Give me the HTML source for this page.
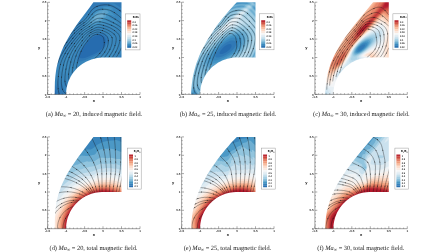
<!DOCTYPE html>
<html><head><meta charset="utf-8"><title>Magnetic field figure</title>
<style>html,body{margin:0;padding:0;background:#fff}svg{display:block;text-rendering:geometricPrecision}</style></head>
<body>
<svg width="448" height="252" viewBox="0 0 448 252">
<rect width="448" height="252" fill="#fff"/>
<defs>
<mask id="cpa" maskUnits="userSpaceOnUse" x="47.6" y="-1.4" width="90" height="100"><path d="M54.7 94.5 54.8 86.7 54.9 82 55.1 78.9 55.4 75.7 56 71.1 56.5 67.9 57.2 64.8 58 61.7 58.4 60.1 59.4 57 59.9 55.4 60.5 53.9 61.7 50.7 62.4 49.2 63.8 46.1 66.2 41.4 68.9 36.7 71.8 32 75 27.3 78.3 22.6 81.7 17.9 90 7 93.4 2.3 121.5 2.3 121.5 57.6 102 57.6 99.1 57.8 97.1 58.1 95.2 58.5 93.3 58.9 91.4 59.5 89.6 60.2 87.8 60.9 86 61.8 84.3 62.7 82.6 63.8 80.2 65.5 78.7 66.7 77.2 68.1 75.9 69.5 74 71.7 72.8 73.3 71.7 74.9 70.7 76.6 69.8 78.4 68.6 81.1 67.6 83.9 67.1 85.7 66.5 88.6 66.3 90.6 66.1 92.5 66.1 94.5Z" fill="#fff"/></mask>
<mask id="cpb" maskUnits="userSpaceOnUse" x="181.6" y="-1.5" width="90" height="100"><path d="M191.2 94.4 191.3 91.3 191.4 88.1 191.7 85 192.1 81.9 192.5 78.8 193.1 75.6 194.2 71 195.5 66.3 196.5 63.1 197.7 60 199.5 55.3 200.9 52.2 202.4 49.1 204.9 44.4 206.6 41.3 208.5 38.1 210.5 35 212.5 31.9 214.7 28.8 216.9 25.6 220.5 21 223 17.8 225.6 14.7 228.3 11.6 231 8.5 233.9 5.3 236.8 2.2 255.5 2.2 255.5 57.5 236 57.5 234.1 57.6 231.1 58 229.2 58.4 227.3 58.8 225.4 59.4 223.6 60.1 221.8 60.8 220 61.7 218.3 62.6 216.6 63.7 214.2 65.4 212.7 66.6 211.2 68 209.9 69.4 208 71.6 206.8 73.2 205.7 74.8 204.2 77.4 203.4 79.2 202.6 81 201.6 83.8 201.1 85.6 200.7 87.6 200.4 89.5 200.2 91.5 200.1 94.4Z" fill="#fff"/></mask>
<mask id="cpc" maskUnits="userSpaceOnUse" x="314.9" y="-1.5" width="90" height="100"><path d="M325.2 94.4 325.3 91.3 325.5 88.1 325.9 83.5 326.3 80.3 326.9 77.2 327.6 74.1 328 72.5 328.9 69.4 329.4 67.8 329.9 66.3 331 63.1 333 58.5 334.4 55.3 336 52.2 338.6 47.5 341.5 42.8 344.6 38.1 346.8 35 349.1 31.9 352.6 27.2 357.6 21 373.1 2.2 388.8 2.2 388.8 57.5 369.3 57.5 367.4 57.6 364.4 58 362.5 58.4 360.6 58.8 358.7 59.4 356.9 60.1 355.1 60.8 353.3 61.7 351.6 62.6 349.9 63.7 347.5 65.4 346 66.6 344.5 68 343.2 69.4 341.3 71.6 340.1 73.2 339 74.8 338 76.5 337.1 78.3 336.3 80.1 335.2 82.8 334.7 84.7 334.2 86.6 333.7 89.5 333.4 92.4 333.4 94.4Z" fill="#fff"/></mask>
<mask id="cpd" maskUnits="userSpaceOnUse" x="47.6" y="133.2" width="90" height="100"><path d="M54.7 228.7 54.8 220.9 54.9 216.3 55.1 213.1 55.4 210 56 205.4 56.5 202.2 57.2 199.1 58 196 58.4 194.5 59.4 191.4 59.9 189.8 60.5 188.2 61.7 185.1 62.4 183.6 63.8 180.5 66.2 175.8 68.9 171.1 71.8 166.5 75 161.8 78.3 157.1 81.7 152.5 90 141.6 93.4 136.9 121.5 136.9 121.5 192 102 192 99.1 192.2 97.1 192.4 95.2 192.8 93.3 193.3 91.4 193.8 89.6 194.5 87.8 195.3 86 196.1 84.3 197.1 82.6 198.1 81 199.2 78.7 201.1 77.2 202.4 75.9 203.8 74.6 205.3 72.8 207.6 71.2 210.1 70.2 211.8 69 214.4 68.3 216.2 67.6 218.1 67.1 220 66.7 221.9 66.4 223.8 66.1 226.7 66.1 228.7Z" fill="#fff"/></mask>
<mask id="cpe" maskUnits="userSpaceOnUse" x="181.6" y="133.2" width="90" height="100"><path d="M191.2 228.7 191.3 225.6 191.4 222.5 191.7 219.4 192.1 216.3 192.5 213.1 193.1 210 194.2 205.4 195.5 200.7 196.5 197.6 197.7 194.5 199.5 189.8 200.9 186.7 202.4 183.6 204.9 178.9 206.6 175.8 208.5 172.7 210.5 169.6 212.5 166.5 214.7 163.4 216.9 160.2 220.5 155.6 223 152.5 225.6 149.3 228.3 146.2 231 143.1 233.9 140 236.8 136.9 255.5 136.9 255.5 192 236 192 233.1 192.2 231.1 192.4 229.2 192.8 227.3 193.3 225.4 193.8 223.6 194.5 221.8 195.3 220 196.1 218.3 197.1 216.6 198.1 215 199.2 212.7 201.1 211.2 202.4 209.9 203.8 208.6 205.3 206.8 207.6 205.7 209.2 204.2 211.8 203.4 213.5 202.6 215.3 201.6 218.1 201.1 220 200.7 221.9 200.4 223.8 200.1 226.7 200.1 228.7Z" fill="#fff"/></mask>
<mask id="cpf" maskUnits="userSpaceOnUse" x="314.9" y="133.2" width="90" height="100"><path d="M325.2 228.7 325.3 225.6 325.5 222.5 325.9 217.8 326.3 214.7 326.9 211.6 327.6 208.5 328 206.9 328.9 203.8 329.4 202.2 329.9 200.7 331 197.6 333 192.9 334.4 189.8 336 186.7 338.6 182 341.5 177.4 344.6 172.7 346.8 169.6 349.1 166.5 352.6 161.8 357.6 155.6 373.1 136.9 388.8 136.9 388.8 192 369.3 192 366.4 192.2 364.4 192.4 362.5 192.8 360.6 193.3 358.7 193.8 356.9 194.5 355.1 195.3 353.3 196.1 351.6 197.1 349.9 198.1 348.3 199.2 346 201.1 344.5 202.4 343.2 203.8 341.9 205.3 340.7 206.8 339 209.2 338 210.9 337.1 212.6 336.3 214.4 335.2 217.2 334.7 219 334.2 220.9 333.7 223.8 333.4 226.7 333.4 228.7Z" fill="#fff"/></mask>
</defs>
<g mask="url(#cpa)">
<rect x="50.6" y="0.1" width="80" height="97" fill="#266caf"/>
<path d="M53.9 97 54.1 97 53.4 94.7 53.4 93.4 53.9 89.9 54.3 89 54.6 88.9 55.3 90.3 56.5 93.8 57 97.5 66.7 97.5 69.2 94.3 69.2 89.8 69.5 89.3 69.5 88 69.9 87.5 69.9 86.2 70.2 85.7 70.2 84.8 70.5 84.4 70.5 83.5 70.9 83 70.9 82.6 71.2 82.1 71.2 81.7 71.6 81.2 71.6 80.8 71.9 80.3 71.9 79.8 72.6 78.9 72.6 78.5 73 78 73 77.6 74 76.2 74 75.8 76.8 72.2 77.1 72.2 77.8 71.3 78.2 71.3 78.8 70.4 79.2 70.4 79.9 69.5 80.2 69.5 80.9 68.6 81.3 68.6 81.6 68.1 82 68.1 82.3 67.7 82.7 67.7 83 67.2 83.3 67.2 83.7 66.8 84 66.8 84.4 66.3 85.1 66.3 85.4 65.9 85.8 65.9 86.1 65.4 86.8 65.4 87.1 65 87.5 65 87.8 64.5 88.5 64.5 88.9 64.1 89.9 64.1 90.3 63.6 91 63.6 91.3 63.2 92.7 63.2 93 62.7 94.1 62.7 94.4 62.3 96.5 62.3 96.8 61.8 99.9 61.8 100.3 61.4 121.4 61.3 124.5 57.3 124.5 3 118.4 -1.4 97.4 -1.4 96.8 -1.2 94.4 0.2 91.6 2.4 91.4 2.2 92.3 1.3 94 0 96.3 -1.4 93.4 -1.4 81.6 14 81.6 14.4 73.3 25.2 73.3 25.7 70.2 29.8 70.2 30.2 68.5 32.5 68.5 32.9 66.7 35.2 66.7 35.6 65.4 37.4 65.4 37.9 64.3 39.2 64.3 39.7 63.6 40.6 63.6 41 62.6 42.4 62.6 42.8 61.9 43.7 61.9 44.2 61.2 45.1 61.2 45.5 60.9 46 60.9 46.5 60.2 47.4 60.2 47.8 59.8 48.3 59.8 48.7 59.1 49.6 59.1 50.1 58.8 50.5 58.8 51 58.4 51.4 58.4 51.9 58.1 52.3 58.1 52.8 57.7 53.2 57.7 53.7 57.4 54.1 57.4 54.6 57.1 55 57.1 55.5 56.7 55.9 56.7 56.4 56.4 56.8 56.4 57.7 56 58.2 56 58.6 55.7 59.1 55.7 60 55.3 60.4 55.3 60.9 55 61.3 55 62.2 54.6 62.7 54.6 63.6 54.3 64.1 54.3 65.4 53.9 65.9 53.9 66.8 53.6 67.2 53.6 68.6 53.2 69 53.2 70.8 52.9 71.3 52.9 73.1 52.6 73.5 52.6 76.2 52.2 76.7 52.2 81.2 51.9 81.7 51.9 91.8 52.7 95.2 53.6 96.5ZM59.1 95.3 58.4 94.3 57.9 92.9 57.8 91.6 58 90.7 58.1 90.3 58.4 90.5 59.1 92.2 59.8 94.7 59.8 95.3 59.5 95.5ZM80.6 58.2 79.9 57.7 79.5 57 79.5 56.4 79.8 54.6 80.5 52.8 82.3 49.6 84.7 46 87.1 42.7 88.9 40.6 91.8 37.9 93.1 37 95.1 35.9 97.2 35.2 98.6 35 100.3 34.9 101.9 35.2 103.6 36.1 104.8 37.3 105.5 38.7 105.8 40.6 105.7 42.4 105.1 44.4 104 46.5 102.6 48.3 100.8 50.1 98.9 51.4 95.8 53.2 92.1 55 88 56.8 85.4 57.8 83 58.3 80.9 58.3ZM90.3 3.6 90.3 3.6ZM90.6 3.2 90.6 3.1 91.3 2.3 91.4 2.7 91 3.1ZM96.5 2.7 96.6 2.7ZM97.2 2.2 97.5 2.2ZM98.2 1.8 98.6 1.8ZM99.6 1.3 99.9 1.3ZM101 0.9 101.2 0.9ZM54.3 97.5 54.3 97.3Z" fill="#3079b6"/>
<path d="M64.4 97 65.7 97.5 66.7 97.5 67.8 95.9 66.4 95.9 65 95.5 62.6 94.2 62.2 94.3 62.6 95.2 63.3 96.1 64.3 96.9ZM68.1 92 69.2 92.1 69.2 90.4 67.8 90.1 66.4 89.2 65.4 87.9 64.7 86.2 64.4 84.8 64.2 83 64.3 81.1 64.7 79.3 65 79.2 66.1 82.6 67.1 84.4 68.3 85.7 69.9 86.4 69.9 86.2 70.2 85.7 70.3 84.4 69.3 83.5 68.6 82.1 68.3 80.3 68.5 78.3 68.8 78.2 70.2 80 71.6 81 71.6 80.8 71.9 80.3 71.9 79.8 72.6 78.9 72.6 78.5 73 78 73.3 76.4 74 76.2 74 75.8 76.8 72.2 77.1 72.2 77.8 71.3 78.2 71.3 78.8 70.4 79.2 70.4 79.9 69.5 80.2 69.5 80.9 68.6 81.3 68.6 81.6 68.1 82 68.1 82.3 67.7 82.7 67.7 83 67.2 83.3 67.2 83.7 66.8 84 66.8 84.4 66.3 85.1 66.3 85.4 65.9 85.8 65.9 86.1 65.4 86.8 65.4 87.1 65 87.5 65 87.8 64.5 88.5 64.5 88.9 64.1 89.9 64.1 90.3 63.6 91 63.6 91.3 63.2 92.7 63.2 93 62.7 94.1 62.7 94.4 62.3 96.5 62.3 96.8 61.8 99.9 61.8 100.3 61.3 113 61.3 114.1 60.3 114.2 60.4 113.8 61.3 116.4 61.3 119.8 56.4 123.3 50.1 124.5 47.4 124.5 21.2 121 18 119.3 16.2 119.8 16.2 121 17.1 123.5 19.6 124.5 20.5 124.5 15.6 122.1 13.5 114.8 7.8 112.7 6.6 110.3 5.7 107.6 5.5 104.1 5.7 99.9 6.5 96.8 7.5 94.8 8.5 92.7 10 91 11.7 88.5 14.9 88.4 14.9 88.5 14.4 89.9 11.7 91.3 9.4 93 7.2 92.7 7.1 91.8 7.6 89.6 9.9 86.1 15.3 83.2 18.9 76.8 23.9 70.5 29.3 70.2 29.8 70.2 30.5 73.7 27.3 77.1 24.7 81.9 21.6 82.3 21.5 82.6 21.6 77.1 26 71.6 31.1 69.1 33.8 65 38.8 63.6 40.6 63.6 41 62.6 42.4 62.6 42.9 66.4 38.1 69.9 34 73.7 30 75.7 28.3 78.8 26.1 80.2 25.2 80.6 25.1 80.8 25.2 75.4 30.1 71.2 34.7 67.4 39.2 63.6 44.2 60.2 49.1 58.1 52.3 58.1 52.8 57.7 53.2 57.7 53.7 57.4 54.1 57.4 54.6 57.1 55 57.1 55.5 56.7 55.9 56.7 56.6 59.1 52.3 61.3 48.7 64.8 43.7 68.8 38.6 72.6 34.1 75.4 31.4 78.6 28.9 79.2 28.5 79.3 28.9 75 33.3 69.8 39.7 65.4 45.6 61.2 51.8 58.1 57.3 55.9 61.8 54.1 66.8 53.3 69.8 53.3 70.8 52.9 71.3 52.9 73.1 52.6 73.5 52.6 76.2 52.2 76.7 52.2 81.2 52 81.7 52.2 85.3 52.6 87.1 52.9 87.1 53.3 86 55 74.9 55.3 83.5 55.7 86 56 86.9 56.4 86.9 56.7 85.8 57.7 79.6 58.1 78.7 59.1 86.2 59.5 87.7 60.2 89.1 60.3 88.4 60.5 84.4 60.8 81.2 61.2 79.6 61.6 79.6 62.5 84.8 63.6 88.1 64.3 89.4 65.4 90.7 66.7 91.6 67.8 92ZM76.8 37.1 76.5 37 76.8 36.8 76.9 37ZM77.1 61.4 77.1 60 77.7 56.8 78.5 54.6 79.9 51.5 82 47.8 83.7 45.1 88.2 39.2 91.3 36.1 92.6 35.2 94.4 34.3 95.8 33.8 97.2 33.5 100.6 33.5 100.9 33.4 100.3 32.9 99.3 32.5 99.6 32.3 101 32.4 102.7 32.9 104.7 33.8 106.1 34.7 107.4 36.1 108.4 37.9 108.7 39.7 108.6 42.4 108.2 44.5 107.6 46.5 107.5 46 107.7 43.7 107.6 43.2 107.2 42.9 106.5 43.9 105.3 46.9 104.1 49 102 51.9 101 52.8 96.6 55 84 60.4 80.2 61.5 78.8 61.7 77.5 61.5ZM56 69.2 56 68.1 56.4 66.3 57.1 63.7 58.1 60.6 60.1 55.9 63.1 50.5 67.4 44.2 72 38.3 76.1 33.8 78.2 32 78.5 31.8 78.6 32 69.3 43.7 66.4 47.9 63.5 52.3 60.7 57.3 59 60.9 57.2 65.4 56 69ZM63.6 56 63.7 55.9ZM64 55.6 63.9 55.5 64 55 66 51 69.5 45.5 74 39.7 76.4 37.1 76.5 37.4 68.6 48.3 64 55.5ZM77.1 36.6 77.2 36.5ZM78.8 31.6 78.9 31.6ZM79.5 28.5 79.3 28.4 79.7 28.4ZM83 21.2 82.8 21.2 83.1 21.2ZM97.2 32 98.9 32 99.1 32 98.9 32.1 97.5 32ZM105.8 32 105.9 32ZM118.4 61.3 119.7 61.3 124.2 54.5 124.5 53.9 124.5 50.6 121.6 56.4 118.6 61ZM56.4 57.3 56.6 56.8 56.4 56.8ZM61.9 43.7 61.9 43.7ZM62.2 43.3 62.2 43.3ZM69.2 31.6 69.2 31.6ZM69.5 31.1 69.5 31.1ZM69.9 30.7 69.9 30.8 70.1 30.7 69.9 30.7ZM73.7 24.8 73.7 24.8ZM74 24.3 74 24.5 74.2 24.3 74 24.3ZM74.4 23.9 74.4 24.2 77.5 21.9 82 19 84 16.7 85.3 14.9 87.2 11.2 88.7 8.1 88.5 7.8 87.1 9.5 84 14.8 82.2 17.1 80.6 18.7 75.4 22.5 74.4 23.9ZM78.2 18.9 78.2 18.9ZM78.5 18.5 78.5 18.7 80.1 17.6 82.3 15.3 84.4 11.7 85.4 9.4 85.6 9 85.4 9 84 10.8 81.9 14.4 78.5 18.5ZM124.4 12.6 124.5 12.7 124.5 10.2 120 7.5 115.9 4.5 114.2 3.6 112.1 2.9 109.6 2.7 109.3 2.9 109.2 3.1 114.5 6 119.3 8.4 121 9.7 124.2 12.4ZM85.8 8.5 85.8 8.5ZM88.8 7.6 88.9 7.6Z" fill="#3986bc"/>
<path d="M66.7 74.9 66.7 75.1 67.1 74.4 67.4 73 68.7 65.4 69.6 61.3 70.7 58.2 72.4 54.1 74.9 49.6 78.5 44.2 84.4 36.7 86.5 34.5 87.2 33.8 87.1 33.5 84.7 35.6 80.1 41 76.1 46.5 74.3 49.2 72.3 52.8 70.2 57.4 68.5 63.1 67.1 69.1 66.7 72.2 66.6 74.4ZM63.5 74.4 63.6 74.6 64 73.3 65.5 65.4 66.5 61.3 68.4 56.4 71 51 70.9 50.7 68.1 55.4 66.7 58.4 65.7 61.1 64.7 64.7 64 68.1 63.6 70.8 63.4 74ZM70.1 74 70.2 74.3 70.5 74.2 70.9 72.6 71.6 67.7 71.7 65.4 71.6 65.2 71.2 66.1 70.5 68.6 70.1 71.3 70.1 73.5ZM60.5 72.2 60.9 71 62.3 63.6 62.2 63.2 61.2 66.7 60.5 70.6 60.5 71.7ZM73.9 72.2 74 72.4 74.3 72.2 74.4 67.2 74.4 67 74 68.1 73.8 69.5 73.7 70.8 73.8 71.7ZM90.9 63.6 91 63.6ZM91.5 63.2 92.2 63.2 94.4 61.3 97.5 58.6 97.2 58.5 96.9 58.6 91.6 63ZM62.6 62.7 62.6 62.5ZM97.7 61.8 98.6 61.8 100.7 60 102.5 58.2 104 56.4 105.5 54.1 105.6 53.7 105.5 53.6 97.9 61.7ZM103.7 60.4 103.8 60.6 104.1 60.5 104.8 60 106.5 58.2 108.3 55.9 110 53.5 111.4 51 112.7 47.8 113.5 45.5 113.4 44.5 113.3 45.1 112.2 47.8 110.5 51 108.5 54.1 103.8 60.4ZM109.3 58.6 109.6 58.7 111.7 56.3 113.4 53.8 114.8 51.4 115.9 49.2 116.9 46.2 117.3 44.6 117.4 43.7 117.2 43.5 115.7 47.4 114 51 112.2 54.1 109.6 58.2ZM97.5 58.2 97.5 58.5 97.9 58.2 97.9 58.1 97.5 58.1ZM98.1 57.7 98.2 57.7ZM71.1 50.5 71.3 50.5 71.2 50.1ZM71.6 49.6 71.6 49.9 71.6 49.6ZM71.9 49.2 71.9 49.1ZM72.3 48.7 72.3 48.7ZM77.8 48.7 77.8 48.7ZM78.1 48.3 78.2 48.1ZM78.4 47.8 78.5 47.6ZM78.8 46.9 78.8 47.3 78.8 46.9ZM79.2 46.5 79.2 46.7 79.3 46.5 79.2 46.4ZM79.5 46 79.5 46.2 79.5 45.9ZM79.8 45.5 79.9 45.7 79.9 45.4ZM80.2 45.1 80.2 45.2 80.2 45ZM80.5 44.6 80.6 44.5ZM80.9 44.2 80.9 44.1ZM81.2 43.7 81.3 43.7ZM113.8 43.7 113.8 43.6ZM76.8 42.4 76.8 42.4ZM77.1 41.9 77.1 41.9ZM77.4 41.5 77.5 41.5 77.5 41.3ZM77.7 41 77.9 41 77.8 40.8ZM78 40.6 78.2 40.7 78.3 40.6 78.2 40.3ZM78.3 40.1 78.5 40.3 82.3 36 85.1 33.2 86.8 31.8 88.9 30.5 94.8 27.3 96.8 26.6 98.9 26.3 102.9 26.6 102 26.4 101.9 26.1 98.9 25.2 96.5 24.9 96.3 24.8 97.7 24.3 99.6 24.1 101.7 24.2 106.2 25 110 26.4 112.7 27.8 115.9 29.8 116.2 30 116.4 29.8 114.7 28.4 111.4 26.6 101.8 22.5 101.6 22.1 102.7 21.9 104.4 22 106.5 22.4 110.7 23.7 116.5 26.6 117.2 26.8 117.3 26.6 114.8 24.8 107.6 21.3 106 20.3 105.5 19.8 105.3 19.4 105.8 19 106.5 18.9 108.9 19.3 112.1 20.5 116.5 23 117.2 23.2 117.5 23 116.6 22.1 114.9 20.7 110.3 18 109.3 17.1 108.7 16.2 108.6 15.8 108.7 15.3 109.3 15 110 14.9 112.1 15.2 114.5 16.2 115.2 16.3 115.2 16.2 114.8 15.8 113.1 14.2 111.7 12.6 110 10.3 110.2 9.9 110.7 9.8 113.1 9.6 113.3 9.4 113 9 111 7.6 108.9 7 106.5 6.8 103.7 7.2 103.1 7.6 103.1 8.5 102.3 9 98.9 10.2 97.2 11 95.4 12 94.1 13.1 91 16.3 88.2 19.8 86.8 21.4 84 23.9 84 24.1 84.7 24 87.5 22.5 87.9 22.5 86.7 23.9 83.4 26.6 82.9 27 83 27.2 83.6 27 87.2 25.2 87.8 25.1 87.9 25.2 82.9 29.3 82.4 29.8 82.7 29.9 88.9 26.6 89.6 26.4 89.6 26.6 88.5 27.5 85.4 29.6 83.6 31.1 81.3 33.4 81.3 33.7 83.7 31.8 86.1 30.1 89.9 28.1 93.1 26.1 94.1 25.7 94.8 25.6 94.8 25.7 94.4 25.9 91 28.6 87.5 30.6 85 32.5 82.2 35.2 78.5 39.8ZM95.1 25.3 95.4 25.2 95.8 25.2 95.4 25.3ZM89.9 26.2 89.9 26.1ZM80.6 34.3 80.6 34.3ZM80.9 33.8 81.2 33.8 80.9 33.8ZM87.2 33.4 87.5 33.5 87.8 33.4 87.5 33.2ZM87.8 32.9 87.8 33.2 88.4 32.9 88.2 32.8 87.8 32.9ZM88.5 32.5 88.5 32.6 89 32.5 88.9 32.3 88.5 32.4ZM89.2 32 89.2 32.1 89.7 32 89.2 32ZM90 31.6 90.3 31.6 90.5 31.6 90.3 31.5ZM90.9 31.1 91.4 31.1 91 31.1ZM91.8 30.7 92.2 30.7 92 30.6ZM81.9 30.2 82.3 30.2 82 30.2ZM92.6 30.2 93.1 30.2 92.7 30.2ZM116.5 30.2 116.8 30.2 116.5 30.1ZM93.5 29.8 94 29.8 93.7 29.7ZM94.5 29.3 95.1 29.3 94.8 29.2ZM95.6 28.9 96.3 28.9 95.8 28.8ZM83.6 24.3 83.9 24.3 83.7 24.3ZM85.7 20.3 85.8 20.3ZM86.1 19.8 86.1 19.9 86.5 19.9 87.1 19.4 88.7 17.1 88.5 16.8 86.1 19.8ZM88.7 16.7 88.9 16.8 88.9 16.5ZM89.2 16.2 89.2 16.2Z" fill="#4393c3"/>
<path d="M90.6 24.3 93.4 22.9 95.6 22.1 97.2 21.6 101.8 20.7 102.4 20.4 102.5 20.3 102.5 19.8 102.1 18.9 102.4 18.5 103.3 18 105.3 17.6 106.1 17.1 106.3 16.7 105.8 14.9 105.8 14.4 106.2 14 108.3 13.1 108.8 12.6 108.7 12.2 108.5 11.7 107.3 10.8 105.8 10.3 104.4 10.1 102.7 10.2 100.6 10.7 98.9 11.2 97.2 12.2 95.4 13.5 94.2 14.9 94.8 14.9 94.9 15.3 89.6 22.1 89.4 22.5 89.6 22.6 91.6 21.5 92.3 21.4 92.4 21.6 90.6 23.9 90.6 24.3ZM94 24.3 94.3 24.3 94.1 24.3ZM94.4 23.9 94.4 24.1 95.4 23.9 97.9 23 97.2 22.8 96.1 22.9 94.4 23.9Z" fill="#5aa1cb"/>
<path d="M95.3 20.7 95.8 20.9 96.8 20.7 98.2 20.3 99 19.8 98.8 19.4 98.6 19.2 97.5 19.1 96.5 19.6 95.4 20.6ZM93.6 18.9 95.8 18.5 98.2 18.2 102.3 17.1 103.3 16.7 103.7 16.2 103.7 15.8 103.5 15.3 102.4 14.3 101.3 14 100.3 14.1 98.6 14.7 96.8 15.7 94.9 17.1 93.7 18.5ZM101.9 12.2 102.7 12.4 104.1 12.2 104.1 11.7 103.4 11.6 102.6 11.7 102 12.1Z" fill="#70b0d2"/>
<path d="M76.3 68.6 76.4 67.2 76.7 65.4 78.2 59.5 80.1 53.7 81.2 51 82.1 49.2 84.2 45.5 87.2 41.5 89.1 39.2 91.2 37 92.2 36.1 93 35.6 94.1 35.1 95.4 34.6 96.5 34.3 97.5 34.3 98.2 34.3 99.3 34.6 100.6 35.2 101.4 35.6 102.6 36.5 103 37 103.5 37.9 103.8 39.2 104.3 42.8 104.2 44.6 103.9 46.5 103.2 48.3 102 50.5 100.6 52.4 98.9 54.5 97.2 56.2 94.3 58.6M72.3 73.5 72.3 71.7 72.5 69.5 73.1 66.3 73.9 63.2 74.8 59.5 75.8 56.4 76.9 53.7 77.9 51.4 79.1 49.2 80.8 46.5 82.3 44.2 84.4 41.5 86.6 38.8 88.9 36.3 90.3 35 91.6 34.1 94.4 32.8 96.1 32.2 97.5 32 99.3 32.2 102.4 33.2 103.7 33.8 104.8 34.4 105.8 35.2 106.7 36.1 107.4 37 107.8 37.9 108.1 38.8 108.3 39.7 108.3 42.4 108 44.6 107.2 47.4 106.2 49.6 104.6 52.3 102.5 55 100.3 57.6M69 79.8 68.6 78 68.5 75.8 68.7 73.1 69.2 69.5 70.1 65 71.1 60.9 72.1 57.7 73.3 54.6 74.7 51.9 76.5 48.7 78.5 45.5 80.9 42.4 83.8 38.8 86.5 35.7 88 34.3 89.9 32.9 93.4 31.1 95.4 30.2 97.2 29.8 98.2 29.8 99.3 29.9 101.3 30.4 103.4 31 105.1 31.7 106.9 32.5 108.3 33.4 109.5 34.3 110.5 35.2 111.5 36.5 111.9 37.4 112.2 38.3 112.3 40.1 112 43.3 111.1 46.5 110 49.2 108.6 51.9 106.8 54.6 104.4 57.6M66.7 86.7 66.1 85.7 65.7 84.8 65.1 82.6 64.9 79.8 65 76.7 65.5 71.7 66.4 66.8 67.4 62.2 68.8 58.2 70.1 55 72 51.4 73.9 48.3 76.4 44.6 79.5 40.6 83.2 36.1 85.4 33.8 87.5 32.2 89.6 30.9 95.4 27.8 97.2 27.3 98.9 27.2 100.6 27.5 103.4 28.3 105.5 29 107.6 29.9 110.3 31.4 112 32.5 113.4 33.6 114.6 34.7 115.2 35.6 115.7 36.5 116 37.4 116.2 38.3 116.2 39.2 116.1 40.6 115.8 42.4 115.4 44.2 114.4 47.4 112.7 51 110.9 54.1 108.6 57.4M66 93.6 65 93 64.3 92.4 63.6 91.6 62.8 90.2 62.3 88.9 61.9 87.5 61.6 85.7 61.4 83.9 61.3 81.7 61.4 79.4 62 73.1 63.1 66.8 64.2 62.2 65.5 58.6 67.4 54.6 69.4 51 72 46.9 75.6 41.9 80 36.5 82.5 33.8 85.1 31.6 87 30.2 90.2 28.4 93.4 26.2 94.8 25.4 95.8 25 96.8 24.7 97.9 24.5 98.9 24.5 101 24.8 103.8 25.5 106.5 26.4 109.3 27.5 111.4 28.6 113.4 29.8 115.2 31.1 117.4 32.9 118.2 33.8 118.9 34.7 119.3 35.6 119.8 37 120 37.9 120 39.2 119.7 41.5 119.3 43.3 118.6 45.5 117 49.6 114.8 53.7 112.4 57.4M59.5 94.4 58.7 92 58.1 88.9 57.9 85.3 57.9 81.7 58.4 75.8 59.1 70.4 59.9 66.3 60.9 62.7 62.1 59.5 63.8 55.9 65.7 52.3 67.9 48.7 70.4 45.1 73.5 41 77.5 36.1 80 33.4 81.9 31.6 83.7 30.2 85.4 29 88.9 26.9 92.3 24.2 93.7 23.3 95.1 22.5 96.1 22.1 97.2 21.9 98.6 21.8 101.3 22 104.4 22.7 108.2 24 111.7 25.4 114.8 27 117.6 28.8 119.8 30.7 121.4 32.5M121.4 47.7 120.4 50.1 119 52.8 117.7 55 116.2 57.4M57.4 64.1 58.6 60.9 60 57.7 61.6 54.6 63.7 51 66 47.4 68.6 43.7 71.4 40.1 74.7 36.1 77.5 32.9 80.6 30.1 82.9 28.4 87.8 25.1 92.3 21.4 95.4 19.3 96.5 18.8 97.5 18.4 98.6 18.3 99.6 18.2 102.5 18.5 105.5 19.2 107.6 20 109.6 20.9 115.5 23.9 118.6 25.7 121.4 27.7M63.3 47.2 66.1 43.3 69.6 38.8 73.4 34.3 76.1 31.5 78 29.8 79.9 28.2 83 25.9 86.1 23.9 87.5 22.8 90.3 20.2 92.3 18 93.7 16.7 95.8 15.2 97.2 14.5 98.2 14.2 99.3 14 102 13.8 103.4 13.9 104.8 14.1 107.2 14.8 108.6 15.4 110.3 16.2 115.9 19.6 118.6 21.4 121.4 23.6M70.2 34.7 73.3 31.3 76.4 28.5 80.6 25.2 85.1 22.2 86.8 20.7 88.1 19.4 92 14.3 93.7 12.4 94.8 11.6 95.8 10.9 96.8 10.3 97.9 9.9 99.3 9.6 100.6 9.3 103.8 9.2 106.5 9.4 109.3 10.1 112.1 11.3 114.8 12.9 118.3 15.4 121.4 18.1M75.4 26.8 79.1 23.9 83.3 21 85.2 19.4 86.3 18 88.2 15.3 90.6 11.6 91.6 10.2 92.7 9.1 93.7 8.3 95.1 7.3 96.5 6.6 98.2 5.9 101 5.2 104.1 4.8 106.9 4.8 109.6 5.3 112.1 6.1 114.8 7.4 118.3 9.5 121.4 11.7" fill="none" stroke="#111" stroke-width="0.45" stroke-opacity="0.8"/>
<path d="M77.5 62 77.6 63.3 76.7 63.1ZM81.4 50.5 81.4 51.8 80.5 51.4ZM88.1 40.4 87.7 41.6 87 41ZM98.1 34.3 96.9 34.7 96.9 33.8ZM104.3 43.3 103.7 42.1 104.7 42ZM99.3 54.1 99.7 52.8 100.5 53.4ZM73 66.9 73.2 68.2 72.3 68ZM76.3 55.2 76.3 56.5 75.4 56.2ZM82.1 44.5 81.8 45.8 81 45.3ZM90 35.2 89.4 36.4 88.7 35.7ZM101.3 32.8 100 32.9 100.2 32ZM108.3 41.5 107.8 40.2 108.8 40.2ZM104.3 52.7 104.6 51.4 105.4 52ZM68.7 73.2 69 74.5 68.1 74.4ZM71 61.3 71.2 62.6 70.2 62.3ZM75.7 50.1 75.5 51.4 74.6 50.9ZM82.7 40.1 82.3 41.4 81.5 40.8ZM91.6 32 90.7 33 90.3 32.1ZM103.2 31 101.9 31.1 102.1 30.1ZM112.3 38.4 111.4 37.3 112.3 37ZM109.6 50.1 109.7 48.8 110.5 49.2ZM64.9 80.4 65.5 81.6 64.5 81.6ZM66.1 68.3 66.3 69.6 65.4 69.4ZM69.4 56.6 69.4 57.9 68.5 57.6ZM75.4 46 75.1 47.3 74.3 46.8ZM82.9 36.4 82.5 37.7 81.7 37.1ZM92.6 29.3 91.8 30.3 91.3 29.4ZM104.2 28.5 102.9 28.6 103.2 27.7ZM114.6 34.7 113.4 34.1 114.1 33.5ZM114.8 46.3 114.7 45 115.6 45.3ZM108.9 56.9 109.3 55.7 110 56.2ZM62.1 88.4 63 89.4 62.1 89.8ZM61.6 76.3 62 77.6 61 77.5ZM63.6 64.3 63.8 65.6 62.8 65.4ZM68.2 53.1 68 54.4 67.2 53.9ZM74.8 42.9 74.5 44.2 73.7 43.6ZM82.7 33.6 82.2 34.8 81.5 34.1ZM92.7 26.7 91.9 27.8 91.4 27ZM104.2 25.6 102.9 25.8 103.2 24.8ZM115.1 31 113.8 30.6 114.4 29.9ZM119.7 41.3 119.5 40 120.4 40.2ZM115.4 52.7 115.6 51.4 116.4 51.8ZM58 87.9 58.6 89.1 57.7 89.2ZM58.4 75.8 58.7 77.1 57.8 77ZM60.6 63.8 60.7 65.1 59.8 64.9ZM65.5 52.7 65.3 54 64.5 53.6ZM72.3 42.6 71.9 43.9 71.1 43.3ZM80.1 33.3 79.6 34.5 78.9 33.8ZM89.9 26.1 89.2 27.2 88.6 26.5ZM100.8 21.9 99.5 22.3 99.7 21.3ZM112.4 25.7 111.1 25.6 111.5 24.8ZM118.5 53.7 118.7 52.4 119.5 52.9ZM66 47.3 65.7 48.6 64.9 48.1ZM73.4 37.6 73 38.9 72.2 38.3ZM82 29 81.3 30.2 80.7 29.4ZM91.8 21.8 91.1 23 90.5 22.3ZM103 18.5 101.7 18.8 101.8 17.9ZM114.2 23.2 112.8 23.1 113.3 22.2ZM67.2 41.8 66.9 43.1 66.1 42.5ZM75.1 32.5 74.6 33.7 73.9 33.1ZM84.6 24.9 83.8 26 83.3 25.2ZM93.6 16.8 93 18 92.4 17.3ZM105 14.1 103.7 14.4 103.9 13.4ZM115.9 19.6 114.5 19.3 115 18.5ZM74.8 29.9 74.3 31.1 73.6 30.4ZM84.6 22.6 83.8 23.6 83.3 22.8ZM92.6 13.5 92.2 14.8 91.5 14.2ZM103.6 9.2 102.3 9.7 102.3 8.7ZM115 13 113.7 12.7 114.2 11.9ZM80.7 22.7 80 23.8 79.4 23ZM89 14 88.8 15.3 88 14.8ZM97.8 6 96.9 6.9 96.5 6ZM109.8 5.3 108.5 5.5 108.7 4.6ZM120.5 11 119.2 10.7 119.8 9.9Z" fill="#111"/>
</g>
<g stroke="#444" fill="none">
<path d="M47.6 2.3 V94.5 H140" stroke-width="0.5"/>
<path d="M47.6 94.5h2.4M47.6 90.8h1.1M47.6 87.1h1.1M47.6 83.4h1.1M47.6 79.7h1.1M47.6 76.1h2.4M47.6 72.4h1.1M47.6 68.7h1.1M47.6 65h1.1M47.6 61.3h1.1M47.6 57.6h2.4M47.6 53.9h1.1M47.6 50.2h1.1M47.6 46.6h1.1M47.6 42.9h1.1M47.6 39.2h2.4M47.6 35.5h1.1M47.6 31.8h1.1M47.6 28.1h1.1M47.6 24.4h1.1M47.6 20.7h2.4M47.6 17.1h1.1M47.6 13.4h1.1M47.6 9.7h1.1M47.6 6h1.1M47.6 2.3h2.4M47.6 94.5v-2.4M51.3 94.5v-1.1M55 94.5v-1.1M58.7 94.5v-1.1M62.4 94.5v-1.1M66.1 94.5v-2.4M69.8 94.5v-1.1M73.5 94.5v-1.1M77.2 94.5v-1.1M80.9 94.5v-1.1M84.6 94.5v-2.4M88.2 94.5v-1.1M91.9 94.5v-1.1M95.6 94.5v-1.1M99.3 94.5v-1.1M103 94.5v-2.4M106.7 94.5v-1.1M110.4 94.5v-1.1M114.1 94.5v-1.1M117.8 94.5v-1.1M121.5 94.5v-2.4M125.2 94.5v-1.1M128.9 94.5v-1.1M132.6 94.5v-1.1M136.3 94.5v-1.1M140 94.5v-2.4" stroke-width="0.45"/>
</g>
<g font-family="Liberation Sans, sans-serif" font-size="3" font-weight="bold" fill="#222">
<text x="46.4" y="3.3" text-anchor="end">2.5</text>
<text x="46.4" y="21.8" text-anchor="end">2</text>
<text x="46.4" y="40.2" text-anchor="end">1.5</text>
<text x="46.4" y="58.7" text-anchor="end">1</text>
<text x="46.4" y="77.1" text-anchor="end">0.5</text>
<text x="46.4" y="95.5" text-anchor="end">0</text>
<text x="47.6" y="97.6" text-anchor="middle">-1.5</text>
<text x="66.1" y="97.6" text-anchor="middle">-1</text>
<text x="84.6" y="97.6" text-anchor="middle">-0.5</text>
<text x="103" y="97.6" text-anchor="middle">0</text>
<text x="121.5" y="97.6" text-anchor="middle">0.5</text>
<text x="140" y="97.6" text-anchor="middle">1</text>
</g>
<g font-family="Liberation Sans, sans-serif" font-size="4" font-weight="bold" fill="#000">
<text x="93.8" y="102.1" text-anchor="middle">x</text>
<text x="39" y="49.4" text-anchor="middle">y</text>
</g>
<rect x="125.6" y="13.9" width="14.4" height="36" fill="#fff" stroke="#999" stroke-width="0.5"/>
<rect x="127.2" y="20.30" width="4" height="1.98" fill="#bc2b34"/>
<rect x="127.2" y="22.13" width="4" height="1.98" fill="#cf5246"/>
<rect x="127.2" y="23.95" width="4" height="1.98" fill="#e0775f"/>
<rect x="127.2" y="25.78" width="4" height="1.98" fill="#f09c7b"/>
<rect x="127.2" y="27.61" width="4" height="1.98" fill="#f8bb9e"/>
<rect x="127.2" y="29.43" width="4" height="1.98" fill="#fcd7c2"/>
<rect x="127.2" y="31.26" width="4" height="1.98" fill="#fae8dd"/>
<rect x="127.2" y="33.09" width="4" height="1.98" fill="#f7f7f7"/>
<rect x="127.2" y="34.91" width="4" height="1.98" fill="#e3edf3"/>
<rect x="127.2" y="36.74" width="4" height="1.98" fill="#cde3ef"/>
<rect x="127.2" y="38.57" width="4" height="1.98" fill="#abd2e5"/>
<rect x="127.2" y="40.39" width="4" height="1.98" fill="#87beda"/>
<rect x="127.2" y="42.22" width="4" height="1.98" fill="#5da4cc"/>
<rect x="127.2" y="44.05" width="4" height="1.98" fill="#3c8abe"/>
<rect x="127.2" y="45.87" width="4" height="1.98" fill="#2a72b2"/>
<g font-family="Liberation Sans, sans-serif" font-size="2.4" font-weight="bold" fill="#222">
<text x="132.6" y="22.5">0.3</text>
<text x="132.6" y="26.2">0.26</text>
<text x="132.6" y="29.8">0.22</text>
<text x="132.6" y="33.4">0.18</text>
<text x="132.6" y="37.1">0.14</text>
<text x="132.6" y="40.7">0.1</text>
<text x="132.6" y="44.3">0.06</text>
<text x="132.6" y="47.9">0.02</text>
</g>
<text x="139.2" y="17.8" font-family="Liberation Sans, sans-serif" font-size="2.8" font-weight="bold" fill="#111" text-anchor="end">B<tspan font-size="2" dy="0.6">i</tspan><tspan dy="-0.6">/B</tspan><tspan font-size="2" dy="0.6">0</tspan></text>
<text x="94" y="116.1" font-family="Liberation Serif, serif" font-size="6.35" fill="#222" text-anchor="middle">(a) <tspan font-style="italic">Ma</tspan><tspan font-size="4.6" dy="1.1">∞</tspan><tspan dy="-1.1"> = 20, induced magnetic field.</tspan></text>
<g mask="url(#cpb)">
<rect x="184.6" y="0" width="80" height="97" fill="#266caf"/>
<path d="M190.4 96.9 190.7 97.4 200.8 97.4 203.2 94.2 203.2 89.7 203.5 89.2 203.5 87.9 203.9 87.4 203.9 86.1 204.2 85.6 204.2 84.7 204.6 84.3 204.6 83.4 204.9 82.9 204.9 82.5 205.3 82 205.3 81.6 205.6 81.1 205.6 80.7 205.9 80.2 205.9 79.7 206.6 78.8 206.6 78.4 207 77.9 207 77.5 208 76.1 208 75.7 210.8 72.1 211.1 72.1 211.8 71.2 212.2 71.2 212.8 70.3 213.2 70.3 213.9 69.4 214.2 69.4 214.9 68.5 215.3 68.5 215.6 68 216 68 216.3 67.6 216.7 67.6 217 67.1 217.3 67.1 217.7 66.7 218 66.7 218.4 66.2 219.1 66.2 219.4 65.8 219.8 65.8 220.1 65.3 220.8 65.3 221.1 64.9 221.5 64.9 221.8 64.4 222.5 64.4 222.9 64 223.9 64 224.3 63.5 225 63.5 225.3 63.1 226.7 63.1 227 62.6 228.1 62.6 228.4 62.2 230.5 62.2 230.8 61.7 233.9 61.7 234.3 61.3 255.4 61.3 258.5 57.2 258.5 2.6 257.5 1.2 255.4 -1.5 236.7 -1.5 236 -0.6 235.7 -0.6 234.3 1.2 233.9 1.2 231.9 3.9 231.5 3.9 229.8 6.2 229.4 6.2 226.7 9.8 226.3 9.8 222.2 15.2 221.8 15.2 213.5 26 213.5 26.5 209.4 31.9 209.4 32.4 207.3 35.1 207.3 35.5 205.9 37.3 205.9 37.8 204.5 39.6 204.5 40 203.5 41.4 203.5 41.8 202.5 43.2 202.5 43.6 201.4 45 201.4 45.4 200.7 46.4 200.7 46.8 200 47.7 200 48.2 199.3 49.1 199.3 49.5 199 50 199 50.4 198.3 51.3 198.3 51.8 197.6 52.7 197.6 53.1 197.3 53.6 197.3 54 196.9 54.5 196.9 54.9 196.2 55.8 196.2 56.3 195.9 56.7 195.9 57.2 195.5 57.6 195.5 58.1 195.2 58.5 195.2 59 194.8 59.4 194.8 59.9 194.5 60.3 194.5 60.8 194.2 61.2 194.2 61.7 193.8 62.1 193.8 62.6 193.5 63.1 193.5 64 193.1 64.4 193.1 64.9 192.8 65.3 192.8 65.8 192.4 66.2 192.4 67.1 192.1 67.6 192.1 68.5 191.7 68.9 191.7 69.4 191.4 69.8 191.4 70.7 191 71.2 191 72.1 190.7 72.5 190.7 73.9 190.3 74.3 190.3 75.2 190 75.7 190 77 189.7 77.5 189.7 79.3 189.3 79.7 189.3 81.6 189 82 189 84.3 188.6 84.7 188.6 88.3 188.3 88.8 188.3 94.2 190 96.5ZM220.5 54.1 219.7 53.6 219.6 53.1 219.8 52.2 220.7 50.4 222.6 48.2 224.6 46.3 226.7 45 228.4 44.3 230.1 44.1 231.2 44.6 231.5 45.2 231.6 45.9 231.5 46.8 231 47.7 229.7 49.5 227.6 51.3 225.3 52.7 222.9 53.8 221.8 54.1 220.8 54.1Z" fill="#3079b6"/>
<path d="M190.4 96.9 190.7 97.4 200.8 97.4 203.2 94.2 203.2 89.7 203.5 89.2 203.5 87.9 203.9 87.4 203.9 86.1 204.2 85.6 204.2 84.7 204.6 84.3 204.6 83.4 204.9 82.9 204.9 82.5 205.3 82 205.3 81.6 205.6 81.1 205.6 80.7 205.9 80.2 205.9 79.7 206.6 78.8 206.6 78.4 207 77.9 207 77.5 208 76.1 208 75.7 210.8 72.1 211.1 72.1 211.8 71.2 212.2 71.2 212.8 70.3 213.2 70.3 213.9 69.4 214.2 69.4 214.9 68.5 215.3 68.5 215.6 68 216 68 216.3 67.6 216.7 67.6 217 67.1 217.3 67.1 217.7 66.7 218 66.7 218.4 66.2 219.1 66.2 219.4 65.8 219.8 65.8 220.1 65.3 220.8 65.3 221.1 64.9 221.5 64.9 221.8 64.4 222.5 64.4 222.9 64 223.9 64 224.3 63.5 225 63.5 225.3 63.1 226.7 63.1 227 62.6 228.1 62.6 228.4 62.2 230.5 62.2 230.8 61.7 233.9 61.7 234.3 61.3 255.4 61.3 258.5 57.2 258.5 2.6 257.5 1.2 255.4 -1.5 236.7 -1.5 236 -0.6 235.7 -0.6 234.3 1.2 233.9 1.2 231.9 3.9 231.5 3.9 229.8 6.2 229.4 6.2 226.7 9.8 226.3 9.8 222.2 15.2 221.8 15.2 213.5 26 213.5 26.5 209.4 31.9 209.4 32.4 207.3 35.1 207.3 35.5 205.9 37.3 205.9 37.8 204.5 39.6 204.5 40 203.5 41.4 203.5 41.8 202.5 43.2 202.5 43.6 201.4 45 201.4 45.4 200.7 46.4 200.7 46.8 200 47.7 200 48.2 199.3 49.1 199.3 49.5 199 50 199 50.4 198.3 51.3 198.3 51.8 197.6 52.7 197.6 53.1 197.3 53.6 197.3 54 196.9 54.5 196.9 54.9 196.2 55.8 196.2 56.3 195.9 56.7 195.9 57.2 195.5 57.6 195.5 58.1 195.2 58.5 195.2 59 194.8 59.4 194.8 59.9 194.5 60.3 194.5 60.8 194.2 61.2 194.2 61.7 193.8 62.1 193.8 62.6 193.5 63.1 193.5 64 193.1 64.4 193.1 64.9 192.8 65.3 192.8 65.8 192.4 66.2 192.4 67.1 192.1 67.6 192.1 68.5 191.7 68.9 191.7 69.4 191.4 69.8 191.4 70.7 191 71.2 191 72.1 190.7 72.5 190.7 73.9 190.3 74.3 190.3 75.2 190 75.7 190 77 189.7 77.5 189.7 79.3 189.3 79.7 189.3 81.6 189 82 189 84.3 188.6 84.7 188.6 88.3 188.3 88.8 188.3 94.2 190 96.5ZM191.4 96.3 190.7 95.4 190.3 94.2 190.3 92.8 190.4 92.6 190.7 92.5 191.4 93.7 191.8 94.6 191.9 96 191.7 96.4ZM216 57.2 215.5 56.7 215.4 56.3 215.4 55.4 215.8 54 216.5 52.7 217.7 50.9 219.5 48.6 223.2 44.8 226.3 42.5 229.4 41 230.8 40.6 232.2 40.4 233.6 40.5 234.6 40.9 235.6 41.8 236 42.7 236 43.6 235.8 45 235.3 46.4 234.1 48.2 231.6 50.9 227.9 53.6 225.5 54.9 222.9 56.2 220.5 57.1 218.7 57.5 217.3 57.6 216.3 57.4Z" fill="#3986bc"/>
<path d="M190.4 96.9 190.7 97.4 191.3 97.4 190.3 96 189.7 94.2 189.7 91.9 190 90.8 190.4 90.6 191.1 91.6 192.3 94.2 192.8 96 193 97.4 200.7 97.4 203.2 94.2 203.2 89.7 203.5 89.2 203.5 87.9 203.9 87.4 203.9 86.1 204.2 85.6 204.2 84.7 204.6 84.3 204.6 83.4 204.9 82.9 204.9 82.5 205.3 82 205.2 81.6 205.6 81.1 205.6 80.7 205.9 80.2 205.9 79.7 206.6 78.8 206.6 78.4 207 77.9 207 77.5 208 76.1 208 75.7 210.8 72.1 211.1 72.1 211.8 71.2 212.2 71.2 212.8 70.3 213.2 70.3 213.9 69.4 214.2 69.4 214.9 68.5 215.3 68.5 215.6 68 216 68 216.3 67.6 216.7 67.6 217 67.1 217.3 67.1 217.7 66.7 218 66.7 218.4 66.2 219.1 66.2 219.4 65.8 219.8 65.8 220.1 65.3 220.8 65.3 221.1 64.9 221.5 64.9 221.8 64.4 222.5 64.4 222.9 64 223.9 64 224.3 63.5 225 63.5 225.3 63.1 226.7 63.1 227 62.6 228.1 62.6 228.4 62.2 230.5 62.2 230.8 61.7 233.9 61.7 234.3 61.3 255.4 61.3 258.5 57.2 258.5 6.3 257.8 5.8 257.5 5.3 257.8 5.2 258.5 5.7 258.5 2.6 257.5 1.2 255.7 -1 255.2 -1.5 236.7 -1.5 236 -0.6 235.7 -0.6 234.3 1.2 233.9 1.2 231.9 3.9 231.5 3.9 229.8 6.2 229.4 6.2 226.7 9.8 226.3 9.8 222.2 15.2 221.8 15.2 213.5 26 213.5 26.5 209.4 31.9 209.4 32.4 207.3 35.1 207.3 35.5 205.9 37.3 205.9 37.8 204.5 39.6 204.5 40 203.5 41.4 203.5 41.8 202.5 43.2 202.5 43.6 201.4 45 201.4 45.4 200.7 46.4 200.7 46.8 200 47.7 200 48.2 199.3 49.1 199.3 49.5 199 50 199 50.4 198.3 51.3 198.3 51.8 197.6 52.7 197.6 53.1 197.3 53.6 197.3 54 196.9 54.5 196.9 54.9 196.2 55.8 196.2 56.3 195.9 56.7 195.9 57.2 195.5 57.6 195.5 58.1 195.2 58.5 195.2 59 194.9 59.4 194.8 59.9 194.5 60.3 194.5 60.8 194.2 61.2 194.2 61.7 193.8 62.1 193.8 62.6 193.5 63.1 193.5 64 193.1 64.4 193.1 64.9 192.8 65.3 192.8 65.8 192.4 66.2 192.4 67.1 192.1 67.6 192.1 68.5 191.7 68.9 191.7 69.4 191.4 69.8 191.4 70.7 191 71.2 191 72.1 190.7 72.5 190.7 73.9 190.4 74.3 190.4 75.2 190 75.7 190 77 189.7 77.5 189.7 79.3 189.3 79.7 189.3 81.6 189 82 189 84.3 188.6 84.7 188.6 88.3 188.3 88.8 188.3 94.2 190 96.5ZM195.6 94.2 194.9 93.8 194.5 93.3 194.2 91.9 194.5 91.6 194.9 91.9 195.6 93.3 195.8 93.7 195.7 94.2ZM209.7 59 209.7 58.5 209.7 59ZM210.1 58.4 210 58.1 210.1 57.6 210.8 56.1 210.9 56.3 210.2 58.1ZM211.1 56 211 55.8 211.1 55.6 211.1 55.8ZM213.2 60.4 212.2 59.9 211.8 59 212.1 57.2 213.2 54.6 214.6 52.2 215.9 50.4 218.6 47.3 221.1 44.5 223.2 42.6 225.3 41 227.4 39.7 229.1 38.8 231.2 38 232.9 37.6 234.6 37.4 236.4 37.5 237.1 37.8 237.8 38.7 238.9 41.4 238.9 42.3 238.6 44.5 238.1 46.3 236.9 48.2 235.3 50 233.3 51.9 230.5 53.9 227.3 55.8 223.6 57.8 220.5 59.1 217.7 60.1 215.3 60.6 213.5 60.5ZM240.2 44.4 239.3 41.8 239.1 40.9 239.2 37.3 239.5 36.9 240.2 38 240.8 40.5 240.9 42.6 240.5 44.3Z" fill="#4393c3"/>
<path d="M193.8 97.4 200.7 97.4 203.2 94.2 203.2 89.7 203.5 89.2 203.5 87.9 203.9 87.4 203.9 86.1 204.2 85.6 204.2 84.7 204.6 84.3 204.6 83.4 204.9 82.9 204.9 82.5 205.2 82 205.2 81.6 205.6 81.1 205.6 80.7 205.9 80.2 205.9 79.7 206.6 78.8 206.6 78.4 207 77.9 207 77.5 208 76.1 208 75.7 210.8 72.1 211.1 72.1 211.8 71.2 212.2 71.2 212.8 70.3 213.2 70.3 213.9 69.4 214.2 69.4 214.9 68.5 215.3 68.5 215.6 68 216 68 216.3 67.6 216.7 67.6 217 67.1 217.3 67.1 217.7 66.7 218 66.7 218.4 66.2 219.1 66.2 219.4 65.8 219.8 65.8 220.1 65.3 220.8 65.3 221.1 64.9 221.5 64.9 221.8 64.4 222.5 64.4 222.9 64 223.9 64 224.3 63.5 225 63.5 225.3 63.1 226.7 63.1 227 62.6 228.1 62.6 228.4 62.2 230.5 62.2 230.8 61.7 233.9 61.7 234.3 61.3 255.4 61.3 258.5 57.2 258.5 7.5 256.7 5.7 256.2 4.8 255.9 3.9 256 3.5 256.4 3.4 257.5 3.8 258.5 4.4 258.5 2.6 256.1 -0.4 253.8 -1.5 246.9 -1.5 250.5 -0.9 252.3 -0.3 253 0.1 253.6 0.8 253.8 1.2 253.6 1.7 252.3 1.5 248.8 0.5 247.1 0.2 245 0 242.9 0 238.8 0.6 235.7 1.6 232.9 2.7 231.9 3.9 231.5 3.9 230.1 5.7 230.1 6 232.1 4.8 234.1 3.9 236.7 3 239.8 2.3 242.6 2.1 245 2.2 246.9 2.6 247.8 3 248 3.5 247.1 3.7 242.2 3.6 238.8 3.9 236.7 4.3 233.9 5 229.8 6.8 229.4 6.8 229.3 6.6 229.1 6.6 229.2 7.1 228.8 7.1 226.7 9.8 226.3 9.8 222.2 15.2 221.8 15.2 213.5 26 213.5 26.5 209.4 31.9 209.4 32.4 207.3 35.1 207.3 35.5 205.9 37.3 205.9 37.8 204.5 39.6 204.5 40 203.5 41.4 203.5 41.8 202.5 43.2 202.5 43.6 201.4 45 201.4 45.4 200.7 46.4 200.7 46.8 200 47.7 200 48.2 199.3 49.1 199.3 49.5 199 50 199 50.4 198.3 51.3 198.3 51.8 197.6 52.7 197.6 53.1 197.3 53.6 197.3 54 196.9 54.5 196.9 54.9 196.2 55.8 196.2 56.3 195.9 56.7 195.9 57.2 195.5 57.6 195.5 58.1 195.2 58.5 195.2 59 194.9 59.4 194.9 59.9 194.5 60.3 194.5 60.8 194.2 61.2 194.2 61.7 193.8 62.1 193.8 62.6 193.5 63.1 193.5 64 193.1 64.4 193.1 64.9 192.8 65.3 192.8 65.8 192.4 66.2 192.4 67.1 192.1 67.6 192.1 68.5 191.7 68.9 191.7 69.4 191.4 69.8 191.4 70.7 191 71.2 191 72.1 190.7 72.5 190.7 73.9 190.4 74.3 190.4 75.2 190 75.7 190 77 189.7 77.5 189.7 79.3 189.3 79.7 189.3 81.6 189 82 189 84.3 188.6 84.7 188.6 88.3 188.3 88.8 188.3 93.6 188.6 94.2 189.5 90.1 190 88.7 190.4 88.9 192.1 92.1 192.8 92.8 193 92.4 193.5 89.5 193.8 88.9 194.5 89.7 198 95.5 197.8 96 196.8 96 195.6 95.6 193.8 94.7 193.6 95.1 193.6 95.5 193.7 96.9ZM204.2 65 204.2 64.7 204.3 64.9ZM204.5 64.6 204.3 64.4 204.5 63.5 205.2 61 207.3 56.2 207.7 55.7 207.8 55.8 207.7 56.3 206.3 60.5 204.6 64.4ZM207 66.8 206.9 65.8 207.3 63.5 208.2 60.3 209 58.1 211.1 53.6 213.9 49 215.3 47.3 214.6 50 214.9 49.8 218 45.7 221 42.7 224.6 39.6 227.7 37.5 230.8 36.1 233.9 35.1 235.3 34.9 237.1 35.4 237.2 35.1 236.7 33.7 237.1 33.3 238.5 34.2 239.5 35.1 240.5 36.4 241.4 38.2 241.6 39.6 241.8 41.4 241.7 43.6 241.2 45.9 240.5 47.9 239.8 49.4 239.1 50.3 238.9 50 238.8 48.4 238.4 48.6 236.7 51.1 233.9 53.4 228.7 56.7 221.8 60.5 216.3 62.8 212.5 63.7 211.1 63.8 210.1 63.7 209.7 62 209 62.9 207 66.7ZM244 41.5 243.1 37.8 241.9 34.1 242.2 34.2 242.9 35 244 36.9 244.4 39.1 244.3 41.5ZM255.4 9.4 254.7 8.8 254 8 254 7.5 254.6 7.5 255.1 8 255.8 8.9 256 9.3 255.7 9.6ZM236 7.1 236.4 7.1ZM237.4 6.8 237.2 6.6 240.2 6.3 240.8 6.6 237.8 6.8ZM229.4 6.2 229.4 6.6 229.8 6.3 229.9 6.2 229.4 6.2ZM235 0.3 235 0.6 238.8 -0.7 243 -1.5 236.7 -1.5 236 -0.6 235.7 -0.6 235 0.3Z" fill="#5aa1cb"/>
<path d="M194.8 97.4 200.7 97.4 200.7 97.1 198.3 97.2 195.6 96.7 195.2 96.7 194.8 96.9ZM201.6 96 201.8 96 203.2 94.2 203.2 91.5 201.8 91.6 200.7 91.4 199.7 91 198.7 90.2 198.1 89.2 197.6 88.1 197.2 85.2 197.3 79.7 197.4 79.3 197.6 77 199 69.8 200.7 63.7 202.8 58.5 204.2 55.8 206 53.1 206 53.6 203.8 59 200.2 69.4 198.5 75.2 197.8 78.4 197.6 79.6 197.4 79.7 197.4 84.3 197.8 85.6 198.5 87.4 199.4 88.7 200.4 89.8 202.1 90.8 203.2 91 203.2 89.7 203.5 89.2 203.5 87.9 203.9 87.4 203.9 86.1 204.2 85.6 204.2 84.7 204.5 84.3 204.6 83.4 204.9 82.9 204.9 82.5 205.2 82 205.2 81.6 205.6 81.1 205.6 80.7 205.9 80.2 206.1 79.3 205.6 78.7 205.2 77.9 204.9 76.9 204.8 74.8 204.9 72.8 206.4 64.4 206.4 63.5 206.3 63 205.2 65.1 204 68 202 74.3 201.3 77.9 201.1 81.4 201 78.4 201.1 75.9 202.5 68.5 204 62.6 205.2 59.4 206.6 56.3 208.3 53.1 210.4 49.9 211.8 48.1 212 48.2 210.1 52.7 209.7 54 209.7 54.5 214.8 46.8 218 42.7 219.8 40.8 219.9 40.9 218.4 43.6 218.7 43.7 222.5 39.5 224.6 37.8 226.6 36.4 229.1 35.1 232.2 33.8 233.6 33.4 235 33.5 235.3 33.3 234.9 32.4 234.8 31.9 235.6 31.9 236.7 32.3 239.8 34 240.1 33.7 238.8 31 239.5 31 241 31.9 242.6 33.3 244 35.1 244.8 36.9 245.2 38.7 245.3 40.9 245 43.2 244.3 45.9 243.3 48 243.1 47.7 242.9 45.4 242.6 44.6 242.2 45.1 241.1 48.2 239.8 50.7 238.4 52.8 237.4 53.9 237.1 53.6 237.2 52.7 237.1 52.3 234.6 54.7 227.6 59 221.5 63.3 215.3 66 212.5 67 210.1 67.7 208.7 67.9 208.4 66.2 207.7 67.3 206.5 70.3 205.8 72.5 205.5 74.3 205.5 77 205.7 77.9 206.3 78.9 206.6 78.8 206.6 78.4 207 77.9 207 77.5 208 76.1 208 75.7 210.8 72.1 211.1 72.1 211.8 71.2 212.2 71.2 212.8 70.3 213.2 70.3 213.9 69.4 214.2 69.4 214.9 68.5 215.3 68.5 215.6 68 216 68 216.3 67.6 216.7 67.6 217 67.1 217.3 67.1 217.7 66.7 218 66.7 218.4 66.2 219.1 66.2 219.4 65.8 219.8 65.8 220.1 65.3 220.8 65.3 221.1 64.9 221.5 64.9 221.8 64.4 222.5 64.4 222.9 64 223.9 64 224.3 63.5 225 63.5 225.3 63.1 226.7 63.1 227 62.6 228.1 62.6 228.4 62.2 230.5 62.2 230.8 61.7 233.9 61.7 234.3 61.3 253.3 61.2 257.6 53.1 258.5 51 258.5 13.5 253.8 8.9 252.9 7.5 252.8 6.6 253 6.4 253.7 6.3 254.7 6.6 255.5 7.1 256.4 8.2 258.5 11.4 258.5 8.3 256.4 6.4 254.8 3.5 254 2.7 253 2.3 248.8 1.2 246.2 0.8 241.9 0.7 238.8 1.2 234.5 2.6 232.2 3.5 231.9 3.9 231.5 3.9 231.2 4.4 231.2 4.7 234.3 3.2 236.7 2.3 240.5 1.5 243.3 1.4 245.4 1.5 247.4 1.9 248.5 2.4 249.2 3 249.5 3.5 249.5 3.9 248.8 4.2 247.8 4.3 240.5 4.2 236.5 4.8 233.4 5.7 230.5 7 227.7 8.7 226.7 9.8 226.3 9.8 222.2 15.2 221.8 15.2 219.1 18.8 213.5 26 213.5 26.5 209.4 31.9 209.4 32.4 207.3 35.1 207.3 35.5 205.9 37.3 205.9 37.8 204.5 39.6 204.5 40 203.5 41.4 203.5 41.8 202.5 43.2 202.5 43.6 201.4 45 201.4 45.4 200.7 46.4 200.7 46.8 200 47.7 200 48.2 199.3 49.1 199.4 49.5 199 50 199 50.4 198.3 51.3 198.3 51.8 197.6 52.7 197.6 53.1 197.3 53.6 197.3 54 196.9 54.5 196.9 54.9 196.2 55.8 196.2 56.3 195.9 56.7 195.9 57.2 195.6 57.6 195.5 58.1 195.2 58.5 195.2 59 194.9 59.4 194.9 59.9 194.5 60.3 194.5 60.8 194.2 61.2 194.2 61.7 193.8 62.1 193.8 62.6 193.5 63.1 193.5 64 193.1 64.4 193.1 64.9 192.8 65.3 192.8 65.8 192.4 66.2 192.4 67.1 192.1 67.6 192.1 68.5 191.7 68.9 191.7 69.4 191.4 69.8 191.4 70.7 191.1 71.2 191.1 72.1 190.7 72.5 190.7 73.9 190.4 74.3 190.4 75.2 190 75.7 190 77 189.7 77.5 189.7 79.3 189.3 79.7 189.3 81.6 189 82 189 84.3 188.6 84.7 188.6 88.3 188.3 88.8 188.3 91.3 188.6 91 189 89.9 190.2 83.8 190.4 82.4 190.5 86.1 190.9 88.3 191.7 90.3 192.1 90.5 192.4 90.4 192.8 89.2 193.5 83.7 193.7 83.4 193.8 80.9 194 86.1 194.5 87.9 195.2 89.7 196.9 92.6 198.3 94.3 199.7 95.4 201.4 96ZM200.7 57.9 200.8 57.6ZM201.4 82.6 201.4 81.8 201.5 82.5ZM201.8 83.5 201.8 83.1 201.8 83.4ZM202.1 84 202.2 83.8ZM202.5 84.4 202.4 84.3 202.5 84.3ZM202.8 84.8 202.7 84.7 202.9 84.7ZM203.5 85.2 203.2 85.2 203.6 85.2ZM212.2 47.8 212.2 47.7ZM220.1 40.6 220.2 40.5ZM227.4 11.7 227.2 11.6 227.4 11.4 227.5 11.6ZM227.7 11.4 227.5 11.1 228.4 10.2 230.8 8.4 233.6 7 236.4 6.1 239.5 5.5 242.2 5.5 243.3 5.7 244.2 6.2 244.3 6.6 244 6.9 242.9 7.2 237.4 7.6 234.3 8.3 230.8 9.5 229.1 10.4 228.1 11.2ZM233.3 11.2 233.6 11.2ZM234.6 10.7 235.3 10.6 235.7 10.7 235 10.8ZM244.7 32 244.7 31.9ZM247.1 36.2 244.8 32.4 245 32.2 246.1 33.3 247.1 35.1 247.3 36ZM250.9 61.1 250.8 60.8 250.9 60.5 255 52.5 255.1 52.7 255 53.3 254 55.9 252.3 59 251.1 60.8ZM190.7 81.9 190.7 80.2 190.7 81.6ZM191.1 79.7 190.9 79.3 191.1 77.7 192.4 71 194.2 65.3 195.2 62.9 195.3 63.1 194 67.1 192.7 72.1 191.3 77.9 191.1 79.3ZM194.2 80.5 194.1 78.8 194.5 76.3 196.2 68.4 197.3 65 198.3 62.2 200 58.6 200.4 58 200.6 58.1 198.5 64 196.4 70.7 194.7 77.5 194.2 80.2ZM195.6 62.8 195.6 62.2 195.6 62.6ZM195.9 61.8 195.9 61.7ZM254.9 61.2 255.4 61.2 258.5 57.2 258.5 54 256.8 57.6 255 61ZM230.8 4.8 230.8 5 231.1 4.8 230.8 4.8ZM256.4 2.6 257.8 3 258.1 2.6 257.4 1.2 256.1 0.2 255 -0.2 254.3 -0.1 254.4 0.3 255 1.5 256.1 2.4ZM235.3 -0.1 235.5 -0.1 235.3 -0.1ZM235.7 -0.6 235.7 -0.3 238.4 -1.2 239.7 -1.5 237.6 -1.5 236.4 -1 236 -0.6 235.7 -0.6Z" fill="#70b0d2"/>
<path d="M200.2 94.6 201.4 95 202.5 95.1 203.2 94.2 203.2 92.6 201.4 92.7 200 92.4 198.3 91.7 197.6 91 197.2 90.1 196.7 87.9 196.4 85.6 196.3 82.9 196.8 78.4 198.2 70.7 199.6 65.3 201.2 60.8 202.7 57.6 204.7 54 207.3 50.2 209.7 47.1 209.9 47.3 209.7 47.7 207.6 51.8 206.3 54.7 206.1 55.4 206.3 55.5 211.1 48.2 213.5 45 216 42.2 216.2 42.3 213.2 47.7 213.2 47.9 213.5 47.7 220.6 39.1 223.5 36 225.6 34.1 226 34 226.2 34.2 224 36.4 223.3 37.3 223.6 37.5 226 35.4 228.4 33.8 231.5 32.6 233.6 32.4 232.9 31 234.3 31 237.4 31.9 237.8 31.8 237.8 31.5 237 30.1 236.9 29.7 237.1 29.6 237.8 29.6 239 30.1 240.5 30.9 242.9 32.4 243.3 32.4 241.4 29.2 241.2 28.8 241.6 28.7 242.7 29.2 244 30.1 245.7 31.7 246.9 33.3 248.3 36 248.6 37.3 248.7 39.1 248.5 41.4 248.1 43.2 247.4 44.9 247.2 44.1 246.7 39.6 246.4 38.7 245.5 43.6 244.7 46.4 243.3 49.9 241.9 52.1 241.5 52.2 241.7 50 241.6 49.2 241.2 49.5 238.2 54 236 56.4 235.7 56.7 235.4 56.3 235.5 55.4 235.3 55.2 232.9 57.1 230.1 58.7 227.7 60.3 226.1 61.7 224.5 63.5 225 63.5 225.3 63.1 226.7 63.1 227 62.6 228.1 62.6 228.4 62.2 230.5 62.2 230.8 61.7 233.9 61.7 234.3 61.3 246.6 61.2 248.5 58.8 248.6 59 248.5 59.4 247.6 61.2 249.8 61.2 252.1 57.2 254.5 52.2 256.3 48.2 258.2 43.1 258.2 44.5 257.8 46.6 256.2 52.2 254.5 56.3 251.6 61.2 252.8 61.2 256.4 54.4 258.5 49.8 258.5 20.1 250.9 11.6 250 10.2 250 9.8 250.2 9.7 250.9 9.6 251.9 10.1 253 11 255.7 14.3 258.5 18.6 258.5 14.5 256.7 12.5 253.3 9.2 252.6 8.2 252 6.6 251.8 5.7 251.9 5.5 252.6 5.4 254.4 5.6 254.8 5.3 254.8 4.8 254.4 3.9 253.4 3 251.9 2.6 250.5 2.6 250.4 3 250.8 4.4 250.5 4.8 246.7 4.8 245.4 5 244.9 5.3 245.5 6.6 245 7.2 243.6 7.5 236.4 8.3 233.9 8.9 231.3 9.8 228.4 11.5 227 12.7 225.6 14.3 221 21.1 219.2 23.3 217.8 24.7 212.5 29.1 209.4 32.1 209.4 32.4 207.3 35.1 207.3 35.5 205.9 37.3 205.9 37.8 204.5 39.6 204.5 40 203.5 41.4 203.5 41.8 202.5 43.2 202.5 43.6 201.4 45 201.4 45.4 200.7 46.4 200.7 46.8 200 47.7 200 48.2 199.4 49.1 199.4 49.5 199 50 199 50.4 198.3 51.3 198.3 52 198.7 51.5 198.8 51.8 195.6 57.7 195.6 58.1 195.2 58.5 195.2 59 194.9 59.4 194.9 59.9 194.5 60.3 194.5 60.8 194.2 61.2 194.2 61.7 193.8 62.1 193.8 62.6 193.5 63.1 193.5 64 193.1 64.4 193.1 64.9 192.8 65.3 192.8 65.8 192.4 66.2 192.4 67.1 192.1 67.6 192.1 68.5 191.7 68.9 191.7 69.4 191.4 69.8 191.4 70.7 191.1 71.2 191.1 72.1 190.7 72.5 190.7 73.9 190.4 74.3 190.4 75.2 190 75.7 190 77 189.7 77.5 189.7 79.3 189.3 79.7 189.3 81.6 189 82 189 84.3 188.6 84.7 188.6 88.7 188.7 88.3 190.9 74.8 192.4 68.9 193.8 64.9 195.1 61.7 197.3 57.6 199 54.8 201.4 51.3 201.5 51.8 198.3 58.1 196.2 62.7 194.9 66.7 193.5 71.6 192.1 77.9 191.2 83.8 191.1 85.6 191.3 87.4 191.7 88.5 192.1 88.4 192.4 87.1 193 81.6 194.1 75.2 195.4 69.4 196.8 64.9 198.2 61.2 200.2 57.2 202.8 53 205.2 49.8 205.4 50 205.2 50.3 201.4 58.1 199.4 63.3 197.6 68.8 196.2 73.7 195.2 78.5 194.7 81.6 194.6 85.2 194.8 87 195.2 88.2 195.9 89.6 198.5 93.3 199.4 94.2 200 94.6ZM205.6 49.6 205.6 49.5ZM210.1 46.9 210 46.8 210.1 46.8ZM210.4 33.3 210.4 33.3ZM211.5 32.4 211.5 32.4ZM211.8 32 211.9 31.9ZM212.2 31.5 212.3 31.5ZM212.8 31 212.6 31 212.9 31ZM213.2 30.6 213.1 30.6 213.2 30.5 213.3 30.6ZM213.5 30.2 213.5 30.1 213.8 30.1ZM214.2 29.7 214 29.7 214.2 29.5 214.3 29.7ZM214.6 29.3 214.6 29.1 214.8 29.2ZM215.3 28.8 215 28.8 215.3 28.6 215.4 28.8ZM215.6 28.4 215.5 28.3 215.6 28.2 215.9 28.3ZM216.3 42.1 216.3 41.8 216.4 41.8ZM216.7 27.5 216.7 27.3 217 27.2 217 27.4ZM217.3 27.1 217.1 26.9 217.3 26.8 217.5 26.9ZM217.7 26.7 217.6 26.5 218 26.3 218 26.6ZM218.4 26.2 218.2 26 219.1 25.4 219.2 25.6 218.7 26ZM219.4 25.3 219.2 25.1 219.4 25 219.7 25.1ZM219.8 25.1 219.7 24.7 222.1 21.5 226 15.7 227.7 13.7 229.4 12.3 230.8 11.4 232.6 10.6 236 9.5 237.8 9.3 239.1 9.3 240.3 9.8 240.2 10.2 239.1 10.7 235.3 11.5 232.6 12.3 231.2 12.8 229.4 13.8 228.1 14.9 226.7 16.4 222.5 21.9 220.1 24.8ZM225 21.4 224.9 21.1 226.4 18.8 227.6 17.5 229.1 16 230.5 15.1 231.9 14.5 233.6 14.3 233.9 14.3 233.5 14.8 230.8 16 229.1 17.2 227 19.1 225.3 21.1ZM226.3 33.9 226.2 33.7 226.7 33.7ZM227 33.3 227 33.3ZM248.8 58.6 248.8 58.5ZM249.2 32.3 248.9 31.9 249.2 31.9ZM250.2 33.8 249.2 32.4 249.5 32.3 250.2 33.2 250.4 33.7ZM250.5 34.3 250.5 34.2 250.5 34 250.6 34.2ZM199 51.4 198.9 51.3 199 51.2 199 51.3ZM201.8 51.3 201.5 51.3 201.8 51.1 201.8 51.3ZM216.3 27.9 216 27.8 216.3 27.7 216.4 27.8ZM248.8 31.7 248.7 31.5 248.9 31.5ZM202.4 89.7 203.2 89.8 203.5 89.2 203.5 87.9 203.9 87.4 203.9 87 202.8 86.7 202.1 86.2 201.1 84.9 200.4 82.9 200.1 80.7 200.3 77 201.8 68.5 201.8 67.3 200.7 69.7 199.4 74.4 198.5 78.4 198.2 82 198.5 84.7 199.3 87 200.4 88.5 201.4 89.2 202.1 89.6ZM188.3 88.8 188.3 89.1 188.6 88.8 188.3 88.8ZM204.2 83.8 204.5 84 204.5 83.4 204.9 82.9 204.9 82.5 205.2 82 205.2 81.6 205.6 81.1 205.6 80.8 205 80.2 204.5 79.3 204 77 204.1 74.3 204.7 69.8 204.5 68.9 203.9 70.4 202.8 73.6 202.3 76.1 202.1 78.4 202.2 80.2 202.5 81.6 203.2 82.9 204.2 83.8ZM206.7 77 207 77.4 208 76.1 208.1 75.2 207.4 73.9 207 71.3 206.6 72.1 206.3 74.3 206.3 75.7 206.6 76.8ZM256.4 59.9 256.4 59.8ZM256.7 59.4 256.8 59.2ZM257 59 257.1 59 257.3 58.5 257.1 58.5ZM257.4 58.1 257.5 58.4 257.6 58.1 257.5 57.8ZM257.6 57.6 257.8 57.8 258.1 57.2 257.8 57.1 257.8 57.2ZM258 56.7 258.2 57.1 258.5 56.4 258.5 55.6 258.2 56.3ZM205.9 55.8 205.9 55.7ZM197.6 52.7 197.6 52.9 197.8 52.7 197.6 52.7ZM198 52.2 198 52.4 198.1 52.2 198 52.2ZM223.1 37.8 223.3 37.8 223.2 37.6ZM211.8 28.8 211.8 28.9 212 28.8 211.8 28.7ZM212.2 28.3 212.2 28.6 212.4 28.3 212.2 28.3ZM212.5 27.8 212.5 28.3 212.8 28 218.4 23.2 220.1 21 223.9 15 225.6 12.6 228.4 9.6 230.4 8 230.1 7.8 228.7 8.4 227 9.7 225.5 11.1 223.6 13.6 218.8 21.1 216.7 23.4 213.9 25.6 213.5 26 213.5 26.5 212.5 27.8ZM216.3 22.4 216.3 22.6 216.5 22.4 216.3 22.4ZM216.6 22 216.7 22.2 216.9 22 216.7 22ZM217 21.5 217 21.9 217.3 21.5 217 21.5ZM217.3 21.1 217.3 21.5 218.1 20.6 219.1 19.3 218.7 19.3 217.3 21.1ZM219.1 18.8 219.1 19.2 219.3 18.8 219.1 18.8ZM219.4 18.4 219.4 18.7 219.6 18.4 219.4 18.4ZM219.8 17.9 219.8 18.2 219.9 17.9 219.8 17.9ZM220.1 17.5 220.1 17.5ZM220.5 17 220.5 17ZM230.5 7.5 230.5 7.7 231 7.5 230.5 7.5Z" fill="#87beda"/>
<path d="M227.1 62.6 228.1 62.6 228.4 62.2 230.5 62.2 230.8 61.7 233.9 61.7 234.3 61.3 242.8 61.2 245.4 58.1 245.7 57.9 245.4 59 244.3 61.2 246 61.2 248.5 57.6 251 53.1 252.9 48.6 254.2 44.1 254.8 39.6 254.8 38.2 254.6 36.4 253.8 34.2 252.9 32.4 250 27.8 249.7 27.4 249.9 27.1 250.9 27.8 252.6 29.6 253.7 31 254.7 32.8 255.4 34.6 255.7 36 255.8 39.1 255 44.2 253.4 50.4 251.4 55.4 248.3 61.2 249.2 61.2 249.5 60.8 252.3 55.9 255 49.9 256.4 46.3 257.6 42.3 258.2 39.1 258.3 36.4 257.9 34.2 257 31.9 256 30.1 252.6 25.1 252.5 24.7 253.3 25.1 255.4 27.4 257.5 30.6 258.5 32.8 258.5 27.4 251.9 18.7 249.9 16.3 247.2 13.9 246.8 13 247.1 12.7 247.4 12.7 248.1 13 249.3 13.9 251.9 16.6 255.3 20.6 258.5 25.3 258.5 21.3 255.8 17.9 250.2 11.7 249.2 10.2 249.1 9.3 249.4 8.9 251.6 8.8 251.9 8.4 251.6 7.1 251.1 6.2 250.5 5.7 249.5 5.3 248.1 5.2 246.7 5.4 246.3 5.7 246.3 7.1 245.7 7.5 241.3 8.4 241.1 8.9 241.6 9.8 241.5 10.2 240.8 10.7 233.5 12.5 231.1 13.4 229.6 14.3 228.4 15.2 226.7 17 222.5 22.4 220.5 24.9 213.5 30.9 210.8 33.6 208.4 36.3 203.9 41.7 201.4 45 201.4 45.4 200.7 46.4 200.7 46.8 200 47.7 200 48.2 199.4 49.1 199.4 49.7 204.4 43.2 211.5 34.6 214.6 31.4 217 29.2 219.8 27.1 221.5 25.2 226 18.7 228.4 15.9 230.1 14.6 232.2 13.7 235 13.3 235.7 13.4 236.2 13.9 235.8 14.3 234.9 14.8 230.8 16.5 228.4 18.2 226.7 20 221.8 25.6 214.9 31.7 211.5 35.3 206.3 41.6 201.6 48.2 197.3 55.4 195.9 58.1 194.8 60.8 194.9 61 196.7 57.6 200.3 52.2 203.5 47.8 206.3 44.4 206.6 44.5 203.4 49.5 200.4 54.9 199.6 56.7 199.7 57.1 204.5 50 209 44.3 209.2 44.5 205.2 51.3 204.5 52.7 204.4 53.1 204.5 53.3 209.7 46.4 213.9 41.4 214.2 41.2 214.3 41.4 210.4 47.6 210.1 48.2 210.4 48.4 217.2 40 221.5 35.5 221.8 35.4 221.9 35.5 218.2 40.5 217.6 41.4 217.7 41.7 223.6 35.4 228.5 31.5 230.2 30.6 231.5 30.3 232.9 30.3 235.3 30.7 236 30.7 236.2 30.6 236 30.1 235.5 29.2 235.4 28.8 235.7 28.7 236.7 28.8 240.2 29.8 240.4 29.7 240.3 29.2 239.2 27.4 239.8 27.2 241.2 27.7 242.6 28.5 245.7 30.8 247.6 32.8 248.7 35.1 249.3 37.3 249.3 39.6 248.8 42.7 247.8 46.4 246.4 49.7 246.1 50.3 245.7 50.5 246.1 46.4 246.1 45.9 245.7 45.8 242.6 52.1 241.2 54.3 239.8 55.9 239.5 55.8 240.2 53.1 240.2 52.7 239.8 52.8 236.4 56.9 234.3 58.9 233.6 59.4 233.5 59 233.9 57.6 233.6 57.5 229.1 60.7 227.4 62.3ZM250.9 44.7 250.9 39.1 250.6 37.3 250.2 36.2 248.8 33.7 244.2 27.4 243.7 26.5 244 26.3 244.3 26.4 245.3 26.9 248 29.2 250.6 32.4 251.8 34.6 252.4 36.9 252.4 39.1 251.9 42.2 251.2 44.4 251 44.5ZM206.6 44.4 206.6 44.1 206.8 44.1ZM207 43.8 207 43.6ZM209.4 44.3 209.2 44.1 209.4 43.9 209.5 44.1ZM209.7 43.7 209.8 43.6ZM222.2 35.1 222.1 35.1 222.3 35.1ZM222.5 34.7 222.6 34.6ZM194.2 62.1 194.2 62.1ZM194.5 61.2 194.5 61.6 194.5 61.2ZM199 58.1 199 58ZM199.3 57.6 199.6 57.2 199.3 57.2ZM204.2 53.6 204.2 53.5ZM199 50 199 50.2 199.2 50 199 50ZM210 48.6 210.1 48.7 210.2 48.6 210.1 48.3ZM258.4 47.7 258.4 47.3ZM205.9 37.3 205.9 37.7 206.3 37.3 205.9 37.3ZM206.3 36.9 206.3 37.3 211.1 31.8 214.6 28.6 218.7 25.1 220.7 22.9 223.9 17.9 224.1 17.5 223.9 17.4 221.4 21.1 219.4 23.5 218 24.9 212.9 29.2 210 31.9 208.7 33.3 207.3 35.1 207.3 35.5 206.3 36.9ZM228.9 32.4 229.4 32.4 231.5 31.5 230.5 31.4 229.4 31.9 229.1 32.2ZM212.8 27.4 212.8 27.4ZM213.2 26.9 213.2 27.1 213.5 26.9 213.2 26.9ZM213.5 26.5 213.5 26.8 214 26.5 218.1 22.9 218 22.5 217 23.6 213.5 26.4ZM218.1 22.4 218.4 22.6 218.5 22.4 218.4 22.2ZM218.5 22 218.7 22.2 218.9 22 218.7 21.8ZM218.9 21.5 219.1 21.7 219.2 21.5 219.1 21.4ZM219.3 21.1 219.4 21.3 219.6 21.1 219.4 20.9ZM219.7 20.6 219.8 20.8 219.9 20.6 219.8 20.5ZM220 20.2 220.1 20.3 220.1 20ZM220.3 19.7 220.5 19.7 220.5 19.5ZM220.7 19.3 220.8 19.3 220.8 18.8ZM221.1 18.4 221.1 18.6 221.1 18.3ZM221.4 17.9 221.5 18 221.5 17.8ZM221.8 17.5 221.8 17.3ZM224.2 17 224.3 17.3 224.4 17 224.3 16.9ZM224.5 16.6 224.6 16.8 224.7 16.6 224.6 16.4ZM258.3 16.6 258.5 16.9 258.5 15.6 257.8 15 257.6 15.2 258.2 16.3ZM222.5 16.1 222.5 16.1ZM224.9 16.1 225 16.3 225.1 16.1 225 16ZM222.8 15.7 222.9 15.6ZM225.2 15.7 225.3 15.8 225.3 15.5ZM223.2 15.2 223.2 15.2ZM225.5 15.2 225.6 15.3 225.6 15.1ZM225.9 14.8 226 14.9 226 14.6ZM226.3 14.3 226.4 14.3 226.3 14.2ZM226.6 13.9 226.8 13.9 226.7 13.8ZM227 13.4 227.2 13.4 227 13.4ZM227.6 13 227.7 12.9ZM228 12.5 228.1 12.5ZM252.4 4.4 253.3 4.6 253.6 4.4 253.4 3.9 252.8 3.5 252 3.5 252 3.9 252.3 4.3Z" fill="#9bcae1"/>
<path d="M228.8 62.1 230.2 62.1 231.5 60.8 232 59.9 231.9 59.8 230.9 60.3 229.1 61.9ZM232.2 61.7 233.9 61.7 234.3 61.3 235.4 61.2 236.5 59.9 237.6 58.1 238.4 56.3 238.4 55.7 238.1 55.7 237.4 56.4 232.6 61.4ZM236.7 61.2 238.9 61.2 241.7 57.6 243 55.4 244 53.1 244.6 50.4 244.3 50.3 241.3 54.9 236.7 61.2ZM240.8 61.2 242.2 61.2 244.7 58.1 246.9 54.5 248.6 50.9 249.4 48.2 250 44.5 250 42.7 249.9 41.9 248 47.3 246.5 50.9 240.9 61.2ZM245.6 60.3 245.7 60.5 246.7 59.4 249.5 55.2 251.6 50.7 253 46.6 253.9 42.3 254.1 38.7 253.7 36 252.6 33.7 252.6 34.2 253.1 36.9 253.1 38.7 252.8 40.9 252.1 44.1 250.2 49.6 245.7 60ZM200.7 50.4 200.7 50.4ZM201 50 201.1 50.2 201.3 50 201.1 49.8ZM201.3 49.5 201.4 49.8 207.5 42.3 212.8 36 215.9 32.8 216.3 32.6 216.4 32.8 214.9 34.4 207.7 43.6 204.5 48.6 204.2 49.1 204.5 49.2 210.5 41.8 214.9 36.9 215.3 36.8 215.3 36.9 215 37.3 211 42.7 208.7 46.3 208.4 46.8 208.7 47 214.9 39.6 218.4 36 218.7 35.8 218.8 36 214.6 41.8 214.1 42.7 214.2 42.9 221.5 35 226.7 30.5 228.4 29.2 228.8 29.1 229 29.2 225.6 32.8 225.6 33.1 228.1 31.3 229.8 30.3 231.2 29.9 233.9 29.9 234.6 29.7 234.3 29.1 233.1 28.3 233.2 27.8 234.6 27.9 238.4 28.5 238.6 28.3 238.5 27.8 237.5 26.5 237.8 26.1 239.1 26.3 242.9 27.8 243.3 27.9 242.9 26.9 241.3 24.7 241.6 24.4 243.5 25.1 246.1 26.8 248.1 28.5 250.9 31.4 251 31 250.2 29.7 248.3 26.9 245.3 23.3 244.9 22.4 245 22.4 246 22.9 247.8 24.2 251.6 27.5 254.2 30.6 255.6 33.3 256.3 36 256.5 38.7 256.2 41.4 255.3 46.4 255.4 47.3 256.8 43.5 257.6 39.1 257.6 36 256.9 33.3 255.4 30.5 249.2 21.7 247.4 19.9 244.1 17 243.3 16.1 243.3 15.6 243.6 15.5 244.3 15.6 245 15.9 245.9 16.6 248.5 19.4 252.2 22.9 255 25.9 257.4 29.2 258.5 31.1 258.5 28.5 257.5 26.9 251.2 18.8 249.2 16.6 246.7 14.3 245.8 13 245.7 12.5 245.9 12.1 246.4 11.9 247.4 11.9 249.5 12.6 249.7 12.5 248.6 10.2 248.1 8.4 248.5 8.2 250.8 8 251 7.5 251 7.1 250.2 6.1 249.4 5.7 248.5 5.6 247.7 5.7 247.2 6.2 247.3 7.5 247.1 7.8 244 8.3 242.9 8.6 242.5 8.9 242.5 10.2 242.1 10.7 237.4 12.1 236.8 12.5 237.5 13.4 237.5 13.9 236.9 14.3 232.6 16.1 230.3 17.5 229.7 17.9 229.8 18 231.5 17.9 231.8 18.4 229.1 20.4 225.6 23.6 225.4 23.3 227.5 20.2 227.4 20 227 20.2 221.3 26.5 215.3 31.8 211.8 35.5 205.9 42.7 203.5 46 201.4 49.3ZM216.7 32.5 216.5 32.4 216.7 32.3 216.8 32.4ZM217 32 217.1 31.9ZM219.1 35.5 219.1 35.5ZM225.3 23.9 225.2 23.8 225.3 23.6 225.4 23.8ZM229.4 28.8 229.5 28.8ZM204.1 49.5 204.2 49.5 204.2 49.1ZM200 47.7 200 48 200.3 47.7 200 47.7ZM200.4 47.3 200.4 47.6 200.7 47.3 200.4 47.3ZM208.2 47.3 208.4 47.3 208.4 47ZM200.7 46.8 200.7 47.2 211.1 34.4 215.4 30.1 215.3 29.8 213.9 31 209.1 36 204.5 41.4 200.7 46.5ZM213.8 43.2 214 43.2 213.9 43.1ZM223.2 35.1 223.2 35ZM223.5 34.6 223.9 34.6 223.6 34.6ZM224.1 34.2 224.4 34.2 224.3 34.1ZM224.6 33.7 224.6 33.8 225 33.7 225 33.6 224.6 33.7ZM225.1 33.3 225.3 33.4 225.6 33.3 225.3 33.1ZM252.2 33.3 252.3 33.2ZM251.1 31.5 251.2 31.6 251.2 31.4ZM215.4 29.7 215.6 29.8 215.9 29.7 215.6 29.5ZM215.9 29.2 216 29.5 216.4 29.2 216.3 29 216 29.1ZM216.4 28.8 216.7 28.9 217 28.8 216.7 28.6ZM217 28.3 217 28.6 217.5 28.3 217.3 28.1 217 28.3ZM217.5 27.8 217.7 28 218 27.9 218 27.4 217.7 27.8ZM218 27.4 218.4 27.5 218.6 27.4 218.4 27.2ZM218.6 26.9 218.7 27.2 219.1 27 219.2 26.9 219.1 26.7 218.7 26.9ZM219.2 26.5 219.4 26.7 219.7 26.5 219.4 26.4ZM219.7 26 219.8 26.4 220.1 26.1 220.1 25.8 219.8 26ZM220.2 25.6 220.5 25.7 220.6 25.6 220.5 25.5ZM220.7 25.1 220.8 25.3 220.9 25.1 220.8 25.1ZM221.1 24.7 221.1 24.7ZM258.4 23.8 258.5 22.4 256.1 19.6 255.7 19.7 258.2 23.4ZM227.6 19.7 227.7 19.8 227.8 19.7 227.7 19.6ZM228 19.3 228.1 19.3Z" fill="#add3e6"/>
<path d="M233 61.7 233.9 61.7 234.3 61.2 234.7 61.2 236.1 59.4 236.4 58.5 235.7 58.9 233.3 61.4ZM237.4 61.2 238.3 61.2 240.5 58.5 242.2 55.4 242.4 54.9 242.2 54.7 239.8 57.8 237.4 61.2ZM242.8 59.4 242.9 59.5 244.3 57.8 246.1 55 247.4 52.2 248.5 49.1 248.5 48 248.1 48.6 242.8 59ZM249.1 54 249.2 54.4 249.3 54 249.2 54ZM249.4 53.6 249.5 53.9 250.2 52.5 251.6 49 251.7 48.2 251.6 48 249.5 53.1ZM251.9 47.7 251.9 47.4ZM208.7 43.2 208.7 43.1ZM209 42.7 209 42.9 209.2 42.7 209 42.6ZM209.3 42.3 209.4 42.5 214.9 36.3 218.4 33.2 218.6 33.3 216.7 35.7 212.8 40.9 212.7 41.4 212.8 41.4 218.4 35.4 220.8 33.3 224.3 30.5 224.6 30.4 224.7 30.6 220.6 34.6 219.1 36.4 219.4 36.5 222.2 33.9 227.4 29.6 229.9 27.8 231.9 27.3 233.6 27.3 236.4 27.6 237.1 27.5 236.9 26.9 235.6 25.6 235.7 25.1 237.4 25.3 240.5 26.2 241.1 26 240.2 24.7 238.4 22.9 238.8 22.5 240.9 23.2 245.7 25.6 245.7 25.1 245.4 24.7 243.5 22.4 241.9 20.8 240 19.3 239.8 18.8 240.2 18.7 241.2 18.7 242.5 19.3 245.7 21.7 248.8 24.2 250.5 25.4 250.7 25.1 250.4 24.7 248.5 22 246.7 20.2 243.1 17 242.1 15.7 242.1 15.2 242.9 14.8 244 14.8 245.7 15 245.9 14.8 244.9 12.5 244.8 11.6 245.4 11.3 247.6 11.1 248 10.7 247.6 9.3 246.7 8.6 245.4 8.5 244 8.8 243.7 8.9 243.4 9.3 243.5 10.7 243.3 10.9 238.9 12.1 238.4 12.5 238.6 13.9 238 14.3 234.6 15.7 232.9 16.6 232.7 17 233.1 17.9 232.7 18.4 230.1 20 228.4 21.4 226 23.7 222.2 27.8 217 32.7 214.8 35.1 209.4 42.1ZM225 30.2 224.8 30.1 225.1 30.1ZM208.7 40 208.7 40ZM209 39.6 209 39.5ZM209.3 39.1 209.4 39.1ZM209.7 38.7 209.7 38.6ZM210 38.2 210.1 38.2ZM210.4 37.8 210.4 37.7ZM210.8 37.3 210.8 37.3ZM218.9 36.9 219.1 36.9 219.1 36.6ZM212.1 36 212.2 35.9ZM212.4 35.5 212.5 35.4ZM212.8 35.1 212.9 35.1 212.8 35ZM213.1 34.6 213.2 34.8 213.4 34.6 213.2 34.5ZM213.5 34.2 213.5 34.4 213.9 34.2 217 31.2 221.1 28 222.2 27 223.9 24.7 224.1 24.2 223.9 24.2 221.5 26.7 216.6 31 213.5 34.1ZM229.5 29.7 230.1 29.7 230.5 29.4 232.2 29.2 231.2 28.9 230.2 29.2 229.8 29.5ZM251.2 20.6 251.6 20.8 251.6 20.6 251.4 20.2 250 18.4 248.6 17 247.4 16.1 247 16.1 247.3 16.6 249.1 18.8 250.9 20.4ZM248.5 7.1 249.2 7.3 249.9 7.3 250 7.1 249.9 6.6 248.8 6.3 248.3 6.6 248.5 7Z" fill="#bfdceb"/>
<path d="M217 36 217.3 36 220.1 33.5 223.6 30.7 227.4 27.4 227.7 27.3 227.9 27.4 226.3 29.7 226.3 29.8 226.7 29.7 228.8 28.1 230.5 27.2 232.2 26.8 235 26.9 235.3 26.5 234.6 26 231.8 25.1 232.5 24.7 234.6 24.5 238.8 25 239.1 24.8 238.4 23.8 236.4 22.4 236.1 22 236.7 21.6 237.8 21.5 238.8 21.6 241.9 22.9 242.6 23 242.7 22.9 242.5 22.4 241.6 21.5 238.9 19.3 238.6 18.8 238.6 18.4 239.8 17.9 242.6 17.9 241 14.8 241.6 14.4 244 14.1 244.4 13.9 244.5 13.4 244 12.2 243.3 11.7 241.9 11.7 240.2 12.1 239.5 12.5 239.4 13 239.8 13.9 239.6 14.3 236.6 15.2 234.6 16.1 234.1 16.6 234.3 17.5 234.2 17.9 233.6 18.4 231 19.7 229.1 21.1 226.7 23.3 222.1 28.3 217.7 32.4 216.1 34.2 216.3 34.3 220.5 31 222.5 29.6 222.9 29.7 219.8 32.7 217 36ZM223.2 29.2 223.2 29.2ZM215.4 35.1 215.6 35.1 215.6 34.8ZM215.6 34.6 216 34.7 216.1 34.6 216 34.3ZM226 30.1 226 30.1ZM244.6 10.2 245.7 10.6 246.7 10.5 247.1 10.2 247.1 9.8 246.8 9.3 246.1 9 245 9 244.4 9.3 244.3 9.8Z" fill="#d1e5f0"/>
<path d="M220.8 32.4 220.8 32.4ZM221.1 31.9 221.5 31.9 221.5 31.8 221.1 31.9ZM221.6 31.5 221.8 31.6 222.7 31 227.4 26.9 230.1 25.1 232.6 24.2 236.4 23.9 236.9 23.8 236.5 23.3 234.9 22.4 234.5 22 234.8 21.5 235.7 21.2 239 20.6 238.8 20.2 237.3 18.4 237.4 18.1 237.5 17.9 238.1 17.7 240.5 17.2 240.8 17 240.9 16.6 240.8 16.1 240.2 15.4 239.1 15.1 237.4 15.3 235.6 16.1 235.2 16.6 235.5 17.5 235.5 17.9 231.6 19.7 230.2 20.6 226.6 23.8 223.2 27.5 221 29.7 221.1 30 221.5 29.8 223.4 28.3 228.1 23.2 229.3 22.4 229.9 22.4 227.4 24.9 224.2 28.8 221.8 31.3ZM220.1 30.6 220.1 30.6ZM220.6 30.1 220.8 30.2 221 30.1 220.8 30ZM229.3 26.9 229.4 27.1 231 26.5 230.8 26.4 230.1 26.4 229.4 26.8ZM240.8 13.4 241.9 13.7 243.3 13.5 243.5 13.4 243.6 13 243.3 12.5 242.6 12.2 241.6 12.2 240.7 12.5 240.5 13Z" fill="#dceaf2"/>
<path d="M225.3 28.3 225.3 28.3ZM225.5 27.8 225.6 28 225.8 27.8 225.6 27.7ZM225.8 27.4 226 27.7 229.1 25.3 230.5 24.5 234.4 23.3 234.2 22.9 232.6 22.3 231.9 22.3 230.8 22.7 229.4 23.5 228.1 24.7 226 27.2ZM231.1 21.1 232.2 21.3 233.6 21.2 236.7 20.4 237.3 20.2 237.4 19.7 237.1 19.3 236.4 18.8 235.7 18.7 235 18.7 232.2 19.7 231 20.6ZM236.9 17 238.1 17.1 239.5 16.7 239.8 16.6 239.8 16.1 239.5 15.8 238.4 15.6 237.4 15.8 236.7 16.1 236.4 16.6 236.7 16.9Z" fill="#e7eff4"/>
<path d="M228 25.6 228.1 25.6ZM228.2 25.1 228.4 25.3 228.7 25.1 228.4 25ZM228.6 24.7 228.8 25 230.5 24 232.3 23.3 231.9 23.1 231.5 23.1 230.5 23.3 228.8 24.6ZM232.6 20.2 232.9 20.5 233.3 20.6 235.7 20.2 236.2 19.7 235.7 19.3 235.3 19.2 234.3 19.3 233.2 19.7 232.9 20Z" fill="#f2f4f6"/>
<path d="M209.4 69.8 209.8 68 210.5 65.8 212.8 59 215.5 52.7 218.4 46.8 219.7 44.5 221.3 42.3 224.8 37.8 226.6 36 228.4 34.4 229.4 33.8 230.1 33.5 230.8 33.4 231.5 33.5 232.1 33.7 232.9 34.2 233.9 35.1 235 36.4 235.5 37.3 235.9 38.7 236.4 41.8 236.7 45 236.7 46.4 236.5 48.2 236.1 49.5 235.4 51.3 234.4 53.1 233.3 54.9 232.2 56.4 230.8 58M205.1 75.7 205.2 73.9 205.6 71.6 206.5 68 207.8 64 209.1 60.3 210.7 56.3 212.5 52.2 213.6 50 215.2 47.3 217.3 44.1 219.6 40.9 222.6 37.3 224.7 35.1 228.1 32.2 229.4 31.2 230.1 30.9 230.8 30.7 231.9 30.6 232.9 30.9 233.6 31.1 235.3 32.1 237.1 33.5 238.4 35.1 239.3 36.4 239.9 38.2 240.4 41.4 240.6 43.2 240.5 45.4 240.1 47.7 239.4 50 238.4 52.2 237.1 54.6 235.3 57.2M201.8 83.3 201.4 82.3 201.2 81.1 201.1 78.8 201.3 76.1 202 73 203.3 68 204.8 63.1 207 57.2 208.7 53.6 210.7 50 213 46.4 215.6 42.7 218.8 38.7 220.7 36.4 222.5 34.6 227.7 29.9 229.1 28.8 230.5 28.1 231.2 27.9 231.9 27.8 232.9 27.9 233.9 28.1 235 28.4 236 29 239.1 31 241.1 32.8 241.9 33.8 242.7 35.1 243.2 36 243.8 37.3 244.2 39.1 244.4 41.8 244.2 44.1 243.7 46.8 242.9 49.5 241.8 52.2 240.4 54.9 238.8 57.5M200 90.3 199.4 89.6 198.7 88.7 198.2 87.9 197.7 86.5 197.4 85.2 197.3 83.8 197.3 82 197.4 80.2 197.7 77.9 198.2 75.2 199.6 69.4 201.6 63.1 202.6 60.3 203.5 58.1 205.5 54 207.9 50 211 45.4 214.4 40.9 217.7 36.9 219.8 34.6 221.5 33 224.3 30.7 227.7 27.2 228.8 26.3 229.8 25.6 230.8 25.1 231.5 24.9 232.6 24.9 233.9 24.9 235 25.1 236.4 25.5 237.4 26 239.5 27.3 240.9 28.3 242.6 29.7 243.9 31 245.8 33.3 246.7 34.6 247.4 36 247.9 37.8 248.1 39.6 248 42.3 247.4 45.4 246.7 48.2 245.6 51.3 244.1 54.5 242.5 57.2M195.6 93.4 195 92.4 194.4 91 194 89.7 193.8 88.3 193.6 85.2 193.7 83.4 193.9 81.1 195 75.2 196.5 68.9 198.4 63.1 200.3 58.5 202.7 54 205.5 49.5 209 44.5 212.9 39.6 215.9 36 217.7 34 219.9 31.9 223.2 29.1 227.4 24.7 229.1 23.1 230.1 22.5 231.2 22.1 232.2 21.8 233.6 21.7 235 21.7 236 21.8 237.4 22.2 238.4 22.6 240.5 23.8 242.2 25 244 26.4 245.7 27.9 247.4 29.7 248.8 31.4 249.8 32.8 250.6 34.2 251.3 36 251.6 36.9 251.7 38.2 251.7 40.5 251.2 43.6 250.5 46.8 249.3 50.4 247.8 53.9 246 57.2M200.7 52.7 203.4 48.6 206.4 44.5 209.5 40.5 213.3 36 214.9 34.2 217 32.1 222.2 27.6 223.6 26 226.3 22.8 228.4 20.6 229.8 19.5 230.5 19.1 231.5 18.6 232.9 18.3 234.3 18.1 236.7 18.1 238.8 18.4 240.8 19.3 242.6 20.5 245 22.5 248.8 26 251.6 29.2 252.6 30.6 253.7 32.4 254.4 33.6 254.8 34.6 255.2 36.4 255.4 38.7 255.1 40.9 254.5 44.1 253.7 47.3 252.4 50.9 251.1 54 249.5 57.2M207.7 39.6 211.1 35.5 213.6 32.8 216 30.5 220.1 27.1 221.5 25.7 223.1 23.8 226.3 19.5 228.1 17.6 229.4 16.4 230.5 15.7 231.9 15.1 233.6 14.6 236.4 14.2 238.8 14.2 240.2 14.4 241.2 14.7 242.2 15.2 243.3 15.7 244.3 16.4 245.4 17.3 249.3 21.1 253.6 26 255.4 28.3M213.9 29.9 218.7 25.9 220.1 24.5 222.5 21.5 224.6 18.3 226 16.5 227.1 15.2 228.4 13.9 229.8 12.8 231.5 11.9 233.6 11.2 235.7 10.7 238.4 10.3 240.9 10.4 242.2 10.7 243.3 10.9 245.4 11.9 246.4 12.5 247.4 13.3 249.9 15.6 252 17.9 255.4 22.1" fill="none" stroke="#111" stroke-width="0.45" stroke-opacity="0.8"/>
<path d="M211.2 63.4 211.3 64.7 210.4 64.4ZM215.8 52.1 215.7 53.4 214.8 53ZM221.8 41.5 221.5 42.8 220.7 42.3ZM230.6 33.3 229.6 34.2 229.2 33.3ZM236.5 42.8 235.9 41.6 236.8 41.5ZM233.7 54.3 234 53 234.8 53.5ZM206.2 69.1 206.4 70.4 205.4 70.2ZM210.1 57.6 210.1 58.9 209.2 58.6ZM215.5 46.7 215.3 48 214.5 47.5ZM222.9 37 222.4 38.2 221.7 37.6ZM232.7 30.8 231.4 31.1 231.6 30.1ZM240.2 39.6 239.5 38.5 240.4 38.3ZM238.7 51.5 238.8 50.2 239.7 50.6ZM201.3 76.7 201.6 77.9 200.6 77.8ZM204.2 64.9 204.3 66.2 203.4 65.9ZM208.7 53.6 208.6 54.9 207.7 54.5ZM215.2 43.3 214.9 44.6 214.1 44ZM223.1 34 222.5 35.2 221.9 34.5ZM233.1 27.9 231.9 28.3 231.9 27.3ZM242.7 35 241.6 34.2 242.4 33.7ZM243.7 46.8 243.5 45.5 244.5 45.7ZM197.3 84.3 198 85.5 197 85.6ZM198.9 72.3 199.1 73.6 198.1 73.4ZM202.4 60.7 202.5 62 201.6 61.7ZM208 49.9 207.7 51.2 206.9 50.7ZM215.1 40 214.7 41.3 214 40.7ZM223.6 31.3 222.9 32.4 222.3 31.7ZM233.4 24.9 232.2 25.3 232.2 24.4ZM243.7 30.8 242.5 30.3 243.2 29.6ZM248 41.7 247.6 40.5 248.6 40.5ZM244.7 53.3 244.7 52 245.6 52.4ZM193.7 87.1 194.3 88.3 193.3 88.4ZM195 75 195.2 76.3 194.3 76.1ZM198.3 63.3 198.3 64.6 197.4 64.3ZM203.6 52.4 203.4 53.7 202.6 53.2ZM210.6 42.4 210.2 43.7 209.5 43.1ZM218.6 33.2 218 34.4 217.3 33.7ZM227.3 24.7 226.8 26 226.1 25.3ZM238.4 22.6 237.1 22.6 237.5 21.7ZM247.9 30.2 246.7 29.6 247.4 29ZM251.6 41.3 251.3 40 252.2 40.1ZM248.2 53 248.3 51.6 249.1 52ZM204.5 47.1 204.2 48.4 203.4 47.8ZM212 37.5 211.6 38.8 210.8 38.2ZM220.6 29 220 30.1 219.4 29.4ZM228.9 20.1 228.3 21.3 227.7 20.6ZM240.5 19.1 239.2 19 239.6 18.2ZM249.7 27 248.5 26.4 249.2 25.8ZM253 49.4 252.9 48.1 253.8 48.4ZM212 34.5 211.5 35.7 210.8 35.1ZM221 26.3 220.4 27.5 219.8 26.8ZM228.8 16.9 228.2 18.1 227.5 17.4ZM240.3 14.5 239 14.7 239.2 13.8ZM249.9 21.7 248.7 21.2 249.4 20.5ZM219 25.6 218.4 26.8 217.8 26ZM226.4 16 226 17.2 225.3 16.6ZM236.9 10.4 235.8 11.1 235.6 10.2ZM248.1 13.9 246.9 13.5 247.5 12.8Z" fill="#111"/>
</g>
<g stroke="#444" fill="none">
<path d="M181.6 2.2 V94.4 H274" stroke-width="0.5"/>
<path d="M181.6 94.4h2.4M181.6 90.7h1.1M181.6 87h1.1M181.6 83.3h1.1M181.6 79.6h1.1M181.6 76h2.4M181.6 72.3h1.1M181.6 68.6h1.1M181.6 64.9h1.1M181.6 61.2h1.1M181.6 57.5h2.4M181.6 53.8h1.1M181.6 50.1h1.1M181.6 46.5h1.1M181.6 42.8h1.1M181.6 39.1h2.4M181.6 35.4h1.1M181.6 31.7h1.1M181.6 28h1.1M181.6 24.3h1.1M181.6 20.6h2.4M181.6 17h1.1M181.6 13.3h1.1M181.6 9.6h1.1M181.6 5.9h1.1M181.6 2.2h2.4M181.6 94.4v-2.4M185.3 94.4v-1.1M189 94.4v-1.1M192.7 94.4v-1.1M196.4 94.4v-1.1M200.1 94.4v-2.4M203.8 94.4v-1.1M207.5 94.4v-1.1M211.2 94.4v-1.1M214.9 94.4v-1.1M218.6 94.4v-2.4M222.2 94.4v-1.1M225.9 94.4v-1.1M229.6 94.4v-1.1M233.3 94.4v-1.1M237 94.4v-2.4M240.7 94.4v-1.1M244.4 94.4v-1.1M248.1 94.4v-1.1M251.8 94.4v-1.1M255.5 94.4v-2.4M259.2 94.4v-1.1M262.9 94.4v-1.1M266.6 94.4v-1.1M270.3 94.4v-1.1M274 94.4v-2.4" stroke-width="0.45"/>
</g>
<g font-family="Liberation Sans, sans-serif" font-size="3" font-weight="bold" fill="#222">
<text x="180.4" y="3.3" text-anchor="end">2.5</text>
<text x="180.4" y="21.7" text-anchor="end">2</text>
<text x="180.4" y="40.1" text-anchor="end">1.5</text>
<text x="180.4" y="58.6" text-anchor="end">1</text>
<text x="180.4" y="77" text-anchor="end">0.5</text>
<text x="180.4" y="95.5" text-anchor="end">0</text>
<text x="181.6" y="97.5" text-anchor="middle">-1.5</text>
<text x="200.1" y="97.5" text-anchor="middle">-1</text>
<text x="218.6" y="97.5" text-anchor="middle">-0.5</text>
<text x="237" y="97.5" text-anchor="middle">0</text>
<text x="255.5" y="97.5" text-anchor="middle">0.5</text>
<text x="274" y="97.5" text-anchor="middle">1</text>
</g>
<g font-family="Liberation Sans, sans-serif" font-size="4" font-weight="bold" fill="#000">
<text x="227.8" y="102" text-anchor="middle">x</text>
<text x="173" y="49.3" text-anchor="middle">y</text>
</g>
<rect x="259.6" y="13.8" width="14.4" height="36" fill="#fff" stroke="#999" stroke-width="0.5"/>
<rect x="261.2" y="20.20" width="4" height="1.98" fill="#bc2b34"/>
<rect x="261.2" y="22.03" width="4" height="1.98" fill="#cf5246"/>
<rect x="261.2" y="23.85" width="4" height="1.98" fill="#e0775f"/>
<rect x="261.2" y="25.68" width="4" height="1.98" fill="#f09c7b"/>
<rect x="261.2" y="27.51" width="4" height="1.98" fill="#f8bb9e"/>
<rect x="261.2" y="29.33" width="4" height="1.98" fill="#fcd7c2"/>
<rect x="261.2" y="31.16" width="4" height="1.98" fill="#fae8dd"/>
<rect x="261.2" y="32.99" width="4" height="1.98" fill="#f7f7f7"/>
<rect x="261.2" y="34.81" width="4" height="1.98" fill="#e3edf3"/>
<rect x="261.2" y="36.64" width="4" height="1.98" fill="#cde3ef"/>
<rect x="261.2" y="38.47" width="4" height="1.98" fill="#abd2e5"/>
<rect x="261.2" y="40.29" width="4" height="1.98" fill="#87beda"/>
<rect x="261.2" y="42.12" width="4" height="1.98" fill="#5da4cc"/>
<rect x="261.2" y="43.95" width="4" height="1.98" fill="#3c8abe"/>
<rect x="261.2" y="45.77" width="4" height="1.98" fill="#2a72b2"/>
<g font-family="Liberation Sans, sans-serif" font-size="2.4" font-weight="bold" fill="#222">
<text x="266.6" y="22.5">0.3</text>
<text x="266.6" y="26.1">0.26</text>
<text x="266.6" y="29.7">0.22</text>
<text x="266.6" y="33.3">0.18</text>
<text x="266.6" y="37">0.14</text>
<text x="266.6" y="40.6">0.1</text>
<text x="266.6" y="44.2">0.06</text>
<text x="266.6" y="47.9">0.02</text>
</g>
<text x="273.2" y="17.7" font-family="Liberation Sans, sans-serif" font-size="2.8" font-weight="bold" fill="#111" text-anchor="end">B<tspan font-size="2" dy="0.6">i</tspan><tspan dy="-0.6">/B</tspan><tspan font-size="2" dy="0.6">0</tspan></text>
<text x="228" y="116" font-family="Liberation Serif, serif" font-size="6.35" fill="#222" text-anchor="middle">(b) <tspan font-style="italic">Ma</tspan><tspan font-size="4.6" dy="1.1">∞</tspan><tspan dy="-1.1"> = 25, induced magnetic field.</tspan></text>
<g mask="url(#cpc)">
<rect x="317.9" y="0" width="80" height="97" fill="#3079b6"/>
<path d="M324.3 96.9 324.7 97.4 334.1 97.4 336.5 94.2 336.5 89.7 336.8 89.2 336.8 87.9 337.2 87.4 337.2 86.1 337.5 85.6 337.5 84.7 337.9 84.3 337.9 83.4 338.2 82.9 338.2 82.5 338.6 82 338.6 81.6 338.9 81.1 338.9 80.7 339.3 80.2 339.3 79.7 340 78.8 340 78.4 340.3 77.9 340.3 77.5 341.3 76.1 341.3 75.7 344.1 72.1 344.4 72.1 345.1 71.2 345.5 71.2 346.1 70.3 346.5 70.3 347.2 69.4 347.5 69.4 348.2 68.5 348.6 68.5 348.9 68.1 349.3 68.1 349.6 67.6 350 67.6 350.3 67.2 350.6 67.2 351 66.7 351.3 66.7 351.7 66.3 352.4 66.3 352.7 65.8 353.1 65.8 353.4 65.4 354.1 65.4 354.4 64.9 354.8 64.9 355.1 64.5 355.8 64.5 356.2 64 357.2 64 357.6 63.6 358.3 63.6 358.6 63.1 360 63.1 360.3 62.6 361.4 62.7 361.7 62.2 363.8 62.2 364.1 61.7 367.2 61.7 367.6 61.3 388.7 61.3 391.8 57.2 391.9 2.6 390.1 0.3 388.8 -1.5 373.1 -1.5 372.4 -0.7 372.1 -0.7 367.9 4.8 367.6 4.8 363.4 10.2 363.1 10.2 358.9 15.6 358.6 15.6 342.6 36.4 342.6 36.9 339.9 40.5 339.9 40.9 338.1 43.2 338.1 43.6 336.8 45.4 336.8 45.9 335.4 47.7 335.4 48.2 334.3 49.5 334.3 50 333.6 50.9 333.6 51.3 332.9 52.2 332.9 52.7 332.3 53.6 332.3 54 331.6 54.9 331.6 55.4 330.9 56.3 330.9 56.7 330.5 57.2 330.5 57.6 329.8 58.5 329.8 59 329.5 59.4 329.5 59.9 329.1 60.3 329.1 60.8 328.4 61.7 328.4 62.1 328.1 62.6 328.1 63.1 327.8 63.5 327.8 64 327.4 64.4 327.4 64.9 327.1 65.3 327.1 66.2 326.7 66.7 326.7 67.1 326.4 67.6 326.4 68 326 68.5 326 69.4 325.7 69.8 325.7 70.3 325.3 70.7 325.3 71.6 325 72.1 325 73 324.7 73.4 324.7 74.3 324.3 74.8 324.3 76.1 324 76.6 324 77.5 323.6 77.9 323.6 79.7 323.3 80.2 323.3 82 322.9 82.5 322.9 84.7 322.6 85.2 322.6 88.8 322.3 89.2 322.3 94.2 324 96.5ZM358.3 50.5 358 50 358.2 49.1 358.9 47.7 359.8 46.8 361.4 45.5 362.7 44.7 363.8 44.4 364.8 44.5 365.1 45 364.9 45.9 364.3 46.8 363.2 48.2 360.9 50 359.6 50.6 358.6 50.7Z" fill="#3986bc"/>
<path d="M324.3 96.9 324.7 97.4 334.1 97.4 336.5 94.2 336.5 89.7 336.8 89.2 336.8 87.9 337.2 87.4 337.2 86.1 337.5 85.6 337.5 84.7 337.9 84.3 337.9 83.4 338.2 82.9 338.2 82.5 338.6 82 338.6 81.6 338.9 81.1 338.9 80.7 339.3 80.2 339.3 79.7 340 78.8 340 78.4 340.3 77.9 340.3 77.5 341.3 76.1 341.3 75.7 344.1 72.1 344.4 72.1 345.1 71.2 345.5 71.2 346.1 70.3 346.5 70.3 347.2 69.4 347.5 69.4 348.2 68.5 348.6 68.5 348.9 68.1 349.3 68.1 349.6 67.6 350 67.6 350.3 67.2 350.6 67.2 351 66.7 351.3 66.7 351.7 66.3 352.4 66.3 352.7 65.8 353.1 65.8 353.4 65.3 354.1 65.4 354.4 64.9 354.8 64.9 355.1 64.4 355.8 64.4 356.2 64 357.2 64 357.6 63.5 358.3 63.5 358.6 63.1 360 63.1 360.3 62.6 361.4 62.6 361.7 62.2 363.8 62.2 364.1 61.7 367.2 61.7 367.6 61.3 388.7 61.3 391.8 57.2 391.9 2.6 390.1 0.3 388.8 -1.5 373.1 -1.5 372.4 -0.7 372.1 -0.7 367.9 4.8 367.6 4.8 363.4 10.2 363.1 10.2 358.9 15.6 358.6 15.6 342.6 36.4 342.6 36.9 339.9 40.5 339.9 40.9 338.1 43.2 338.1 43.6 336.8 45.4 336.8 45.9 335.4 47.7 335.4 48.2 334.3 49.5 334.3 50 333.6 50.9 333.6 51.3 333 52.2 333 52.7 332.3 53.6 332.3 54 331.6 54.9 331.6 55.4 330.9 56.3 330.9 56.7 330.5 57.2 330.5 57.6 329.8 58.5 329.8 59 329.5 59.4 329.5 59.9 329.1 60.3 329.1 60.8 328.5 61.7 328.5 62.1 328.1 62.6 328.1 63.1 327.8 63.5 327.8 64 327.4 64.4 327.4 64.9 327.1 65.3 327.1 66.2 326.7 66.7 326.7 67.1 326.4 67.6 326.4 68 326 68.5 326 69.4 325.7 69.8 325.7 70.3 325.3 70.7 325.3 71.6 325 72.1 325 73 324.7 73.4 324.7 74.3 324.3 74.8 324.3 76.1 324 76.6 324 77.5 323.6 77.9 323.6 79.7 323.3 80.2 323.3 82 322.9 82.5 322.9 84.7 322.6 85.2 322.6 88.8 322.3 89.2 322.3 94.2 324 96.5ZM357.6 51.9 357.2 51.8 356.8 51.3 356.7 50.9 356.8 50 357.4 48.6 358.7 46.8 360.7 45 362.7 43.6 364.5 42.9 365.9 42.7 366.8 43.2 366.9 44.1 366.4 45.4 365.1 47.3 363.2 49.1 361.4 50.5 359.6 51.4 357.9 51.9Z" fill="#4393c3"/>
<path d="M324.3 96.9 324.7 97.4 334.1 97.4 336.5 94.2 336.5 89.7 336.8 89.2 336.8 87.9 337.2 87.4 337.2 86.1 337.5 85.6 337.5 84.7 337.9 84.3 337.9 83.4 338.2 82.9 338.2 82.5 338.6 82 338.6 81.6 338.9 81.1 338.9 80.7 339.3 80.2 339.3 79.7 339.9 78.8 339.9 78.4 340.3 77.9 340.3 77.5 341.3 76.1 341.3 75.7 344.1 72.1 344.4 72.1 345.1 71.2 345.5 71.2 346.1 70.3 346.5 70.3 347.2 69.4 347.5 69.4 348.2 68.5 348.6 68.5 348.9 68 349.3 68.1 349.6 67.6 350 67.6 350.3 67.1 350.6 67.1 351 66.7 351.3 66.7 351.7 66.2 352.4 66.2 352.7 65.8 353.1 65.8 353.4 65.3 354.1 65.3 354.4 64.9 354.8 64.9 355.1 64.4 355.8 64.4 356.2 64 357.2 64 357.6 63.5 358.3 63.5 358.6 63.1 360 63.1 360.3 62.6 361.4 62.6 361.7 62.2 363.8 62.2 364.1 61.7 367.2 61.7 367.6 61.3 388.7 61.3 391.8 57.2 391.9 2.6 390.1 0.3 388.8 -1.5 373.1 -1.5 372.4 -0.6 372.1 -0.7 367.9 4.8 367.6 4.8 363.4 10.2 363.1 10.2 358.9 15.6 358.6 15.6 342.6 36.4 342.6 36.9 339.9 40.5 339.9 40.9 338.1 43.2 338.1 43.6 336.8 45.4 336.8 45.9 335.4 47.7 335.4 48.2 334.3 49.5 334.3 50 333.6 50.9 333.6 51.3 333 52.2 333 52.7 332.3 53.6 332.3 54 331.6 54.9 331.6 55.4 330.9 56.3 330.9 56.7 330.5 57.2 330.5 57.6 329.8 58.5 329.8 59 329.5 59.4 329.5 59.9 329.1 60.3 329.1 60.8 328.5 61.7 328.5 62.1 328.1 62.6 328.1 63.1 327.8 63.5 327.8 64 327.4 64.4 327.4 64.9 327.1 65.3 327.1 66.2 326.7 66.7 326.7 67.1 326.4 67.6 326.4 68 326 68.5 326 69.4 325.7 69.8 325.7 70.3 325.3 70.7 325.3 71.6 325 72.1 325 73 324.7 73.4 324.7 74.3 324.3 74.8 324.3 76.1 324 76.6 324 77.5 323.6 77.9 323.6 79.7 323.3 80.2 323.3 82 322.9 82.5 322.9 84.7 322.6 85.2 322.6 88.8 322.3 89.2 322.3 94.2 324 96.5ZM356.5 52.8 355.8 52.3 355.7 51.8 355.8 50.4 356.6 48.6 358.4 46.4 360.7 44.2 363.1 42.6 365.5 41.6 367.2 41.4 367.9 41.6 368.3 41.9 368.5 42.3 368.5 43.2 367.7 45 365.9 47.3 363.6 49.5 361.1 51.3 358.6 52.5 356.9 52.8Z" fill="#5aa1cb"/>
<path d="M324.3 96.9 324.7 97.4 334.1 97.4 336.5 94.2 336.5 89.7 336.8 89.2 336.8 87.9 337.2 87.4 337.2 86.1 337.5 85.6 337.5 84.7 337.9 84.3 337.9 83.4 338.2 82.9 338.2 82.5 338.6 82 338.6 81.6 338.9 81.1 338.9 80.7 339.3 80.2 339.3 79.7 339.9 78.8 339.9 78.4 340.3 77.9 340.3 77.5 341.3 76.1 341.3 75.7 344.1 72.1 344.4 72.1 345.1 71.2 345.5 71.2 346.1 70.3 346.5 70.3 347.2 69.4 347.5 69.4 348.2 68.5 348.6 68.5 348.9 68 349.3 68 349.6 67.6 350 67.6 350.3 67.1 350.6 67.1 351 66.7 351.3 66.7 351.7 66.2 352.4 66.2 352.7 65.8 353.1 65.8 353.4 65.3 354.1 65.3 354.4 64.9 354.8 64.9 355.1 64.4 355.8 64.4 356.2 64 357.2 64 357.6 63.5 358.3 63.5 358.6 63.1 360 63.1 360.3 62.6 361.4 62.6 361.7 62.2 363.8 62.2 364.1 61.7 367.2 61.7 367.6 61.3 388.7 61.3 391.8 57.2 391.9 2.6 390.1 0.3 388.8 -1.5 373.1 -1.5 372.4 -0.6 372.1 -0.6 367.9 4.8 367.6 4.8 363.4 10.2 363.1 10.2 358.9 15.6 358.6 15.6 342.6 36.4 342.6 36.9 339.9 40.5 339.9 40.9 338.1 43.2 338.1 43.6 336.8 45.4 336.8 45.9 335.4 47.7 335.4 48.2 334.3 49.5 334.3 50 333.6 50.9 333.6 51.3 333 52.2 333 52.7 332.3 53.6 332.3 54 331.6 54.9 331.6 55.4 330.9 56.3 330.9 56.7 330.5 57.2 330.5 57.6 329.8 58.5 329.8 59 329.5 59.4 329.5 59.9 329.1 60.3 329.1 60.8 328.5 61.7 328.5 62.1 328.1 62.6 328.1 63.1 327.8 63.5 327.8 64 327.4 64.4 327.4 64.9 327.1 65.3 327.1 66.2 326.7 66.7 326.7 67.1 326.4 67.6 326.4 68 326 68.5 326 69.4 325.7 69.8 325.7 70.3 325.4 70.7 325.4 71.6 325 72.1 325 73 324.7 73.4 324.7 74.3 324.3 74.8 324.3 76.1 324 76.6 324 77.5 323.6 77.9 323.6 79.7 323.3 80.2 323.3 82 322.9 82.5 322.9 84.7 322.6 85.2 322.6 88.8 322.3 89.2 322.3 94.2 324 96.5ZM355.8 53.6 355.1 53.2 354.8 52.7 354.8 51.8 355 50.9 356.2 48.4 358.3 45.8 361 43.3 363.8 41.5 366.6 40.3 367.6 40.1 368.6 40.1 369.5 40.5 369.9 40.9 370 41.4 369.9 42.3 369.6 43.2 368.9 44.5 367.2 46.8 364.3 49.5 361.3 51.8 358.6 53.2 357.2 53.6 356.2 53.6Z" fill="#70b0d2"/>
<path d="M324.3 96.9 324.7 97.4 334.1 97.4 336.5 94.2 336.5 89.7 336.8 89.2 336.8 87.9 337.2 87.4 337.2 86.1 337.5 85.6 337.5 84.7 337.9 84.3 337.9 83.4 338.2 82.9 338.2 82.5 338.6 82 338.6 81.6 338.9 81.1 338.9 80.7 339.3 80.2 339.3 79.7 339.9 78.8 339.9 78.4 340.3 77.9 340.3 77.5 341.3 76.1 341.3 75.7 344.1 72.1 344.4 72.1 345.1 71.2 345.5 71.2 346.1 70.3 346.5 70.3 347.2 69.4 347.5 69.4 348.2 68.5 348.6 68.5 348.9 68 349.3 68 349.6 67.6 350 67.6 350.3 67.1 350.6 67.1 351 66.7 351.3 66.7 351.7 66.2 352.4 66.2 352.7 65.8 353.1 65.8 353.4 65.3 354.1 65.3 354.4 64.9 354.8 64.9 355.1 64.4 355.8 64.4 356.2 64 357.2 64 357.6 63.5 358.3 63.5 358.6 63.1 360 63.1 360.3 62.6 361.4 62.6 361.7 62.2 363.8 62.2 364.1 61.7 367.2 61.7 367.6 61.3 388.7 61.3 391.8 57.2 391.9 2.6 390.1 0.3 388.7 -1.5 373.1 -1.5 372.4 -0.6 372.1 -0.6 367.9 4.8 367.6 4.8 363.4 10.2 363.1 10.2 358.9 15.6 358.6 15.6 342.6 36.4 342.6 36.9 339.9 40.5 339.9 40.9 338.1 43.2 338.1 43.6 336.8 45.4 336.8 45.9 335.4 47.7 335.4 48.2 334.3 49.5 334.3 50 333.7 50.9 333.7 51.3 333 52.2 333 52.7 332.3 53.6 332.3 54 331.6 54.9 331.6 55.4 330.9 56.3 330.9 56.7 330.5 57.2 330.5 57.6 329.8 58.5 329.8 59 329.5 59.4 329.5 59.9 329.2 60.3 329.2 60.8 328.5 61.7 328.5 62.1 328.1 62.6 328.1 63.1 327.8 63.5 327.8 64 327.4 64.4 327.4 64.9 327.1 65.3 327.1 66.2 326.7 66.7 326.7 67.1 326.4 67.6 326.4 68 326 68.5 326 69.4 325.7 69.8 325.7 70.3 325.4 70.7 325.4 71.6 325 72.1 325 73 324.7 73.4 324.7 74.3 324.3 74.8 324.3 76.1 324 76.6 324 77.5 323.6 77.9 323.6 79.7 323.3 80.2 323.3 82 322.9 82.5 323 84.7 322.6 85.2 322.6 88.8 322.3 89.2 322.3 94.2 324 96.5ZM354.8 54.2 354.4 54 354 53.1 354 52.2 354.4 50.9 355 49.5 356.1 47.7 358.6 44.8 361.7 42.1 365.2 40 367.9 39 369.3 38.9 370.4 39 371.1 39.4 371.4 40 371.5 40.9 371.3 41.8 370.7 43.2 369.8 44.5 367.5 47.3 364 50.4 360.7 52.7 357.6 54.1 356.2 54.4 355.1 54.4Z" fill="#87beda"/>
<path d="M324.3 96.9 324.7 97.4 334.1 97.4 336.5 94.2 336.5 89.7 336.8 89.2 336.8 87.9 337.2 87.4 337.2 86.1 337.5 85.6 337.5 84.7 337.9 84.3 337.9 83.4 338.2 82.9 338.2 82.5 338.6 82 338.6 81.6 338.9 81.1 338.9 80.7 339.2 80.2 339.2 79.7 339.9 78.8 339.9 78.4 340.3 77.9 340.3 77.5 341.3 76.1 341.3 75.7 344.1 72.1 344.4 72.1 345.1 71.2 345.5 71.2 346.1 70.3 346.5 70.3 347.2 69.4 347.5 69.4 348.2 68.5 348.6 68.5 348.9 68 349.3 68 349.6 67.6 350 67.6 350.3 67.1 350.6 67.1 351 66.7 351.3 66.7 351.7 66.2 352.4 66.2 352.7 65.8 353.1 65.8 353.4 65.3 354.1 65.3 354.4 64.9 354.8 64.9 355.1 64.4 355.8 64.4 356.2 64 357.2 64 357.6 63.5 358.3 63.5 358.6 63.1 360 63.1 360.3 62.6 361.4 62.6 361.7 62.2 363.8 62.2 364.1 61.7 367.2 61.7 367.6 61.3 388.7 61.3 391.8 57.2 391.9 2.6 390.1 0.3 388.7 -1.5 373.1 -1.5 372.4 -0.6 372.1 -0.6 367.9 4.8 367.6 4.8 363.4 10.2 363.1 10.2 358.9 15.6 358.6 15.6 342.6 36.4 342.6 36.9 339.9 40.5 339.9 40.9 338.2 43.2 338.2 43.6 336.8 45.4 336.8 45.9 335.4 47.7 335.4 48.2 334.3 49.5 334.3 50 333.7 50.9 333.7 51.3 333 52.2 333 52.7 332.3 53.6 332.3 54 331.6 54.9 331.6 55.4 330.9 56.3 330.9 56.7 330.5 57.2 330.5 57.6 329.8 58.5 329.8 59 329.5 59.4 329.5 59.9 329.2 60.3 329.2 60.8 328.5 61.7 328.5 62.1 328.1 62.6 328.1 63.1 327.8 63.5 327.8 64 327.4 64.4 327.4 64.9 327.1 65.3 327.1 66.2 326.7 66.7 326.7 67.1 326.4 67.6 326.4 68 326 68.5 326 69.4 325.7 69.8 325.7 70.3 325.4 70.7 325.4 71.6 325 72.1 325 73 324.7 73.4 324.7 74.3 324.3 74.8 324.3 76.1 324 76.6 324 77.5 323.6 77.9 323.6 79.7 323.3 80.2 323.3 82 323 82.5 323 84.7 322.6 85.2 322.6 88.8 322.3 89.2 322.3 94.2 324 96.5ZM354.1 55.1 353.5 54.5 353.3 53.6 353.4 52.2 353.8 50.9 354.8 49.1 356 47.3 358.9 43.9 362.4 41 364.1 39.9 366.2 38.8 367.9 38.2 369.7 37.7 371.1 37.7 372.1 37.9 372.8 38.4 373.1 39.1 373.1 40 372.6 41.4 371 44.1 368.3 47.3 364.7 50.4 360.7 53.2 358.6 54.2 356.5 55 355.5 55.3 354.4 55.2Z" fill="#9bcae1"/>
<path d="M324.4 96.9 324.7 97.4 334.1 97.4 336.5 94.2 336.5 89.7 336.8 89.2 336.8 87.9 337.2 87.4 337.2 86.1 337.5 85.6 337.5 84.7 337.9 84.3 337.9 83.4 338.2 82.9 338.2 82.5 338.6 82 338.6 81.6 338.9 81.1 338.9 80.7 339.2 80.2 339.2 79.7 339.9 78.8 339.9 78.4 340.3 77.9 340.3 77.5 341.3 76.1 341.3 75.7 344.1 72.1 344.4 72.1 345.1 71.2 345.5 71.2 346.1 70.3 346.5 70.3 347.2 69.4 347.5 69.4 348.2 68.5 348.6 68.5 348.9 68 349.3 68 349.6 67.6 350 67.6 350.3 67.1 350.6 67.1 351 66.7 351.3 66.7 351.7 66.2 352.4 66.2 352.7 65.8 353.1 65.8 353.4 65.3 354.1 65.3 354.4 64.9 354.8 64.9 355.1 64.4 355.8 64.4 356.2 64 357.2 64 357.6 63.5 358.3 63.5 358.6 63.1 360 63.1 360.3 62.6 361.4 62.6 361.7 62.2 363.8 62.2 364.1 61.7 367.2 61.7 367.6 61.3 388.7 61.3 391.8 57.2 391.9 2.6 390.1 0.3 388.7 -1.5 373.1 -1.5 372.4 -0.6 372.1 -0.6 367.9 4.8 367.6 4.8 363.4 10.2 363.1 10.2 358.9 15.6 358.6 15.6 342.7 36.4 342.7 36.9 339.9 40.5 339.9 40.9 338.2 43.2 338.2 43.6 336.8 45.4 336.8 45.9 335.4 47.7 335.4 48.2 334.3 49.5 334.3 50 333.7 50.9 333.7 51.3 333 52.2 333 52.7 332.3 53.6 332.3 54 331.6 54.9 331.6 55.4 330.9 56.3 330.9 56.7 330.5 57.2 330.5 57.6 329.8 58.5 329.8 59 329.5 59.4 329.5 59.9 329.2 60.3 329.2 60.8 328.5 61.7 328.5 62.1 328.1 62.6 328.1 63.1 327.8 63.5 327.8 64 327.4 64.4 327.4 64.9 327.1 65.3 327.1 66.2 326.7 66.7 326.7 67.1 326.4 67.6 326.4 68 326 68.5 326 69.4 325.7 69.8 325.7 70.3 325.4 70.7 325.4 71.6 325 72.1 325 73 324.7 73.4 324.7 74.3 324.3 74.8 324.3 76.1 324 76.6 324 77.5 323.6 77.9 323.6 79.7 323.3 80.2 323.3 82 323 82.5 323 84.7 322.6 85.2 322.6 88.8 322.3 89.2 322.3 94.2 324 96.5ZM353.4 56.3 352.8 55.4 352.6 54 352.7 52.7 353.4 50.9 354.3 49.1 355.9 46.8 357.4 45 359.3 43.1 361.4 41.3 363.4 39.7 365.5 38.5 367.6 37.5 369.7 36.7 371.4 36.4 373.1 36.4 374.2 36.7 374.7 37.3 374.9 38.2 374.8 39.1 374.3 40.5 373.6 41.8 372.3 43.6 369.5 46.8 365.9 50 361.5 53.1 355.8 56.2 354.8 56.5 353.8 56.5Z" fill="#add3e6"/>
<path d="M324.4 96.9 324.7 97.4 334.1 97.4 336.5 94.2 336.5 89.7 336.8 89.2 336.8 87.9 337.2 87.4 337.2 86.1 337.5 85.6 337.5 84.7 337.9 84.3 337.9 83.4 338.2 82.9 338.2 82.5 338.6 82 338.6 81.6 338.9 81.1 338.9 80.7 339.2 80.2 339.2 79.7 339.9 78.8 339.9 78.4 340.3 77.9 340.3 77.5 341.3 76.1 341.3 75.7 344.1 72.1 344.4 72.1 345.1 71.2 345.5 71.2 346.1 70.3 346.5 70.3 347.2 69.4 347.5 69.4 348.2 68.5 348.6 68.5 348.9 68 349.3 68 349.6 67.6 350 67.6 350.3 67.1 350.6 67.1 351 66.7 351.3 66.7 351.7 66.2 352.4 66.2 352.7 65.8 353.1 65.8 353.4 65.3 354.1 65.3 354.4 64.9 354.8 64.9 355.1 64.4 355.8 64.4 356.2 64 357.2 64 357.6 63.5 358.3 63.5 358.6 63.1 360 63.1 360.3 62.6 361.4 62.6 361.7 62.2 363.8 62.2 364.1 61.7 367.2 61.7 367.6 61.3 388.7 61.3 391.8 57.2 391.9 2.6 390.1 0.3 388.7 -1.5 373.1 -1.5 372.4 -0.6 372.1 -0.6 367.9 4.8 367.6 4.8 363.4 10.2 363.1 10.2 358.9 15.6 358.6 15.6 342.7 36.4 342.7 36.9 339.9 40.5 339.9 40.9 338.2 43.2 338.2 43.6 336.8 45.4 336.8 45.9 335.4 47.7 335.4 48.2 334.4 49.5 334.4 50 333.7 50.9 333.7 51.3 333 52.2 333 52.7 332.3 53.6 332.3 54 331.6 54.9 331.6 55.4 330.9 56.3 330.9 56.7 330.5 57.2 330.5 57.6 329.9 58.5 329.9 59 329.5 59.4 329.5 59.9 329.2 60.3 329.2 60.8 328.5 61.7 328.5 62.1 328.1 62.6 328.1 63.1 327.8 63.5 327.8 64 327.4 64.4 327.4 64.9 327.1 65.3 327.1 66.2 326.7 66.7 326.7 67.1 326.4 67.6 326.4 68 326.1 68.5 326.1 69.4 325.7 69.8 325.7 70.3 325.4 70.7 325.4 71.6 325 72.1 325 73 324.7 73.4 324.7 74.3 324.3 74.8 324.3 76.1 324 76.6 324 77.5 323.6 77.9 323.6 79.7 323.3 80.2 323.3 82 323 82.5 323 84.7 322.6 85.2 322.6 88.8 322.3 89.2 322.3 94.2 324 96.5ZM352 60.4 351.1 59.9 350.9 59.4 350.8 59 351.6 57.2 352 53.6 352.4 52.2 353.2 50.4 354.2 48.6 357.2 44.7 359.3 42.6 361.4 40.7 363.4 39.2 365.9 37.6 368.3 36.4 370.7 35.4 373.1 34.8 374.9 34.8 375.9 35 376.6 35.5 377 36.4 376.9 37.8 376.4 39.1 375.7 40.5 374.5 42.3 373 44.1 369.9 47.3 366.6 50 363.6 52.2 359.3 54.9 357.5 56.3 356.8 57.2 356.7 57.6 356.9 58.5 356.8 59 356.1 59.4 354.4 60.1 352.4 60.4Z" fill="#bfdceb"/>
<path d="M325.8 97.4 334.1 97.4 336.5 94.2 336.5 89.7 336.8 89.2 336.8 87.9 337.2 87.4 337.2 86.1 337.5 85.6 337.5 84.7 337.9 84.3 337.9 83.4 338.2 82.9 338.2 82.5 338.5 82 338.5 81.6 338.9 81.1 338.9 80.7 339.2 80.2 339.2 79.7 339.9 78.8 339.9 78.4 340.3 77.9 340.3 77.5 341.3 76.1 341.3 75.7 344.1 72.1 344.4 72.1 345.1 71.2 345.5 71.2 346.1 70.3 346.5 70.3 347.2 69.4 347.5 69.4 348.2 68.5 348.6 68.5 348.9 68 349.3 68 349.6 67.6 350 67.6 350.3 67.1 350.6 67.1 351 66.7 351.3 66.7 351.7 66.2 352.4 66.2 352.7 65.8 353.1 65.8 353.4 65.3 354.1 65.3 354.4 64.9 354.8 64.9 355.1 64.4 355.8 64.4 356.2 64 357.2 64 357.6 63.5 358.3 63.5 358.6 63.1 360 63.1 360.3 62.6 361.4 62.6 361.7 62.2 363.8 62.2 364.1 61.7 367.2 61.7 367.6 61.3 388.7 61.3 391.8 57.2 391.9 2.6 388.7 -1.5 373.1 -1.5 372.4 -0.6 372.1 -0.6 367.9 4.8 367.6 4.8 363.4 10.2 363.1 10.2 358.9 15.6 358.6 15.6 342.7 36.4 342.7 36.9 339.9 40.5 339.9 40.9 338.2 43.2 338.2 43.6 336.8 45.4 336.8 45.9 335.4 47.7 335.4 48.2 334.4 49.5 334.4 50 333.7 50.9 333.7 51.3 333 52.2 333 52.7 332.3 53.6 332.3 54 331.6 54.9 331.6 55.4 330.9 56.3 330.9 56.7 330.5 57.2 330.5 57.6 329.9 58.5 329.9 59 329.5 59.4 329.5 59.9 329.2 60.3 329.2 60.8 328.5 61.7 328.5 62.1 328.1 62.6 328.1 63.1 327.8 63.5 327.8 64 327.4 64.4 327.4 64.9 327.1 65.3 327.1 66.2 326.7 66.7 326.7 67.1 326.4 67.6 326.4 68 326.1 68.5 326.1 69.4 325.7 69.8 325.7 70.3 325.4 70.7 325.4 71.6 325 72.1 325 73 324.7 73.4 324.7 74.3 324.3 74.8 324.3 76.1 324 76.6 324 77.5 323.6 77.9 323.6 79.7 323.3 80.2 323.3 82 323 82.5 323 84.7 322.6 85.2 322.6 88.8 322.3 89.2 322.3 94.2 323 95.1 323.3 95.1 323.3 93.3 324 92 325 91.4 326.1 91.6 326.8 92.4 327.2 93.3 327.3 94.2 327 96 326.4 96.9 326.1 97.2ZM339.6 74 339.4 73.9 339.3 73.4 339.9 72.1 341 71.1 341.7 70.8 342.3 70.6 342.6 70.7 342.7 71.2 342.3 72.1 341 73.4 339.9 74ZM350.3 62.6 349.6 62.4 349.3 61.7 349.4 59.4 350.9 56.3 352 52.2 352.8 50.4 354.1 48.3 357.2 44.3 359.6 41.8 361.7 39.9 364.1 38.1 366.6 36.6 369.7 35 372.4 33.8 374.9 33.1 376.9 32.8 378.3 33 379 33.4 379.5 34.2 379.6 35.5 379.2 36.9 378.4 38.7 377.2 40.5 375.8 42.3 372.7 45.4 369.1 48.6 365.6 51.3 360.8 54.5 359.1 55.8 358.5 56.7 358.5 57.2 359.2 58.5 359.2 59 357.7 59.9 354.7 61.2 352.4 62.2 350.6 62.6ZM323.3 95.5 323.3 95.4Z" fill="#d1e5f0"/>
<path d="M328.6 97.4 334 97.4 336.5 94.2 336.5 89.7 336.8 89.2 336.8 87.9 337.2 87.4 337.2 86.1 337.5 85.6 337.5 84.7 337.9 84.3 337.9 83.4 338.2 82.9 338.2 82.5 338.5 82 338.5 81.6 338.9 81.1 338.9 80.7 339.2 80.2 339.2 79.7 339.9 78.8 339.9 78.4 340.3 77.9 340.3 77.5 341.3 76.1 341.3 75.7 342 74.8 342 74.4 340.6 75.6 339.2 76.4 338.5 76.6 337.8 76.6 337.5 76.3 337.3 75.7 337.3 74.8 337.8 73.4 338.6 72.1 339.6 70.9 344.3 67.1 345.5 66 346.1 65 347.4 62.6 348.7 59 350.2 56.3 352 51.3 353.3 49.1 355.1 46.4 357.6 43.5 360.3 40.7 363.1 38.3 366.2 36.1 370.4 33.7 375.2 31.5 378.3 30.4 380.4 30.3 381.1 30.6 381.7 31 382.1 31.9 382.2 32.8 382.1 34.3 381.8 35.9 380.7 38.2 378.2 41.4 373.9 45.4 368.8 49.5 361.6 54.5 360.5 55.4 359.8 56.3 359.8 56.7 360 57.3 361.3 58.5 361.3 59 360.7 59.4 352 63.6 348.2 65.9 347.2 66.8 346.2 68 344 72.1 344.4 72.1 345.1 71.2 345.5 71.2 346.1 70.3 346.5 70.3 347.2 69.4 347.5 69.4 348.2 68.5 348.6 68.5 348.9 68 349.3 68 349.6 67.6 350 67.6 350.3 67.1 350.6 67.1 351 66.7 351.3 66.7 351.7 66.2 352.4 66.2 352.7 65.8 353.1 65.8 353.4 65.3 354.1 65.3 354.4 64.9 354.8 64.9 355.1 64.4 355.8 64.4 356.2 64 357.2 64 357.6 63.5 358.3 63.5 358.6 63.1 360 63.1 360.3 62.6 361.4 62.6 361.7 62.2 363.8 62.2 364.1 61.7 367.2 61.7 367.6 61.3 388.7 61.3 391.8 57.2 391.8 2.6 388.7 -1.5 373.1 -1.5 372.4 -0.6 372.1 -0.6 367.9 4.8 367.6 4.8 363.4 10.2 363.1 10.2 358.9 15.6 358.6 15.6 342.7 36.4 342.7 36.9 339.9 40.5 339.9 40.9 338.2 43.2 338.2 43.6 336.8 45.4 336.8 45.9 335.4 47.7 335.4 48.2 334.4 49.5 334.4 50 333.7 50.9 333.7 51.3 333 52.2 333 52.7 332.3 53.6 332.3 54 331.6 54.9 331.6 55.4 330.9 56.3 330.9 56.7 330.5 57.2 330.5 57.6 329.9 58.5 329.9 59 329.5 59.4 329.5 59.9 329.2 60.3 329.2 60.8 328.5 61.7 328.5 62.1 328.1 62.6 328.1 63.1 327.8 63.5 327.8 64 327.4 64.4 327.4 64.9 327.1 65.3 327.1 66.2 326.7 66.7 326.7 67.1 326.4 67.6 326.4 68 326.1 68.5 326.1 69.4 325.7 69.8 325.7 70.3 325.4 70.7 325.4 71.6 325 72.1 325 73 324.7 73.4 324.7 74.3 324.3 74.8 324.3 76.1 324 76.6 324 77.5 323.6 77.9 323.7 79.7 323.3 80.2 323.3 82 323 82.5 323 84.7 322.6 85.2 322.6 88.8 322.3 89.2 322.3 90.7 323 89.8 323.6 89.2 324.4 88.8 325 88.7 326.4 88.9 327.1 89.3 327.8 89.9 328.7 91.5 329.1 93.3 329.1 95.1 328.8 96.9ZM369.7 59.6 368.7 59 369 58.5 370 58.1 370 59.7ZM342 74.3 342.3 74.3 342.3 74ZM342.5 73.9 342.7 73.9 342.7 73.6ZM342.9 73.4 343 73.4 343 73.3ZM343.3 73 343.4 72.8ZM343.6 72.5 343.7 72.4Z" fill="#dceaf2"/>
<path d="M330.8 97.4 334 97.4 336.5 94.2 336.5 89.7 336.8 89.2 336.8 87.9 337.2 87.4 337.2 86.1 337.5 85.6 337.5 84.7 337.9 84.3 337.9 83.4 338.2 82.9 338.2 82.5 338.5 82 338.5 81.6 338.9 81.1 338.9 80.7 339.2 80.2 339.2 79.7 339.9 78.8 339.9 78.4 340.3 77.9 340.3 77.4 338.9 78.2 337.5 78.7 336.8 78.6 336.1 78 335.9 77 336.1 75.7 336.5 74.3 337.2 73 338.9 70.7 343.2 66.7 345.8 63.5 348 59 349.6 56.2 351.9 50.9 353.2 48.6 355.1 45.9 357.6 43 360.7 39.9 363.8 37.2 366.6 35.2 375.2 30 377.6 28.8 379.4 28.2 381.1 28 382.1 28.2 383 29.2 383.5 31 383.5 33.7 383 36.9 382.1 39.2 380.9 40.9 379 42.7 376.7 44.5 369.1 50 362.4 54.5 361.1 55.8 360.9 56.3 361 56.7 361.4 57.2 362.4 57.8 364.1 58.3 366.2 58.3 370 57.6 370 60.6 367.2 59.7 365.2 59.3 363.1 59.6 361.4 60.1 356.2 62.4 351.8 64.9 348.9 67.1 346.9 69.4 347.5 69.4 348.2 68.5 348.6 68.5 348.9 68 349.3 68 349.6 67.6 350 67.6 350.3 67.1 350.6 67.1 351 66.7 351.3 66.7 351.7 66.2 352.4 66.2 352.7 65.8 353.1 65.8 353.4 65.3 354.1 65.3 354.4 64.9 354.8 64.9 355.1 64.4 355.8 64.4 356.2 64 357.2 64 357.6 63.5 358.3 63.5 358.6 63.1 360 63.1 360.3 62.6 361.4 62.6 361.7 62.2 363.8 62.2 364.1 61.7 367.2 61.7 367.6 61.3 388.7 61.3 391.8 57.2 391.8 2.6 388.7 -1.5 373.1 -1.5 372.4 -0.6 372.1 -0.6 367.9 4.8 367.6 4.8 363.4 10.2 363.1 10.2 358.9 15.6 358.6 15.6 342.7 36.4 342.7 36.9 339.9 40.5 339.9 40.9 338.2 43.2 338.2 43.6 336.8 45.4 336.8 45.9 335.4 47.7 335.4 48.2 334.4 49.5 334.4 50 333.7 50.9 333.7 51.3 333 52.2 333 52.7 332.3 53.6 332.3 54 331.6 54.9 331.6 55.4 330.9 56.3 330.9 56.7 330.6 57.2 330.6 57.6 329.9 58.5 329.9 59 329.5 59.4 329.5 59.9 329.2 60.3 329.2 60.8 328.5 61.7 328.5 62.1 328.1 62.6 328.1 63.1 327.8 63.5 327.8 64 327.4 64.4 327.4 64.9 327.1 65.3 327.1 66.2 326.7 66.7 326.8 67.1 326.4 67.6 326.4 68 326.1 68.5 326.1 69.4 325.7 69.8 325.7 70.3 325.4 70.7 325.4 71.6 325 72.1 325 73 324.7 73.4 324.7 74.3 324.3 74.8 324.3 76.1 324 76.6 324 77.5 323.7 77.9 323.7 79.7 323.3 80.2 323.3 82 323 82.5 323 84.7 322.6 85.2 322.6 87.2 324 86.7 325.7 86.8 328.2 87.7 329.7 88.8 330.4 90.1 331 92.4 331.1 94.6 330.9 96.9ZM346.3 70.3 346.5 70.3 346.5 70ZM346.6 69.8 346.8 69.8 346.8 69.5Z" fill="#e7eff4"/>
<path d="M335.7 87.9 336.8 88.2 336.8 87.9 337.2 87.4 337.2 86.1 337.5 85.6 337.5 84.7 337.8 84.3 337.8 83.4 338.2 82.9 338.2 82.5 338.5 82 338.5 81.6 338.9 81.1 338.9 80.7 339.2 80.2 339.2 79.9 338.2 80.5 336.8 80.8 335.8 80.7 335.1 80.2 334.7 79.3 334.7 77.9 335.1 76.1 335.6 74.8 336.6 73 337.8 71.1 342.7 66.2 345.2 63.1 349.3 55.9 351.6 50.9 353.5 47.7 355.5 45 357.9 42.3 360.3 39.8 363.1 37.3 367.2 34.1 374.5 29.1 377.3 27.4 380 26.3 381.4 26 382 26 382.8 26.5 383.3 26.9 383.9 27.8 384.4 29.2 384.8 31.5 384.4 35.1 383.5 39.1 382.2 42.3 381.4 43.4 380.4 44.1 373.1 48.2 363.8 54 362.3 55.4 362 55.8 362 56.3 362.4 56.7 363.1 57.1 364.8 57.5 366.9 57.5 370 57.1 370 61.2 370.4 61.3 388.7 61.3 391.8 57.2 391.8 2.6 388.7 -1.5 373.1 -1.5 372.4 -0.6 372.1 -0.6 367.9 4.8 367.6 4.8 363.4 10.2 363.1 10.2 358.9 15.6 358.6 15.6 342.7 36.4 342.7 36.9 339.9 40.5 339.9 40.9 338.2 43.2 338.2 43.6 336.8 45.4 336.8 45.9 335.4 47.7 335.4 48.2 334.4 49.5 334.4 50 333.7 50.9 333.7 51.3 333 52.2 333 52.7 332.3 53.6 332.3 54 331.6 54.9 331.6 55.4 330.9 56.3 330.9 56.7 330.6 57.2 330.6 57.6 329.9 58.5 329.9 59 329.5 59.4 329.5 59.9 329.2 60.3 329.2 60.8 328.5 61.7 328.5 62.1 328.1 62.6 328.1 63.1 327.8 63.5 327.8 64 327.4 64.4 327.4 64.9 327.1 65.3 327.1 66.2 326.8 66.7 326.8 67.1 326.4 67.6 326.4 68 326.1 68.5 326.1 69.4 325.7 69.8 325.7 70.3 325.4 70.7 325.4 71.6 325 72.1 325 73 324.7 73.4 324.7 74.3 324.3 74.8 324.3 76.1 324 76.6 324 77.5 323.7 77.9 323.7 79.7 323.3 80.2 323.3 82 323 82.5 323 84.9 324.7 85 328.5 86.2 332.8 87 335.4 87.8ZM349.7 67.6 350 67.6 350 67.4ZM350.2 67.1 350.6 67.1 350.6 66.8 350.3 67.1ZM350.8 66.7 351.3 66.7 351.3 66.2 351 66.5ZM351.3 66.2 352.4 66.2 352.7 65.8 353.1 65.8 353.4 65.3 354.1 65.3 354.4 64.9 354.8 64.9 355.1 64.4 355.8 64.4 356.2 64 357.2 64 357.6 63.5 358.3 63.5 358.6 63.1 360 63.1 360.3 62.6 361.4 62.6 361.7 62.2 363.8 62.2 364.1 61.7 367.2 61.7 367.6 61.2 369.8 61.2 367.6 60.6 365.9 60.3 364.1 60.3 362.4 60.6 360 61.4 356.9 62.9 354 64.4 351.7 66Z" fill="#f2f4f6"/>
<path d="M327.8 84.7 328.9 85 330.2 84.9 331.6 84.3 332.6 83.4 333 82.5 333.3 79.7 333.8 77.5 334.7 75.2 335.7 73.4 338 70.3 342 66.2 344.6 63.1 348.9 55.8 352 49.5 354.2 46.4 356.5 43.4 360.3 39.4 364.8 35.3 375.9 26.9 377.6 25.7 379.4 24.9 380.7 24.4 381.8 24.2 382.5 24.4 383.2 24.8 384.2 26 385.1 27.4 385.6 28.8 385.8 30.1 385.8 32.8 385.1 36.9 383.2 44.1 382.1 46.8 381.4 47.4 378.7 47.6 376.9 47.9 374.9 48.5 372.8 49.4 369.3 51.3 364.6 54 363.5 54.9 363.2 55.4 363.1 55.8 363.4 56.3 363.8 56.5 365.2 56.9 367.2 57 370 56.7 370.1 58.5 370.1 61.2 370.4 61.3 388.7 61.3 391.8 57.2 391.8 2.6 388.7 -1.5 373.1 -1.5 372.4 -0.6 372.1 -0.6 367.9 4.8 367.6 4.8 363.4 10.2 363.1 10.2 358.9 15.6 358.6 15.6 342.7 36.4 342.7 36.9 339.9 40.5 339.9 40.9 338.2 43.2 338.2 43.6 336.8 45.4 336.8 45.9 335.4 47.7 335.4 48.2 334.4 49.5 334.4 50 333.7 50.9 333.7 51.3 333 52.2 333 52.7 332.3 53.6 332.3 54 331.6 54.9 331.6 55.4 330.9 56.3 330.9 56.7 330.6 57.2 330.6 57.6 329.9 58.5 329.9 59 329.5 59.4 329.5 59.9 329.2 60.3 329.2 60.8 328.5 61.7 328.5 62.1 328.1 62.6 328.1 63.1 327.8 63.5 327.8 64 327.4 64.4 327.4 64.9 327.1 65.3 327.1 66.2 326.8 66.7 326.8 67.1 326.4 67.6 326.4 68 326.1 68.5 326.1 69.4 325.7 69.8 325.7 70.3 325.4 70.7 325.4 71.6 325 72.1 325 73 324.7 73.4 324.7 74.3 324.3 74.8 324.3 76.1 324 76.6 324 77.5 323.7 77.9 323.7 79.7 323.3 80.2 323.3 82 323 82.5 323 82.8 324.7 83.1 327.5 84.6ZM353.9 65.3 354.1 65.3 354.1 65.2ZM354.6 64.9 354.8 64.8ZM355.4 64.4 355.8 64.4 355.8 64.2 355.5 64.4ZM356.2 64 357.2 64 357.6 63.5 358.3 63.5 358.6 63.1 360 63.1 360.3 62.6 361.4 62.6 361.7 62.2 363.8 62.2 364.1 61.7 367.2 61.7 367.2 61.3 366.2 61.1 364.5 61 362.7 61.2 360 62.2 356.5 63.8Z" fill="#f8f3f0"/>
<path d="M328.2 82.9 328.9 83.1 329.5 83 330.2 82.7 330.9 82 331.6 80.9 333.8 75.7 335.4 73 337.8 69.8 341.7 66 344.4 62.6 348.2 56.3 352 49.1 354.1 46 356.5 43.1 360.3 38.9 364.5 35 370.4 30.3 376.2 25.3 378.3 23.9 380 23 381.4 22.6 382.1 22.6 382.8 22.9 383.8 23.7 385.1 25.1 386.2 26.9 386.7 28.3 387.1 30.1 387.1 31.5 386.8 34.2 384.5 44.1 383.8 48.6 383.4 53.6 383.3 61.2 388.7 61.3 391.8 57.2 391.8 2.6 388.7 -1.5 373.1 -1.5 372.4 -0.6 372.1 -0.6 367.9 4.8 367.6 4.8 363.4 10.2 363.1 10.2 358.9 15.6 358.6 15.6 342.7 36.4 342.7 36.9 339.9 40.5 339.9 40.9 338.2 43.2 338.2 43.6 336.8 45.4 336.8 45.9 335.4 47.7 335.4 48.2 334.4 49.5 334.4 50 333.7 50.9 333.7 51.3 333 52.2 333 52.7 332.3 53.6 332.3 54 331.6 54.9 331.6 55.4 330.9 56.3 330.9 56.7 330.6 57.2 330.6 57.6 329.9 58.5 329.9 59 329.5 59.4 329.5 59.9 329.2 60.3 329.2 60.8 328.5 61.7 328.5 62.1 328.1 62.6 328.1 63.1 327.8 63.5 327.8 64 327.4 64.4 327.4 64.9 327.1 65.3 327.1 66.2 326.8 66.7 326.8 67.1 326.4 67.6 326.4 68 326.1 68.5 326.1 69.4 325.7 69.8 325.7 70.3 325.4 70.7 325.4 71.6 325 72.1 325 73 324.7 73.4 324.7 74.3 324.3 74.8 324.4 76.1 324 76.6 324 77.5 323.7 77.9 323.7 79.7 323.3 80.2 323.3 80.6 324.4 80.7 325.4 81 327.8 82.7ZM359.5 63.1 360 63.1 360 62.9 359.6 63ZM360.6 62.6 361.4 62.6 361.4 62.3 360.7 62.6ZM361.9 62.1 363.8 62.1 363.8 61.8 362.1 62.1ZM370.1 61.2 380 61.2 379.8 55.8 379.5 54 379.2 52.7 378.7 51.8 377.9 50.9 376.9 50.3 375.9 50.1 373.8 50.3 371.1 51.2 366.4 53.6 365 54.5 364.6 54.9 364.4 55.4 364.5 55.8 365.4 56.3 367.2 56.5 370 56.3 370.2 58.1 370.1 60.8Z" fill="#faebe2"/>
<path d="M328.1 80.2 329.2 80.6 329.9 80.4 330.6 79.9 331.6 78.4 334.2 73.9 335.8 71.6 337.5 69.6 341.3 65.8 343.4 63.3 347.8 56.3 350.6 50.9 352 48.6 354.2 45.4 357.2 41.9 360.3 38.5 364.1 34.8 370.4 29.6 375.9 24.4 378.3 22.5 380.7 21.2 381.8 21 382.5 21.1 383.5 21.7 384.5 22.6 385.9 24.2 387.5 26.5 388.8 28.8 389.1 30.1 389 31.5 386.6 40.5 385.6 45.9 385.2 51.3 385.1 61.2 388.7 61.3 391.8 57.2 391.8 2.6 388.7 -1.5 373.1 -1.5 372.4 -0.6 372.1 -0.6 367.9 4.8 367.6 4.8 363.4 10.2 363.1 10.2 358.9 15.6 358.6 15.6 342.7 36.4 342.7 36.9 339.9 40.5 339.9 40.9 338.2 43.2 338.2 43.6 336.8 45.4 336.8 45.9 335.4 47.7 335.4 48.2 334.4 49.5 334.4 50 333.7 50.9 333.7 51.3 333 52.2 333 52.7 332.3 53.6 332.3 54 331.6 54.9 331.6 55.4 330.9 56.3 330.9 56.7 330.6 57.2 330.6 57.6 329.9 58.5 329.9 59 329.5 59.4 329.5 59.9 329.2 60.3 329.2 60.8 328.5 61.7 328.5 62.1 328.1 62.6 328.1 63.1 327.8 63.5 327.8 64 327.5 64.4 327.5 64.9 327.1 65.3 327.1 66.2 326.8 66.7 326.8 67.1 326.4 67.6 326.4 68 326.1 68.5 326.1 69.4 325.7 69.8 325.7 70.3 325.4 70.7 325.4 71.6 325 72.1 325 73 324.7 73.4 324.7 74.3 324.4 74.8 324.4 76.1 324 76.6 324 77.5 323.7 77.9 323.7 78.6 325 78.6 326.1 78.8 326.8 79.2 327.8 80ZM370.2 61.2 377.3 61.2 377.1 56.7 376.5 54 376 53.1 375.2 52.4 374.5 52.1 373.5 51.9 371.7 52.1 369.7 52.7 366.8 54 366.2 54.5 365.9 54.9 365.9 55.4 366.9 55.8 370 55.8 370.2 57.6 370.2 60.8Z" fill="#fbe3d5"/>
<path d="M329.5 77.9 330.2 77.8 331.3 77 336 70.7 337.1 69.4 340.6 66 343.1 63.1 347.4 56.3 351.4 49.1 353.6 45.9 356.1 42.7 359.6 38.9 363.8 34.6 370.4 28.9 375.5 23.7 378 21.5 379.7 20.3 381.1 19.6 382.1 19.4 382.8 19.6 384.5 20.9 388 24.5 390.5 26 391.8 27.2 391.8 2.6 388.7 -1.5 373.1 -1.5 372.4 -0.6 372.1 -0.6 367.9 4.8 367.6 4.8 363.4 10.2 363.1 10.2 358.9 15.6 358.6 15.6 342.7 36.4 342.7 36.9 339.9 40.5 339.9 40.9 338.2 43.2 338.2 43.6 336.8 45.4 336.8 45.9 335.4 47.7 335.4 48.2 334.4 49.5 334.4 50 333.7 50.9 333.7 51.3 333 52.2 333 52.7 332.3 53.6 332.3 54 331.6 54.9 331.6 55.4 330.9 56.3 330.9 56.7 330.6 57.2 330.6 57.6 329.9 58.5 329.9 59 329.5 59.4 329.5 59.9 329.2 60.3 329.2 60.8 328.5 61.7 328.5 62.1 328.1 62.6 328.1 63.1 327.8 63.5 327.8 64 327.5 64.4 327.5 64.9 327.1 65.3 327.1 66.2 326.8 66.7 326.8 67.1 326.4 67.6 326.4 68 326.1 68.5 326.1 69.4 325.7 69.8 325.7 70.3 325.4 70.7 325.4 71.6 325 72.1 325 73 324.7 73.4 324.7 74.3 324.4 74.8 324.4 76.1 324 76.7 326.8 76.7 327.7 77 329.2 77.9ZM370.2 61.2 375.3 61.2 375 57.6 374.4 55.4 373.9 54.5 373.3 54 372.4 53.6 371.7 53.5 369.7 53.8 368.8 54 368.1 54.5 368.1 54.9 368.3 55 370 55.1 370.2 56.7 370.2 60.8ZM386.9 61.2 388.7 61.2 391.8 57.2 391.8 45.4 391.8 35.2 388.3 41 387.6 43.6 387.1 47.7 386.9 52.2 386.9 60.8Z" fill="#fddbc7"/>
<path d="M329.1 75.2 330.2 75.6 330.9 75.3 331.6 74.8 336.8 69.1 341 65.1 343.7 61.6 347.2 56.1 350.8 49.5 352.6 46.8 355.1 43.6 358.9 39.2 363.8 34.2 370.4 28.3 375.9 22.4 378.3 20.2 380 18.9 381.4 18.1 382.1 17.9 382.8 18 384.2 18.9 387 21.6 388 22.4 391.8 23.7 391.8 2.6 388.7 -1.5 373.1 -1.5 372.4 -0.6 372.1 -0.6 367.9 4.8 367.6 4.8 363.4 10.2 363.1 10.2 358.9 15.6 358.6 15.6 342.7 36.4 342.7 36.9 339.9 40.5 339.9 40.9 338.2 43.2 338.2 43.6 336.8 45.4 336.8 45.9 335.4 47.7 335.4 48.2 334.4 49.5 334.4 50 333.7 50.9 333.7 51.3 333 52.2 333 52.7 332.3 53.6 332.3 54 331.6 54.9 331.6 55.4 330.9 56.3 330.9 56.7 330.6 57.2 330.6 57.6 329.9 58.5 329.9 59 329.5 59.4 329.5 59.9 329.2 60.3 329.2 60.8 328.5 61.7 328.5 62.1 328.1 62.6 328.1 63.1 327.8 63.5 327.8 64 327.5 64.4 327.5 64.9 327.1 65.3 327.1 66.2 326.8 66.7 326.8 67.1 326.4 67.6 326.4 68 326.1 68.5 326.1 69.4 325.7 69.8 325.7 70.3 325.4 70.7 325.4 71.6 325 72.1 325 73 324.7 73.4 324.7 74.3 324.4 74.8 327.1 74.7 328.9 75.1ZM370.3 61.2 373.4 61.2 373.2 58.5 372.6 56.7 371.7 55.6 370.4 55 370.3 60.8Z" fill="#faccb3"/>
<path d="M330 73 330.9 73.2 331.6 73.1 333 72.2 340.6 64.9 343.5 61.2 346.8 56 350.4 49.5 352.2 46.8 354.7 43.6 358.6 39.2 363.4 34.1 370.2 27.8 375.9 21.7 379.4 18.4 381.8 16.7 382.9 16.6 384.2 17.2 386.6 19.5 388 20.5 388.7 20.8 391.8 21.4 391.8 2.6 388.7 -1.5 373.1 -1.5 372.4 -0.6 372.1 -0.6 367.9 4.8 367.6 4.8 363.4 10.2 363.1 10.2 358.9 15.7 358.6 15.7 342.7 36.4 342.7 36.9 339.9 40.5 339.9 40.9 338.2 43.2 338.2 43.6 336.8 45.4 336.8 45.9 335.4 47.7 335.4 48.2 334.4 49.5 334.4 50 333.7 50.9 333.7 51.3 333 52.2 333 52.7 332.3 53.6 332.3 54 331.6 54.9 331.6 55.4 330.9 56.3 330.9 56.7 330.6 57.2 330.6 57.6 329.9 58.5 329.9 59 329.5 59.4 329.5 59.9 329.2 60.3 329.2 60.8 328.5 61.7 328.5 62.1 328.2 62.6 328.2 63.1 327.8 63.5 327.8 64 327.5 64.4 327.5 64.9 327.1 65.3 327.1 66.2 326.8 66.7 326.8 67.1 326.4 67.6 326.4 68 326.1 68.5 326.1 69.4 325.7 69.8 325.7 70.3 325.4 70.7 325.4 71.6 325 72.1 325 72.9 328.2 72.7 329.9 72.9ZM370.3 61.2 371.6 61.2 371.1 58.5 370.4 57.2 370.3 60.8Z" fill="#f8bca0"/>
<path d="M331.6 71.2 332.7 71.1 334 70.4 338.2 66.8 340.6 64.4 343.1 61.2 346.6 55.8 350 49.5 351.8 46.8 354 44.1 357.6 40 363.1 34 370 27.5 376.2 20.6 379.7 17.3 381.8 15.7 382.8 15.3 383.5 15.3 384.5 15.9 387 18.1 388 18.7 388.7 18.9 391.8 19.3 391.8 2.6 388.7 -1.5 377.5 -1.5 373.9 3 368.4 10.2 361.4 18.1 354.4 26.9 346.8 37.3 343.5 42.3 340.2 47.7 338.9 49.3 337.8 50.2 337.2 50.5 336.8 50.4 336.6 50 336.8 48.6 337.3 47.3 341 41.4 345.1 35.3 349.3 29.7 354.2 23.3 365.6 9.3 374.7 -1.5 373.1 -1.5 372.4 -0.6 372.1 -0.6 367.9 4.8 367.6 4.8 363.4 10.2 363.1 10.2 358.9 15.7 358.6 15.7 342.7 36.4 342.7 36.9 339.9 40.5 339.9 40.9 338.2 43.2 338.2 43.6 336.8 45.4 336.8 45.9 335.4 47.7 335.4 48.2 334.4 49.5 334.4 50 333.7 50.9 333.7 51.3 333 52.2 333 52.7 332.3 53.6 332.3 54 331.6 54.9 331.6 55.4 330.9 56.3 330.9 56.7 330.6 57.2 330.6 57.6 329.9 58.5 329.9 59 329.5 59.4 329.5 59.9 329.2 60.3 329.2 60.8 328.5 61.7 328.5 62.1 328.2 62.6 328.2 63.1 327.8 63.5 327.8 64 327.5 64.4 327.5 64.9 327.1 65.3 327.1 66.2 326.8 66.7 326.8 67.1 326.4 67.6 326.4 68 326.1 68.5 326.1 69.4 325.7 69.8 325.7 70.3 325.4 70.7 325.4 71 329.2 70.6 331.6 71.2Z" fill="#f5ad8c"/>
<path d="M332.5 69.4 333.7 69.4 334.7 68.8 337.8 66.5 340.6 63.8 342.7 61.2 345.9 56.3 349.4 49.5 353.2 44.5 363 33.7 369.6 27.4 375.9 20.3 380 16.2 382.1 14.5 383.2 14.1 383.8 14.1 384.9 14.5 387 16.3 388 16.9 388.7 17.1 391.8 17.3 391.8 2.6 388.7 -1.5 378.8 -1.5 374.9 3.5 369.3 10.9 361.7 19.3 355 27.8 347.9 37.8 344.8 42.6 341.8 47.7 339.2 51.1 337.8 52.5 336.8 53.2 335.8 53.6 335.1 53.5 334.7 53.1 334.5 52.2 334.7 50.4 335.4 48.6 335.1 48.6 334.4 49.5 334.4 50 333.7 50.9 333.7 51.3 333 52.2 333 52.7 332.3 53.6 332.3 54 331.6 54.9 331.6 55.4 330.9 56.3 330.9 56.7 330.6 57.2 330.6 57.6 329.9 58.5 329.9 59 329.5 59.4 329.5 59.9 329.2 60.3 329.2 60.8 328.5 61.7 328.5 62.1 328.2 62.6 328.2 63.1 327.8 63.5 327.8 64 327.5 64.4 327.5 64.9 327.1 65.3 327.1 66.2 326.8 66.7 326.8 67.1 326.4 67.6 326.4 68 326.1 68.5 326.1 68.9 329.2 68.5 330.2 68.5 330.9 68.6 332.3 69.3ZM335.4 48.2 335.4 48.5 336 47.3 335.8 47.3 335.4 47.7ZM336.1 46.8 336.1 47.1 336.3 46.8 336.1 46.8ZM336.5 46.4 336.5 46.5 336.5 46.4ZM336.8 45.9 337.1 45.4 336.8 45.4ZM337.2 45 337.2 45.4 337.4 45 337.2 45ZM337.5 44.5 337.5 44.8 337.7 44.5 337.5 44.5ZM337.8 44.1 337.8 44.1ZM338.2 43.6 338.5 43.2 338.2 43.2ZM338.5 42.7 338.5 43.1 338.8 42.7 338.5 42.7ZM338.9 42.3 338.9 42.6 339.1 42.3 338.9 42.3ZM339.2 41.8 339.2 42.1 339.4 41.8 339.2 41.8ZM339.6 41.4 339.6 41.4ZM339.9 40.9 340.6 40 340.3 40 339.9 40.5ZM340.6 39.6 340.6 40 340.9 39.6 340.6 39.6ZM341 39.1 341 39.5 341.2 39.1 341 39.1ZM341.3 38.7 341.3 38.9 341.5 38.7 341.3 38.7ZM341.7 38.2 341.7 38.4 341.8 38.2 341.7 38.2ZM342 37.8 342 37.8ZM342.3 37.3 342.3 37.3ZM342.7 36.9 343.4 36 343 36 342.7 36.4ZM343.4 35.5 343.4 35.9 343.7 35.5 343.4 35.5ZM343.7 35.1 343.7 35.5 344 35.1 343.7 35.1ZM344.1 34.6 344.1 35 344.3 34.6 344.1 34.6ZM344.4 34.2 344.4 34.5 344.6 34.2 344.4 34.2ZM344.8 33.7 344.8 34 345 33.7 344.8 33.7ZM345.1 33.3 345.1 33.5 345.3 33.3 345.1 33.3ZM345.5 32.8 345.5 33.1 345.6 32.8 345.5 32.8ZM345.8 32.4 345.8 32.6 346 32.4 345.8 32.4ZM346.1 31.9 346.1 32.1 346.3 31.9 346.1 31.9ZM346.5 31.5 346.5 31.6 346.6 31.5 346.5 31.5ZM346.8 31 346.8 31.2 347 31 346.8 31ZM347.2 30.6 347.2 30.7 347.3 30.6 347.2 30.6ZM347.5 30.1 347.5 30.1ZM347.9 29.7 347.9 29.7ZM348.2 29.2 348.2 29.2ZM348.6 28.8 348.6 28.7ZM348.9 28.3 348.9 28.3ZM349.3 27.8 349.3 27.8ZM349.6 27.4 349.6 27.4ZM350 26.9 350 26.9ZM350.3 26.5 350.3 26.7 350.4 26.5 350.3 26.5ZM350.6 26 350.6 26.2 350.8 26 350.6 26ZM351 25.6 351 25.8 351.1 25.6 351 25.6ZM351.3 25.1 351.3 25.3 351.5 25.1 351.3 25.1ZM351.7 24.7 351.7 24.9 351.8 24.7 351.7 24.7ZM352 24.2 352 24.5 352.2 24.2 352 24.2ZM352.4 23.8 352.4 24 352.6 23.8 352.4 23.8ZM352.7 23.3 352.7 23.6 352.9 23.3 352.7 23.3ZM353.1 22.9 353.1 23.2 353.3 22.9 353.1 22.9ZM353.4 22.4 353.4 22.7 353.7 22.4 353.4 22.4ZM353.8 22 353.8 22.3 354 22 353.8 22ZM354.1 21.5 354.1 21.9 354.4 21.5 354.1 21.5ZM354.4 21.1 354.4 21.4 354.7 21.1 354.4 21.1ZM354.8 20.6 354.8 21 355.1 20.6 354.8 20.6ZM355.1 20.2 355.1 20.6 355.5 20.2 355.1 20.2ZM355.5 19.7 355.5 20.2 359.2 15.7 358.6 15.7 355.5 19.7ZM359.3 15.2 359.3 15.6 359.6 15.2 359.3 15.2ZM359.6 14.8 359.6 15.1 360 14.8 359.6 14.8ZM360 14.3 360 14.7 360.3 14.3 360 14.3ZM360.3 13.9 360.3 14.3 363.6 10.2 363.1 10.2 360.3 13.9ZM363.8 9.8 363.8 10.1 364 9.8 363.8 9.8ZM364.1 9.3 364.1 9.6 364.4 9.3 364.1 9.3ZM364.5 8.9 364.5 9.2 364.7 8.9 364.5 8.9ZM364.8 8.4 364.8 8.8 365.1 8.4 364.8 8.4ZM365.2 8 365.2 8.4 365.5 8 365.2 8ZM365.5 7.5 365.5 8 368.2 4.8 367.6 4.8 365.5 7.5ZM368.3 4.4 368.3 4.7 368.6 4.4 368.3 4.4ZM368.6 3.9 368.6 4.3 368.9 3.9 368.6 3.9ZM369 3.5 369 3.9 372.6 -0.6 372.1 -0.6 369 3.5ZM372.8 -1 372.8 -0.8 373 -1 372.8 -1ZM373.1 -1.5 373.1 -1.2 373.4 -1.5 373.1 -1.5Z" fill="#f09b7a"/>
<path d="M333.9 67.6 334.4 67.6 335.4 67.3 336.8 66.6 338.5 65.3 340.6 63.2 342.5 60.8 345.5 56.3 346.9 53.6 348 50.4 350.3 47.3 354.2 42.7 362.7 33.6 369.3 27.2 376.2 19.3 380.7 14.8 382.5 13.5 383.5 13.1 384.2 13 385.6 13.4 387.3 14.7 388.3 15.2 391.8 15.4 391.8 2.6 388.7 -1.5 380.2 -1.5 375.3 4.8 373.6 7.5 371.4 11.7 370.4 13.2 368.8 14.8 364.8 17.9 362.1 20.6 356.3 27.8 354.1 31 350.3 36.9 347.9 41.4 347.5 42.7 347.4 45 347.2 46.4 346.7 48.2 346.1 49.5 343.7 50.1 342.7 50.6 338.2 55.2 336.8 56.2 335.8 56.6 334.7 56.8 334 56.7 333 56.2 332.5 55.4 332.3 53.6 332.3 54 331.6 54.9 331.6 55.4 330.9 56.3 330.9 56.7 330.6 57.2 330.6 57.6 329.9 58.5 329.9 59 329.5 59.4 329.5 59.9 329.2 60.3 329.2 60.8 328.5 61.7 328.5 62.1 328.2 62.6 328.2 63.1 327.8 63.5 327.8 64 327.5 64.4 327.5 64.9 327.1 65.3 327.1 66.3 330.2 65.8 331.3 65.8 332 66 333.7 67.5Z" fill="#e7876b"/>
<path d="M335.8 65.8 336.5 65.7 337.2 65.4 338.6 64.4 340.5 62.6 342.3 60.3 344.9 56.3 346.1 54 346.5 52.2 346.4 51.8 345.8 51.5 344.8 51.7 343.7 52.2 340.5 55.8 336.3 61.2 335.5 62.6 335.1 64 335.2 65.3 335.8 65.7ZM350.5 44.5 350.6 44.8 351.3 44.6 354.4 41.8 362.6 33.3 369.1 26.9 376.6 18.2 379.7 15 382.1 12.9 383.5 12.1 384.9 11.9 385.9 12.1 388.3 13.3 391.8 13.3 391.8 2.6 388.7 -1.5 382.4 -1.5 381.4 0.4 379.5 2.6 378.7 3.9 376.7 8 375.4 10.2 372.8 13.9 370.7 16.1 368.3 18.4 362.1 23.3 357.2 28.8 355.4 31.9 353.2 36.4 351.2 41.4 350.5 44.1Z" fill="#df745c"/>
<path d="M337.8 63.5 338.5 63.3 339.6 62.6 341.7 60.2 344.5 55.8 345.1 54.3 345.1 53.4 344.8 53.3 343.7 54 341.3 56.7 338.2 61.2 337.5 62.6 337.5 63.2ZM353 41.4 353.4 41.5 353.8 41.4 355.5 40.1 357.9 37.8 362.4 33.1 366.9 28.8 369.1 26.5 376.6 17.5 381.8 12.4 383.5 11.3 385.2 10.8 386.3 10.8 388.3 11.2 391.8 11 391.8 2.6 388.7 -1.5 384 -1.5 383.3 0.8 382.1 3 374 13.9 370.2 17.9 365.2 22.6 362.4 24.8 357.9 29.5 356.4 32.4 354.3 36.9 353.4 39.1 353 40.9Z" fill="#d6604d"/>
<path d="M354.9 38.7 355.1 39 355.5 39 357.2 37.8 366.4 28.8 369 26.1 376.6 16.7 381.8 11.5 383.2 10.6 384.5 10 388.3 9.3 390.1 8.7 391.8 8.3 391.8 2.6 388.7 -1.5 385.3 -1.5 384.2 1.2 382.1 4.7 374.9 14.1 370.8 18.4 365.5 23.3 362.1 26.3 358.6 29.8 356.2 34.6 355.3 36.9 354.9 38.2Z" fill="#cc4b43"/>
<path d="M356.6 36.4 356.9 36.8 357.2 36.7 358.9 35.5 365.9 28.8 368.8 25.6 376.2 15.8 378.3 13.6 381.4 10.8 382.5 10 383.5 9.5 388.3 7.8 391.8 5.5 391.8 2.6 388.7 -1.5 386.4 -1.5 384.8 1.7 382.1 6.3 376.6 13.7 373.8 16.7 362.7 26.5 359.1 30.1 357.5 33.3 356.6 36Z" fill="#c1373a"/>
<path d="M358.4 34.6 358.9 34.6 360.7 33.3 365.8 28.3 368.5 25.1 369.7 23.3 370.4 21.9 370 21.7 369.7 21.8 367.6 23.3 363.2 26.9 359.6 30.5 359.3 31 358.5 32.8 358.3 33.7 358.3 34.5ZM382.9 8 383.5 8.2 384.8 8 386.6 7.4 388 6.7 389.2 5.7 391.5 3.5 391.8 3.1 391.8 2.6 388.7 -1.5 387.6 -1.5 387 -0.7 384.1 4.4 383 6.6 382.8 7.8Z" fill="#b72230"/>
<path d="M359.8 32.4 360 32.5 360.7 32.4 362.7 30.6 365.3 27.8 366.4 26 366.2 25.9 365.9 26 365.2 26.4 362.8 28.3 360.1 31 359.8 31.9ZM384.8 6.2 385.2 6.5 385.9 6.4 387 6.1 388 5.5 389.2 4.4 390.7 2.6 391 1.7 389.4 -0.6 388.7 -0.7 388 -0.4 387 0.9 385.7 3 384.9 4.8 384.7 5.7Z" fill="#b2182b"/>
<path d="M339.5 73 341.1 67.6 343.2 61.7 345.8 55.8 347 53.6 348.3 51.3 350.7 47.7 353.5 44.1 357.6 39.4 362.4 34.5 363.3 33.3 364.9 30.6 365.5 29.9 366.2 29.3 366.9 29 367.6 29 371.1 29.8 372.1 30.1 373.1 30.7 373.8 31.2 374.5 31.9 375.3 33.3 375.9 35.5 376.7 40 376.9 42.3 376.8 44.1 376.3 46.4 375.6 48.2 374.5 50 373.5 51.4 371.9 53.1 366.8 57.6M336 77 336.7 73.9 337.5 70.7 338.5 67.6 339.6 64.4 340.8 61.2 342.2 58.1 343.3 55.8 344.8 53.1 347.8 48.6 351.5 43.6 355.8 38.6 361 33 364.5 28.1 365.2 27.4 366.2 26.6 366.9 26.4 367.6 26.2 369.7 26.3 371.7 26.7 373.1 27.1 374.5 27.6 375.5 28.1 377.2 29.2 378.5 30.6 379.2 31.9 379.8 33.7 380.4 37.8 380.6 40.5 380.3 43.2 380.1 44.5 379.5 46.4 378.8 48.2 378.2 49.5 376.6 52.2 374.5 54.9 372.1 57.4M332.7 81.4 333.1 78.4 334 74.3 334.9 70.7 336 67.1 337.3 63.5 338.4 60.8 339.7 58.1 341.4 54.9 343.1 52.2 345.2 49.1 349.6 43.2 354.2 37.8 360 31.4 362.8 27.4 363.8 26.2 364.8 25.1 365.9 24.4 366.9 24 367.9 23.7 369.3 23.6 370.7 23.7 373.8 24.3 375.5 24.8 376.9 25.3 379.1 26.5 380.3 27.4 381.1 28.1 381.8 28.9 382.5 29.9 383 31 383.4 31.9 383.7 33.3 383.9 34.6 384.2 38.2 384 41.4 383.3 44.5 382.3 47.7 380.7 51.1 378.9 54 376.5 57.2M329.6 85.6 329.9 82 330.6 77.9 331.5 73.9 332.6 69.8 333.8 66.2 335 63.1 336.4 59.9 338.3 56.3 340.2 53.1 342.3 50 344.9 46.4 347.7 42.7 353 36.4 358.9 29.9 362.1 25.6 363.1 24.3 364.1 23.3 365.5 22.3 366.6 21.8 367.9 21.4 369.7 21.1 371.4 21.1 372.8 21.2 374.5 21.5 376.2 22 378 22.6 380.7 23.8 382.1 24.7 383.3 25.6 384.5 26.8 385.4 27.8 386 28.8 386.7 30.1 387.2 31.5 387.6 32.8 387.8 35.5 387.6 39.1 387.3 41.4 386.9 43.2 385.9 46.8 384.4 50.4 382.5 54 380.3 57.2M326.8 89.7 326.9 86.5 327.3 82.5 328 77.9 329 73.4 330.1 69.4 331.4 65.8 332.7 62.6 334.5 59 336.3 55.8 338.5 52.2 341 48.6 343.7 45 346.9 40.9 350.6 36.5 354.7 31.9 357.9 28.5 361.4 23.8 362.9 22 363.8 21.1 364.8 20.4 366.9 19.1 368.3 18.5 370 17.9 371.7 17.5 373.1 17.4 374.5 17.5 376.2 17.9 378.2 18.8 379.7 19.6 382 21.1 384.2 22.3 385.6 23.2 386.8 24.2 387.7 25.1 388.7 26.3M388.8 47.7 387.7 50.4 386.6 52.7 385.3 54.9 383.8 57.3M335.4 53.6 337.8 50 340.4 46.4 343.2 42.7 346.5 38.7 352.4 31.9 356.9 27.2 358.1 25.6 360.7 22 361.8 20.6 364.5 17.8 365.5 16.9 366.9 16 371.1 13.8 373.5 12.9 375.5 12.5 376.6 12.5 377.6 12.7 378.7 13.1 379.7 13.7 384.2 17.1 386.3 19 388.7 21.6M344.6 38.2 350.8 31 356 25.6 362 17.5 363.4 15.7 365.5 13.7 367.2 12.3 370 10.5 372.4 9.1 374.9 8 376.2 7.5 377.3 7.3 378.3 7.2 379.4 7.2 380.4 7.3 381.3 7.5 382.8 8.3 384.5 9.8 386.6 12.1 388.7 14.8" fill="none" stroke="#111" stroke-width="0.45" stroke-opacity="0.8"/>
<path d="M341.4 66.6 341.5 67.9 340.5 67.6ZM346.1 55.3 345.9 56.6 345.1 56.2ZM352.7 45.1 352.3 46.4 351.5 45.8ZM360.8 36.1 360.3 37.3 359.6 36.6ZM369.6 29.4 368.2 29.6 368.5 28.6ZM376.4 38.1 375.7 36.9 376.6 36.8ZM374.7 49.8 374.9 48.4 375.7 48.9ZM337.6 70.5 337.7 71.9 336.8 71.6ZM341.7 59.1 341.7 60.4 340.8 60ZM347.8 48.6 347.5 49.9 346.7 49.3ZM355.4 39.1 355 40.3 354.2 39.7ZM363.2 29.8 363 31.1 362.2 30.6ZM373.8 27.3 372.5 27.4 372.8 26.5ZM380.3 36.7 379.6 35.5 380.6 35.4ZM378.7 48.6 378.7 47.2 379.6 47.6ZM333.9 74.8 334.1 76.1 333.1 75.9ZM337.5 63.1 337.5 64.5 336.6 64.1ZM343 52.3 342.8 53.6 341.9 53.1ZM350.2 42.5 349.8 43.8 349 43.2ZM358.2 33.3 357.7 34.6 357 33.9ZM366.2 24.2 365.3 25.3 364.8 24.5ZM377.9 25.8 376.6 25.7 377 24.8ZM384.1 35.6 383.4 34.4 384.4 34.3ZM382.4 47.5 382.3 46.2 383.2 46.5ZM330.4 79 330.7 80.3 329.7 80.1ZM333.4 67.2 333.5 68.5 332.6 68.2ZM338.4 56.1 338.2 57.4 337.4 56.9ZM345.2 46 344.8 47.3 344.1 46.7ZM352.9 36.6 352.4 37.8 351.7 37.2ZM360.8 27.4 360.5 28.6 359.7 28.1ZM370.5 21.1 369.3 21.6 369.3 20.7ZM382 24.6 380.7 24.3 381.3 23.5ZM387.8 34.8 387.2 33.6 388.2 33.6ZM385.9 46.8 385.8 45.4 386.7 45.7ZM327.2 83 327.5 84.3 326.6 84.2ZM329.6 71.1 329.8 72.4 328.8 72.1ZM334.1 59.8 333.9 61.1 333.1 60.7ZM340.4 49.4 340.1 50.7 339.3 50.1ZM347.9 39.7 347.4 41 346.7 40.4ZM355.9 30.6 355.4 31.8 354.7 31.2ZM363.7 21.2 363.1 22.4 362.4 21.7ZM374.9 17.5 373.6 17.9 373.8 16.9ZM385.6 23.3 384.3 22.9 384.9 22.2ZM386 53.8 386.1 52.5 387 52.9ZM346.7 38.5 346.2 39.7 345.5 39.1ZM354.7 29.4 354.2 30.6 353.5 29.9ZM362.4 19.9 361.9 21.2 361.2 20.5ZM372.4 13.3 371.5 14.2 371.1 13.3ZM383.3 16.5 382 16.2 382.6 15.4ZM357.2 24.2 356.8 25.4 356 24.9ZM364.6 14.6 364 15.8 363.4 15.1ZM374.8 8 373.8 8.9 373.5 8ZM385.6 10.9 384.4 10.4 385.1 9.7Z" fill="#111"/>
</g>
<g stroke="#444" fill="none">
<path d="M314.9 2.2 V94.4 H407.3" stroke-width="0.5"/>
<path d="M314.9 94.4h2.4M314.9 90.7h1.1M314.9 87h1.1M314.9 83.3h1.1M314.9 79.6h1.1M314.9 76h2.4M314.9 72.3h1.1M314.9 68.6h1.1M314.9 64.9h1.1M314.9 61.2h1.1M314.9 57.5h2.4M314.9 53.8h1.1M314.9 50.1h1.1M314.9 46.5h1.1M314.9 42.8h1.1M314.9 39.1h2.4M314.9 35.4h1.1M314.9 31.7h1.1M314.9 28h1.1M314.9 24.3h1.1M314.9 20.6h2.4M314.9 17h1.1M314.9 13.3h1.1M314.9 9.6h1.1M314.9 5.9h1.1M314.9 2.2h2.4M314.9 94.4v-2.4M318.6 94.4v-1.1M322.3 94.4v-1.1M326 94.4v-1.1M329.7 94.4v-1.1M333.4 94.4v-2.4M337.1 94.4v-1.1M340.8 94.4v-1.1M344.5 94.4v-1.1M348.2 94.4v-1.1M351.8 94.4v-2.4M355.5 94.4v-1.1M359.2 94.4v-1.1M362.9 94.4v-1.1M366.6 94.4v-1.1M370.3 94.4v-2.4M374 94.4v-1.1M377.7 94.4v-1.1M381.4 94.4v-1.1M385.1 94.4v-1.1M388.8 94.4v-2.4M392.5 94.4v-1.1M396.2 94.4v-1.1M399.9 94.4v-1.1M403.6 94.4v-1.1M407.3 94.4v-2.4" stroke-width="0.45"/>
</g>
<g font-family="Liberation Sans, sans-serif" font-size="3" font-weight="bold" fill="#222">
<text x="313.7" y="3.3" text-anchor="end">2.5</text>
<text x="313.7" y="21.7" text-anchor="end">2</text>
<text x="313.7" y="40.1" text-anchor="end">1.5</text>
<text x="313.7" y="58.6" text-anchor="end">1</text>
<text x="313.7" y="77" text-anchor="end">0.5</text>
<text x="313.7" y="95.5" text-anchor="end">0</text>
<text x="314.9" y="97.5" text-anchor="middle">-1.5</text>
<text x="333.4" y="97.5" text-anchor="middle">-1</text>
<text x="351.8" y="97.5" text-anchor="middle">-0.5</text>
<text x="370.3" y="97.5" text-anchor="middle">0</text>
<text x="388.8" y="97.5" text-anchor="middle">0.5</text>
<text x="407.3" y="97.5" text-anchor="middle">1</text>
</g>
<g font-family="Liberation Sans, sans-serif" font-size="4" font-weight="bold" fill="#000">
<text x="361.1" y="102" text-anchor="middle">x</text>
<text x="306.3" y="49.3" text-anchor="middle">y</text>
</g>
<rect x="392.9" y="13.8" width="14.4" height="36" fill="#fff" stroke="#999" stroke-width="0.5"/>
<rect x="394.5" y="20.20" width="4" height="1.98" fill="#bc2b34"/>
<rect x="394.5" y="22.03" width="4" height="1.98" fill="#cf5246"/>
<rect x="394.5" y="23.85" width="4" height="1.98" fill="#e0775f"/>
<rect x="394.5" y="25.68" width="4" height="1.98" fill="#f09c7b"/>
<rect x="394.5" y="27.51" width="4" height="1.98" fill="#f8bb9e"/>
<rect x="394.5" y="29.33" width="4" height="1.98" fill="#fcd7c2"/>
<rect x="394.5" y="31.16" width="4" height="1.98" fill="#fae8dd"/>
<rect x="394.5" y="32.99" width="4" height="1.98" fill="#f7f7f7"/>
<rect x="394.5" y="34.81" width="4" height="1.98" fill="#e3edf3"/>
<rect x="394.5" y="36.64" width="4" height="1.98" fill="#cde3ef"/>
<rect x="394.5" y="38.47" width="4" height="1.98" fill="#abd2e5"/>
<rect x="394.5" y="40.29" width="4" height="1.98" fill="#87beda"/>
<rect x="394.5" y="42.12" width="4" height="1.98" fill="#5da4cc"/>
<rect x="394.5" y="43.95" width="4" height="1.98" fill="#3c8abe"/>
<rect x="394.5" y="45.77" width="4" height="1.98" fill="#2a72b2"/>
<g font-family="Liberation Sans, sans-serif" font-size="2.4" font-weight="bold" fill="#222">
<text x="399.9" y="22.5">0.3</text>
<text x="399.9" y="26.1">0.26</text>
<text x="399.9" y="29.7">0.22</text>
<text x="399.9" y="33.3">0.18</text>
<text x="399.9" y="37">0.14</text>
<text x="399.9" y="40.6">0.1</text>
<text x="399.9" y="44.2">0.06</text>
<text x="399.9" y="47.9">0.02</text>
</g>
<text x="406.5" y="17.7" font-family="Liberation Sans, sans-serif" font-size="2.8" font-weight="bold" fill="#111" text-anchor="end">B<tspan font-size="2" dy="0.6">i</tspan><tspan dy="-0.6">/B</tspan><tspan font-size="2" dy="0.6">0</tspan></text>
<text x="361.3" y="116" font-family="Liberation Serif, serif" font-size="6.35" fill="#222" text-anchor="middle">(c) <tspan font-style="italic">Ma</tspan><tspan font-size="4.6" dy="1.1">∞</tspan><tspan dy="-1.1"> = 30, induced magnetic field.</tspan></text>
<g mask="url(#cpd)">
<rect x="50.6" y="134.7" width="80" height="97" fill="#2970b1"/>
<path d="M53.8 231.2 54.2 231.6 66.9 231.6 69.3 228.5 69.3 224 69.7 223.5 69.7 222.2 70 221.8 70 220.4 70.4 220 70.4 219.1 70.7 218.6 70.7 217.7 71.1 217.3 71.1 216.8 71.4 216.4 71.4 215.9 71.7 215.5 71.7 215 72.1 214.6 72.1 214.1 72.8 213.2 72.8 212.8 73.1 212.3 73.1 211.9 74.2 210.5 74.2 210.1 76.8 206.7 77.1 206.7 77.8 205.8 78.2 205.8 78.8 204.9 79.2 204.9 79.9 204 80.2 204 80.9 203.1 81.3 203.1 81.6 202.6 82 202.6 82.3 202.2 82.7 202.2 83 201.7 83.3 201.7 83.7 201.3 84 201.3 84.4 200.8 85.1 200.8 85.4 200.4 85.8 200.4 86.1 199.9 86.8 199.9 87.1 199.5 87.5 199.5 87.8 199 88.5 199 88.9 198.6 89.9 198.6 90.3 198.1 91 198.1 91.3 197.7 92.7 197.7 93 197.2 94.1 197.2 94.4 196.8 96.5 196.8 96.8 196.3 99.9 196.3 100.3 195.9 121.4 195.9 124.6 191.6 124.5 137.3 121.4 133.2 96.2 133.2 95.4 133.4 93.7 133.9 92.3 134.6 81.6 148.5 81.6 149 73.3 159.7 73.3 160.2 70.2 164.2 70.2 164.7 68.4 166.9 68.4 167.4 66.7 169.6 66.7 170.1 65.3 171.9 65.3 172.3 64.3 173.7 64.3 174.1 63.6 175 63.6 175.5 62.5 176.8 62.5 177.3 61.8 178.2 61.8 178.6 61.2 179.5 61.2 180 60.8 180.4 60.8 180.9 60.1 181.8 60.1 182.2 59.8 182.7 59.8 183.1 59.1 184 59.1 184.5 58.7 184.9 58.7 185.4 58.4 185.8 58.4 186.3 58 186.7 58 187.2 57.7 187.6 57.7 188 57.3 188.5 57.3 188.9 57 189.4 57 189.8 56.6 190.3 56.6 190.7 56.3 191.2 56.3 192.1 56 192.5 56 193 55.6 193.4 55.6 194.3 55.3 194.8 55.3 195.2 54.9 195.7 54.9 196.6 54.6 197 54.6 197.9 54.2 198.4 54.2 199.7 53.9 200.2 53.9 201.1 53.5 201.5 53.5 202.9 53.2 203.3 53.2 205.1 52.8 205.6 52.8 207.4 52.5 207.8 52.5 210.5 52.1 211 52.1 215.5 51.8 215.9 51.8 228.5 53.6 230.9Z" fill="#3884bb"/>
<path d="M53.8 231.2 54.2 231.6 66.9 231.6 69.3 228.5 69.3 224 69.7 223.5 69.7 222.2 70 221.8 70 220.4 70.4 220 70.4 219.1 70.7 218.6 70.7 217.7 71 217.3 71 216.8 71.4 216.4 71.4 215.9 71.7 215.5 71.7 215 72.1 214.6 72.1 214.1 72.8 213.2 72.8 212.8 73.1 212.3 73.1 211.9 74.2 210.5 74.2 210.1 76.8 206.7 77.1 206.7 77.8 205.8 78.2 205.8 78.8 204.9 79.2 204.9 79.9 204 80.2 204 80.9 203.1 81.3 203.1 81.6 202.6 82 202.6 82.3 202.2 82.7 202.2 83 201.7 83.3 201.7 83.7 201.3 84 201.3 84.4 200.8 85.1 200.8 85.4 200.4 85.8 200.4 86.1 199.9 86.8 199.9 87.1 199.5 87.5 199.5 87.8 199 88.5 199 88.9 198.6 89.9 198.6 90.3 198.1 91 198.1 91.3 197.7 92.7 197.7 93 197.2 94.1 197.2 94.4 196.8 96.5 196.8 96.8 196.3 99.9 196.3 100.3 195.9 121.4 195.9 124.6 191.6 124.5 143 117.9 140.4 116.2 139.9 114.8 140 113.8 140.4 112.7 140.6 108.9 140.7 106.9 140.9 103.5 141.8 98.6 143.9 97.6 144.5 93 148.2 90.7 149.4 89.6 149.6 87.1 149.6 81.6 149.1 81.3 149.4 73.3 159.7 73.3 160.2 70.2 164.2 70.2 164.7 68.4 166.9 68.4 167.4 66.7 169.6 66.7 170.1 65.3 171.9 65.3 172.3 64.3 173.7 64.3 174.1 63.6 175 63.6 175.5 62.6 176.8 62.6 177.3 61.9 178.2 61.9 178.6 61.2 179.5 61.2 180 60.8 180.4 60.8 180.9 60.1 181.8 60.1 182.2 59.8 182.7 59.8 183.1 59.1 184 59.1 184.5 58.7 184.9 58.7 185.4 58.4 185.8 58.4 186.3 58 186.7 58 187.2 57.7 187.6 57.7 188 57.4 188.5 57.4 188.9 57 189.4 57 189.8 56.7 190.3 56.7 190.7 56.3 191.2 56.3 192.1 56 192.5 56 193 55.6 193.4 55.6 194.3 55.3 194.8 55.3 195.2 54.9 195.7 54.9 196.6 54.6 197 54.6 197.9 54.2 198.4 54.2 199.7 53.9 200.2 53.9 201.1 53.5 201.5 53.5 202.9 53.2 203.3 53.2 205.1 52.8 205.6 52.8 207.4 52.5 207.8 52.5 210.5 52.1 211 52.1 215.5 51.8 215.9 51.8 228.5 53.6 230.9Z" fill="#4c99c6"/>
<path d="M53.9 231.2 54.2 231.6 66.9 231.6 69.3 228.5 69.3 224 69.7 223.5 69.7 222.2 70 221.8 70 220.4 70.3 220 70.3 219.1 70.7 218.6 70.7 217.7 71 217.3 71 216.8 71.4 216.4 71.4 215.9 71.7 215.5 71.7 215 72.1 214.6 72.1 214.1 72.8 213.2 72.8 212.8 73.1 212.3 73.1 211.9 74.1 210.5 74.1 210.1 76.8 206.7 77.1 206.7 77.8 205.8 78.2 205.8 78.8 204.9 79.2 204.9 79.9 204 80.2 204 80.9 203.1 81.3 203.1 81.6 202.6 82 202.6 82.3 202.2 82.7 202.2 83 201.7 83.3 201.7 83.7 201.3 84 201.3 84.4 200.8 85.1 200.8 85.4 200.4 85.8 200.4 86.1 199.9 86.8 199.9 87.1 199.5 87.5 199.5 87.8 199 88.5 199 88.9 198.6 89.9 198.6 90.3 198.1 91 198.1 91.3 197.7 92.7 197.7 93 197.2 94.1 197.2 94.4 196.8 96.5 196.8 96.8 196.3 99.9 196.3 100.3 195.9 121.4 195.9 124.6 191.6 124.5 151.7 122.8 151.2 121.4 151.7 120.4 151.7 114.8 149.6 111 148.7 104.1 148.8 100.3 149.5 99.3 149.9 97.1 151.2 95.8 153.4 95.1 154.3 94.1 154.8 91.6 155.2 89.9 155.8 88.9 156 87.5 155.9 85.8 156 84.7 155.7 83 155.8 82 155.5 81.6 155.5 77.8 157 77.1 157.2 76.4 156.9 76.1 157 75 157.5 73.3 159.7 73.3 160.2 70.2 164.2 70.2 164.7 68.5 166.9 68.5 167.4 66.7 169.6 66.7 170.1 65.3 171.9 65.3 172.3 64.3 173.7 64.3 174.1 63.6 175 63.6 175.5 62.6 176.8 62.6 177.3 61.9 178.2 61.9 178.6 61.2 179.5 61.2 180 60.8 180.4 60.8 180.9 60.1 181.8 60.1 182.2 59.8 182.7 59.8 183.1 59.1 184 59.1 184.5 58.8 184.9 58.8 185.4 58.4 185.8 58.4 186.3 58.1 186.7 58.1 187.2 57.7 187.6 57.7 188 57.4 188.5 57.4 188.9 57 189.4 57 189.8 56.7 190.3 56.7 190.7 56.3 191.2 56.3 192.1 56 192.5 56 193 55.6 193.4 55.6 194.3 55.3 194.8 55.3 195.2 54.9 195.7 54.9 196.6 54.6 197 54.6 197.9 54.2 198.4 54.2 199.7 53.9 200.2 53.9 201.1 53.5 201.5 53.5 202.9 53.2 203.3 53.2 205.1 52.9 205.6 52.8 207.4 52.5 207.8 52.5 210.5 52.2 211 52.1 215.5 51.8 215.9 51.8 228.5 53.6 230.8Z" fill="#6fafd2"/>
<path d="M53.9 231.2 54.2 231.6 66.9 231.6 69.3 228.5 69.3 224 69.6 223.5 69.6 222.2 70 221.8 70 220.4 70.3 220 70.3 219.1 70.7 218.6 70.7 217.7 71 217.3 71 216.8 71.4 216.4 71.4 215.9 71.7 215.5 71.7 215 72.1 214.6 72.1 214.1 72.8 213.2 72.8 212.8 73.1 212.3 73.1 211.9 74.1 210.5 74.1 210.1 76.8 206.6 77.1 206.6 77.8 205.7 78.2 205.7 78.8 204.8 79.2 204.8 79.9 204 80.2 204 80.9 203.1 81.3 203.1 81.6 202.6 82 202.6 82.3 202.2 82.7 202.2 83 201.7 83.3 201.7 83.7 201.3 84 201.3 84.4 200.8 85.1 200.8 85.4 200.4 85.8 200.4 86.1 199.9 86.8 199.9 87.1 199.5 87.5 199.5 87.8 199 88.5 199 88.9 198.6 89.9 198.6 90.3 198.1 91 198.1 91.3 197.7 92.7 197.7 93 197.2 94.1 197.2 94.4 196.8 96.5 196.8 96.8 196.3 99.9 196.3 100.3 195.9 121.4 195.9 124.6 191.6 124.5 160.9 121.7 159.7 119.7 159 119 158.9 117.6 159.1 116.9 159.1 111 157.8 109.6 157.7 108.6 158.1 107.6 158.2 103.1 157.8 99.6 157.7 99.1 157.9 98.3 158.8 95.1 160.7 93.7 161.4 91.6 161.8 90.3 161.6 88.5 161.7 87.1 161.3 83.3 162.5 82 162.5 80.9 162.9 77.5 164.7 76.1 164.8 75.4 165.1 72.3 166.8 71.9 166.9 70.9 166.9 67.1 169.2 66.7 169.6 66.7 170.1 65.4 171.9 65.4 172.3 64.3 173.7 64.3 174.1 63.6 175 63.6 175.5 62.6 176.8 62.6 177.3 61.9 178.2 61.9 178.6 61.2 179.5 61.2 180 60.8 180.4 60.8 180.9 60.2 181.8 60.2 182.2 59.8 182.7 59.8 183.1 59.1 184 59.1 184.5 58.8 184.9 58.8 185.4 58.4 185.8 58.4 186.3 58.1 186.7 58.1 187.2 57.7 187.6 57.7 188 57.4 188.5 57.4 188.9 57 189.4 57 189.8 56.7 190.3 56.7 190.7 56.3 191.2 56.3 192.1 56 192.5 56 193 55.6 193.4 55.6 194.3 55.3 194.8 55.3 195.2 55 195.7 54.9 196.6 54.6 197 54.6 197.9 54.3 198.4 54.3 199.7 53.9 200.2 53.9 201.1 53.6 201.5 53.6 202.9 53.2 203.3 53.2 205.1 52.9 205.6 52.9 207.4 52.5 207.8 52.5 210.5 52.2 211 52.2 215.5 51.8 215.9 51.8 228.5 53.6 230.8Z" fill="#92c5de"/>
<path d="M53.9 231.2 54.2 231.6 66.9 231.6 69.3 228.5 69.3 224 69.6 223.5 69.6 222.2 70 221.8 70 220.4 70.3 220 70.3 219.1 70.7 218.6 70.7 217.7 71 217.3 71 216.8 71.4 216.4 71.4 215.9 71.7 215.5 71.7 215 72.1 214.6 72.1 214.1 72.7 213.2 72.7 212.8 73.1 212.3 73.1 211.9 74.1 210.5 74.1 210.1 76.8 206.6 77.1 206.6 77.8 205.7 78.2 205.7 78.8 204.8 79.2 204.8 79.9 203.9 80.2 203.9 80.9 203 81.3 203 81.6 202.6 82 202.6 82.3 202.1 82.7 202.1 83 201.7 83.3 201.7 83.7 201.2 84 201.2 84.4 200.8 85.1 200.8 85.4 200.3 85.8 200.3 86.1 199.9 86.8 199.9 87.1 199.4 87.5 199.4 87.8 199 88.5 199 88.9 198.5 89.9 198.5 90.3 198.1 91 198.1 91.3 197.6 92.7 197.6 93 197.2 94.1 197.2 94.4 196.7 96.5 196.7 96.8 196.3 99.9 196.3 100.3 195.9 121.4 195.8 124.6 191.6 124.5 166.3 122.4 165.3 120 165.4 116.9 164.2 115.5 163.9 113.4 164.2 108.9 163.4 106.5 163.9 102.7 163.7 100.3 163.8 94.8 165.9 88.9 166.9 85.8 168 83.9 168.3 81.6 169.2 79.9 169.5 77.5 170.6 75.7 171 72.6 172.8 70.9 173.3 67.4 175.9 65.7 176.8 64.7 177.6 59.8 182.7 59.8 183.1 59.1 184 59.1 184.5 58.8 184.9 58.8 185.4 58.4 185.8 58.4 186.3 58.1 186.7 58.1 187.2 57.7 187.6 57.7 188 57.4 188.5 57.4 188.9 57 189.4 57 189.8 56.7 190.3 56.7 190.7 56.4 191.2 56.4 192.1 56 192.5 56 193 55.7 193.4 55.7 194.3 55.3 194.8 55.3 195.2 55 195.7 55 196.6 54.6 197 54.6 197.9 54.3 198.4 54.3 199.7 53.9 200.2 53.9 201.1 53.6 201.5 53.6 202.9 53.2 203.3 53.2 205.1 52.9 205.6 52.9 207.4 52.5 207.8 52.5 210.5 52.2 211 52.2 215.5 51.8 215.9 51.8 228.5 53.6 230.8Z" fill="#aed3e6"/>
<path d="M53.9 231.2 54.2 231.6 66.9 231.6 69.3 228.5 69.3 224 69.6 223.5 69.6 222.2 70 221.8 70 220.4 70.3 220 70.3 219.1 70.7 218.6 70.7 217.7 71 217.3 71 216.8 71.4 216.4 71.4 215.9 71.7 215.5 71.7 215 72 214.6 72 214.1 72.7 213.2 72.7 212.8 73.1 212.3 73.1 211.9 74.1 210.5 74.1 210.1 76.8 206.6 77.1 206.6 77.8 205.7 78.2 205.7 78.8 204.8 79.2 204.8 79.9 203.9 80.2 203.9 80.9 203 81.3 203 81.6 202.6 82 202.6 82.3 202.1 82.7 202.1 83 201.7 83.3 201.7 83.7 201.2 84 201.2 84.4 200.8 85.1 200.8 85.4 200.3 85.8 200.3 86.1 199.9 86.8 199.9 87.1 199.4 87.5 199.4 87.8 199 88.5 199 88.9 198.5 89.9 198.5 90.3 198.1 91 198.1 91.3 197.6 92.7 197.6 93 197.2 94.1 197.2 94.4 196.7 96.5 196.7 96.8 196.3 99.9 196.3 100.3 195.8 121.4 195.8 124.6 191.6 124.5 170.9 123.5 170.9 121 169.5 119.3 169.6 116.2 168.5 114.1 168.7 111 168 108.9 168.3 105.5 167.9 104.1 168.4 102 168.5 98.9 169.1 96.1 170.2 94.8 170.5 92.3 171.6 82.3 173.4 79.9 174.3 78.5 174.7 73.3 177.4 67.1 182 61.6 186.8 59.5 189 55.7 193.4 55.7 194.3 55.3 194.8 55.3 195.2 55 195.7 55 196.6 54.6 197 54.6 197.9 54.3 198.4 54.3 199.7 53.9 200.2 53.9 201.1 53.6 201.5 53.6 202.9 53.2 203.3 53.2 205.1 52.9 205.6 52.9 207.4 52.5 207.8 52.5 210.5 52.2 211 52.2 215.5 51.8 215.9 51.8 228.5 53.6 230.8Z" fill="#cae1ee"/>
<path d="M53.9 231.2 54.3 231.6 66.8 231.6 69.3 228.5 69.3 224 69.6 223.5 69.6 222.2 70 221.8 70 220.4 70.3 220 70.3 219.1 70.7 218.6 70.7 217.7 71 217.3 71 216.8 71.3 216.4 71.3 215.9 71.7 215.5 71.7 215 72 214.6 72 214.1 72.7 213.2 72.7 212.8 73.1 212.3 73.1 211.9 74.1 210.5 74.1 210.1 76.8 206.6 77.1 206.6 77.8 205.7 78.2 205.7 78.8 204.8 79.2 204.8 79.9 203.9 80.2 203.9 80.9 203 81.3 203 81.6 202.6 82 202.6 82.3 202.1 82.7 202.1 83 201.7 83.3 201.7 83.7 201.2 84 201.2 84.4 200.8 85.1 200.8 85.4 200.3 85.8 200.3 86.1 199.9 86.8 199.9 87.1 199.4 87.5 199.4 87.8 199 88.5 199 88.9 198.5 89.9 198.5 90.3 198.1 91 198.1 91.3 197.6 92.7 197.6 93 197.2 94.1 197.2 94.4 196.7 96.5 196.7 96.8 196.3 99.9 196.3 100.3 195.8 121.4 195.8 124.6 191.6 124.5 175.3 123.5 175.2 121.7 173.9 120 173.9 118.3 172.7 117.6 172.6 116.2 172.7 114.5 171.9 113.8 171.7 112.1 172 109.3 171.3 107.6 171.7 105.8 171.8 104.4 172.2 97.2 172.6 96.5 172.8 94.1 174.7 85.1 176.6 81.6 177.6 78.2 179 73 182.2 67.8 186 62.6 190.7 60.5 193 56 198.7 54.6 200.9 53.3 203.6 53.2 205.1 52.9 205.6 52.9 207.4 52.6 207.8 52.5 210.5 52.2 211 52.2 215.5 51.8 215.9 51.8 228.5 53.6 230.8Z" fill="#deebf2"/>
<path d="M53.9 231.2 54.3 231.6 66.8 231.6 69.3 228.5 69.3 224 69.6 223.5 69.6 222.2 70 221.8 70 220.4 70.3 220 70.3 219.1 70.6 218.6 70.6 217.7 71 217.3 71 216.8 71.3 216.4 71.3 215.9 71.7 215.5 71.7 215 72 214.6 72 214.1 72.7 213.2 72.7 212.8 73.1 212.3 73.1 211.9 74.1 210.5 74.1 210.1 76.8 206.6 77.1 206.6 77.8 205.7 78.2 205.7 78.8 204.8 79.2 204.8 79.9 203.9 80.2 203.9 80.9 203 81.3 203 81.6 202.6 82 202.6 82.3 202.1 82.7 202.1 83 201.7 83.3 201.7 83.7 201.2 84 201.2 84.4 200.8 85.1 200.8 85.4 200.3 85.8 200.3 86.1 199.9 86.8 199.9 87.1 199.4 87.5 199.4 87.8 199 88.5 199 88.9 198.5 89.9 198.5 90.3 198.1 91 198.1 91.3 197.6 92.7 197.6 93 197.2 94.1 197.2 94.4 196.7 96.5 196.7 96.8 196.3 99.9 196.3 100.3 195.8 121.4 195.8 124.6 191.6 124.5 178.7 122.8 178.4 121 177.3 119.3 177.1 117.9 176.2 115.9 176.1 114.1 175.3 112.1 175.3 110.3 174.7 108.6 175 106.9 174.9 105.1 175.3 101 175.4 95.1 175.9 95.3 176.4 95.1 177.4 91.6 178 91.3 178.8 91 178.6 87.8 179.2 81.6 181.1 77.5 183 73.7 185.4 70.2 187.9 68.1 189.6 64 193.4 59.1 199.4 57.1 202.7 52.2 211.9 52.2 215.5 51.9 215.9 51.9 228.5 53.6 230.8ZM92.2 177.3 92.3 177.6 92.5 177.3 92.3 177.1Z" fill="#eff3f5"/>
<path d="M53.9 231.2 54.3 231.6 66.8 231.6 69.3 228.5 69.3 224 69.6 223.5 69.6 222.2 69.9 221.8 69.9 220.4 70.3 220 70.3 219.1 70.6 218.6 70.6 217.7 71 217.3 71 216.8 71.3 216.4 71.3 215.9 71.7 215.5 71.7 215 72 214.6 72 214.1 72.7 213.2 72.7 212.8 73.1 212.3 73.1 211.9 74.1 210.5 74.1 210.1 76.8 206.6 77.1 206.6 77.8 205.7 78.2 205.7 78.8 204.8 79.2 204.8 79.9 203.9 80.2 203.9 80.9 203 81.3 203 81.6 202.5 82 202.5 82.3 202.1 82.7 202.1 83 201.6 83.3 201.6 83.7 201.2 84 201.2 84.4 200.7 85.1 200.7 85.4 200.3 85.8 200.3 86.1 199.8 86.8 199.8 87.1 199.4 87.5 199.4 87.8 198.9 88.5 198.9 88.9 198.5 89.9 198.5 90.3 198 91 198 91.3 197.6 92.7 197.6 93 197.2 94.1 197.2 94.4 196.7 96.5 196.7 96.8 196.3 99.9 196.3 100.3 195.8 121.4 195.8 124.6 191.6 124.5 182.1 123.5 181.3 121.7 180.9 120.4 180 118.6 179.7 117.2 178.9 115.5 178.8 113.8 178.1 112.1 178.1 110 177.6 108.2 177.7 106.9 177.6 105.1 178 101.3 178 98.6 178.2 95.4 178.7 95.1 179.8 90.3 180.9 89.9 181.5 89.2 181.5 87.1 182.1 82.7 183.6 78.8 185.3 74.7 187.8 70.9 190.6 67.1 193.9 65.4 195.7 62.2 199.4 60.5 201.9 58.1 206 53.3 215.3 52.6 217.4 52.1 220.9 51.9 224 51.9 228.5 53.6 230.8Z" fill="#f8f1ec"/>
<path d="M54.3 231.6 66.8 231.6 69.2 228.5 69.2 224 69.6 223.5 69.6 222.2 69.9 221.8 69.9 220.4 70.3 220 70.3 219.1 70.6 218.6 70.6 217.7 71 217.3 71 216.8 71.3 216.4 71.3 215.9 71.7 215.5 71.7 215 72 214.6 72 214.1 72.7 213.2 72.7 212.8 73 212.3 73 211.9 74.1 210.5 74.1 210.1 76.8 206.6 77.1 206.6 77.8 205.7 78.2 205.7 78.8 204.8 79.2 204.8 79.9 203.9 80.2 203.9 80.9 203 81.3 203 81.6 202.5 82 202.5 82.3 202.1 82.7 202.1 83 201.6 83.3 201.6 83.7 201.2 84 201.2 84.4 200.7 85.1 200.7 85.4 200.3 85.8 200.3 86.1 199.8 86.8 199.8 87.1 199.4 87.5 199.4 87.8 198.9 88.5 198.9 88.9 198.5 89.9 198.5 90.3 198 91 198 91.3 197.6 92.7 197.6 93 197.1 94.1 197.1 94.4 196.7 96.5 196.7 96.8 196.2 99.9 196.2 100.3 195.8 121.4 195.8 124.5 191.6 124.5 184.6 123.8 184.4 122.7 183.6 121 183.1 119.7 182.3 117.9 182 116.2 181.1 114.5 181 113.1 180.4 111.4 180.4 109.6 179.9 107.9 180.1 106.5 179.8 104.1 180.3 98.6 180.5 95.4 180.9 95.1 182 89.2 183.3 88.5 184.1 88.2 184 85.8 184.8 81.3 186.7 77.8 188.5 75.4 190 73 191.8 69.9 194.3 65 199.4 61 205.1 56.6 213.2 55.4 216.4 54.7 220 54.4 223.1 54.2 231.2Z" fill="#fbe4d7"/>
<path d="M56.3 231.6 66.8 231.6 69.2 228.5 69.2 224 69.6 223.5 69.6 222.2 69.9 221.8 69.9 220.4 70.3 220 70.3 219.1 70.6 218.6 70.6 217.7 71 217.3 71 216.8 71.3 216.4 71.3 215.9 71.7 215.5 71.7 215 72 214.6 72 214.1 72.7 213.2 72.7 212.8 73 212.3 73 211.9 74.1 210.5 74.1 210.1 76.8 206.6 77.1 206.6 77.8 205.7 78.2 205.7 78.8 204.8 79.2 204.8 79.9 203.9 80.2 203.9 80.9 203 81.3 203 81.6 202.5 82 202.5 82.3 202.1 82.7 202.1 83 201.6 83.3 201.6 83.7 201.2 84 201.2 84.4 200.7 85.1 200.7 85.4 200.3 85.8 200.3 86.1 199.8 86.8 199.8 87.1 199.4 87.5 199.4 87.8 198.9 88.5 198.9 88.9 198.5 89.9 198.5 90.3 198 91 198 91.3 197.6 92.7 197.6 93 197.1 94.1 197.1 94.4 196.7 96.5 196.7 96.8 196.2 99.9 196.2 100.3 195.8 121.4 195.8 124.5 191.6 124.5 186.7 123.1 186.3 121.7 185.4 120 184.9 118.6 184.1 117.2 183.9 115.5 183.1 113.8 182.9 112.4 182.4 110.3 182.3 108.9 182 107.2 182.1 105.5 181.8 103.1 182.2 95.8 182.9 95.3 183.6 94.4 184.1 94.1 184 93.7 184.5 93.4 184.2 88.5 185.5 88.1 185.8 87.8 186.3 87.5 186.2 87.1 186.3 82.7 188.1 79.9 189.5 76.8 191.4 72.3 194.8 69.5 197.3 67.7 199.3 64 204.1 59.7 211.4 58.7 213.7 57.5 216.8 56.5 220.9 56.2 224.9 56.3 231.2Z" fill="#fcd5bf"/>
<path d="M57.9 231.6 66.8 231.6 69.2 228.5 69.2 224 69.6 223.5 69.6 222.2 69.9 221.8 69.9 220.4 70.3 220 70.3 219.1 70.6 218.6 70.6 217.7 71 217.3 71 216.8 71.3 216.4 71.3 215.9 71.6 215.5 71.6 215 72 214.6 72 214.1 72.7 213.2 72.7 212.8 73 212.3 73 211.9 74.1 210.5 74.1 210.1 76.8 206.6 77.1 206.6 77.8 205.7 78.2 205.7 78.8 204.8 79.2 204.8 79.9 203.9 80.2 203.9 80.9 203 81.3 203 81.6 202.5 82 202.5 82.3 202.1 82.7 202.1 83 201.6 83.3 201.6 83.7 201.2 84 201.2 84.4 200.7 85.1 200.7 85.4 200.3 85.8 200.3 86.1 199.8 86.8 199.8 87.1 199.4 87.5 199.4 87.8 198.9 88.5 198.9 88.9 198.5 89.9 198.5 90.3 198 91 198 91.3 197.6 92.7 197.6 93 197.1 94.1 197.1 94.4 196.7 96.5 196.7 96.8 196.2 99.9 196.2 100.3 195.8 121.4 195.8 124.5 191.6 124.5 189 123.8 188.5 122.1 187.8 120.7 186.9 119.3 186.6 117.9 185.8 116.2 185.4 114.8 184.8 113.1 184.6 111.4 184.1 109.6 184.1 108.2 183.7 106.2 183.8 104.8 183.6 97.5 184.7 92.7 185.9 92 186.1 91.6 186.5 91.3 186.4 91 186.8 90.6 186.6 89.2 187 87.5 187.6 86.9 188 86.8 188.5 86.5 188.3 83.3 189.7 80.6 191 78.2 192.5 75.7 194.1 72.7 196.6 68.1 201.4 66.3 203.8 64 207.3 60.3 214.1 59.2 216.8 58.6 220 58 226.2 57.9 231.2Z" fill="#f8bda1"/>
<path d="M59.5 231.6 66.8 231.6 69.2 228.5 69.2 224 69.6 223.5 69.6 222.2 69.9 221.8 69.9 220.4 70.3 220 70.3 219.1 70.6 218.6 70.6 217.7 70.9 217.3 70.9 216.8 71.3 216.4 71.3 215.9 71.6 215.5 71.6 215 72 214.6 72 214.1 72.7 213.2 72.7 212.8 73 212.3 73 211.9 74.1 210.5 74.1 210.1 76.8 206.5 77.1 206.5 77.8 205.6 78.2 205.6 78.8 204.7 79.2 204.7 79.9 203.8 80.2 203.8 80.9 202.9 81.3 202.9 81.6 202.5 82 202.5 82.3 202 82.7 202 83 201.6 83.3 201.6 83.7 201.1 84 201.1 84.4 200.7 85.1 200.7 85.4 200.2 85.8 200.2 86.1 199.8 86.8 199.8 87.1 199.3 87.5 199.3 87.8 198.9 88.5 198.9 88.9 198.5 89.9 198.5 90.3 198 91 198 91.3 197.6 92.7 197.6 93 197.1 94.1 197.1 94.4 196.7 96.5 196.7 96.8 196.2 99.9 196.2 100.3 195.8 121.4 195.7 124.5 191.6 124.5 190.9 123.1 190 121.4 189.3 120 188.4 118.6 188 116.9 187.2 115.5 186.9 114.1 186.3 112.4 186.1 110.7 185.7 108.9 185.6 107.2 185.3 105.5 185.4 103.8 185.2 98.2 186.1 93.7 187.1 90.3 188.1 88.5 189 88.2 188.9 87.8 189.5 87.5 189.2 86.8 189.5 86.6 189.8 86.1 190.2 85.8 190.2 83.3 191.3 79.9 193.2 75.4 196.3 70.9 200.5 67.2 205.1 63.1 211.9 61.4 215.9 60 220.9 59.6 224.4 59.5 231.2Z" fill="#f4a582"/>
<path d="M61.1 231.6 66.8 231.6 69.2 228.5 69.2 224 69.5 223.5 69.5 222.2 69.9 221.8 69.9 220.4 70.2 220 70.2 219.1 70.6 218.6 70.6 217.7 70.9 217.3 70.9 216.8 71.3 216.4 71.3 215.9 71.6 215.5 71.6 215 72 214.6 72 214.1 72.7 213.2 72.7 212.8 73 212.3 73 211.9 74 210.5 74 210.1 76.8 206.5 77.1 206.5 77.8 205.6 78.2 205.6 78.8 204.7 79.2 204.7 79.9 203.8 80.2 203.8 80.9 202.9 81.3 202.9 81.6 202.5 82 202.5 82.3 202 82.7 202 83 201.6 83.3 201.6 83.7 201.1 84 201.1 84.4 200.7 85.1 200.7 85.4 200.2 85.8 200.2 86.1 199.8 86.8 199.8 87.1 199.3 87.5 199.3 87.8 198.9 88.5 198.9 88.9 198.4 89.9 198.4 90.3 198 91 198 91.3 197.5 92.7 197.5 93 197.1 94.1 197.1 94.4 196.6 96.5 196.6 96.8 196.2 99.9 196.2 100.3 195.7 121.4 195.7 123.8 192.5 123.8 192.2 122.3 191.2 120.7 190.6 119.3 189.7 117.9 189.3 116.2 188.5 114.8 188.2 113.4 187.7 111.4 187.4 110 187 108.2 187 106.5 186.7 102.7 186.7 97.9 187.5 93.4 188.6 90.3 189.6 86.3 191.2 85.1 192.2 84.4 192.3 83.3 192.8 79.9 194.8 77.5 196.4 75 198.4 70.9 202.6 67.1 207.8 63.6 214 62.9 215.5 62.4 217.3 61.1 224 60.9 227.1 61.1 231.2Z" fill="#e7866a"/>
<path d="M62.4 231.6 66.8 231.6 69.2 228.5 69.2 224 69.5 223.5 69.5 222.2 69.9 221.8 69.9 220.4 70.2 220 70.2 219.1 70.6 218.6 70.6 217.7 70.9 217.3 70.9 216.8 71.3 216.4 71.3 215.9 71.6 215.5 71.6 215 72 214.6 72 214.1 72.7 213.2 72.7 212.8 73 212.3 73 211.9 74 210.5 74 210.1 76.8 206.5 77.1 206.5 77.8 205.6 78.2 205.6 78.8 204.7 79.2 204.7 79.9 203.8 80.2 203.8 80.9 202.9 81.3 202.9 81.6 202.5 82 202.5 82.3 202 82.7 202 83 201.6 83.3 201.6 83.7 201.1 84 201.1 84.4 200.7 85.1 200.7 85.4 200.2 85.8 200.2 86.1 199.8 86.8 199.8 87.1 199.3 87.5 199.3 87.8 198.9 88.5 198.9 88.9 198.4 89.9 198.4 90.3 198 91 198 91.3 197.5 92.7 197.5 93 197.1 94.1 197.1 94.4 196.6 96.5 196.6 96.8 196.2 99.9 196.2 100.3 195.7 121.4 195.7 123.1 193.3 121.4 192.2 120 191.7 118.6 190.9 117.2 190.5 115.5 189.7 114 189.4 112.7 188.9 108.9 188.2 105.5 188 102 188 96.5 189 90.6 190.8 87.8 191.9 85.4 193.1 83.3 194.9 83 194.6 82.7 194.7 80.2 196 76.1 199.1 74.4 200.7 72.3 202.9 69.8 206 66 212 64 216.8 63.1 220 62.2 227.1 62.2 228.9 62.4 231.2Z" fill="#d96853"/>
<path d="M63.6 231.2 63.7 231.6 66.8 231.6 69.2 228.5 69.2 224 69.5 223.5 69.5 222.2 69.9 221.8 69.9 220.4 70.2 220 70.2 219.1 70.6 218.6 70.6 217.7 70.9 217.3 70.9 216.8 71.3 216.4 71.3 215.9 71.6 215.5 71.6 215 72 214.6 72 214.1 72.6 213.2 72.6 212.8 73 212.3 73 211.9 74 210.5 74 210.1 76.8 206.5 77.1 206.5 77.8 205.6 78.2 205.6 78.8 204.7 79.2 204.7 79.9 203.8 80.2 203.8 80.9 202.9 81.3 202.9 81.6 202.5 82 202.5 82.3 202 82.7 202 83 201.6 83.3 201.6 83.7 201.1 84 201.1 84.4 200.7 85.1 200.7 85.4 200.2 85.8 200.2 86.1 199.8 86.8 199.8 87.1 199.3 87.5 199.3 87.8 198.9 88.5 198.9 88.9 198.4 89.9 198.4 90.3 198 91 198 91.3 197.5 92.7 197.5 93 197.1 94.1 197.1 94.4 196.6 96.5 196.6 96.8 196.2 99.9 196.2 100.3 195.7 121.4 195.7 122.4 194.3 120.7 193.2 119.3 192.7 117.9 191.9 116.5 191.5 114.8 190.8 113.4 190.5 111.7 189.9 108.2 189.4 104.8 189.1 101 189.3 94.8 190.6 90.3 192.1 87.5 193.3 84.7 194.8 82 197.1 81.3 196.9 80.2 197.5 76.8 200 73.3 203.5 70.2 207.5 66.7 213.2 65.5 216.4 64.1 221.3 63.5 228 63.6 230.7Z" fill="#ca4842"/>
<path d="M64.9 231.6 66.8 231.6 69.2 228.5 69.2 224 69.5 223.5 69.5 222.2 69.9 221.8 69.9 220.4 70.2 220 70.2 219.1 70.6 218.6 70.6 217.7 70.9 217.3 70.9 216.8 71.3 216.4 71.3 215.9 71.6 215.5 71.6 215 71.9 214.6 71.9 214.1 72.6 213.2 72.6 212.8 73 212.3 73 211.9 74 210.5 74 210.1 76.8 206.5 77.1 206.5 77.8 205.6 78.2 205.6 78.8 204.7 79.2 204.7 79.9 203.8 80.2 203.8 80.9 202.9 81.3 202.9 81.6 202.4 82 202.4 82.3 202 82.7 202 83 201.5 83.3 201.5 83.7 201.1 84 201.1 84.4 200.6 85.1 200.6 85.4 200.2 85.8 200.2 86.1 199.8 86.8 199.8 87.1 199.3 87.5 199.3 87.8 198.9 88.5 198.9 88.9 198.4 89.9 198.4 90.3 198 91 198 91.3 197.5 92.7 197.5 93 197.1 94.1 197.1 94.4 196.6 96.5 196.6 96.8 196.2 99.9 196.2 100.3 195.7 121.4 195.7 121.7 195.2 120.4 194.3 117.6 193 114.1 191.7 111 190.9 107.9 190.5 103.8 190.2 99.6 190.6 93.7 192 88.9 193.8 84.4 196.2 81.3 198.8 79.5 199.4 78.5 200.1 75.8 202.4 72.6 206 70.7 208.7 69.3 211 66.8 215.9 65.2 221.8 64.8 224.9 64.7 229.4 64.8 231.2Z" fill="#ba2833"/>
<path d="M66 231.6 66.7 231.6 69.2 228.5 69.2 224 69.5 223.5 69.5 222.2 69.9 221.8 69.9 220.4 70.2 220 70.2 219.1 70.6 218.6 70.6 217.7 70.9 217.3 70.9 216.8 71.2 216.4 71.2 215.9 71.6 215.5 71.6 215 71.9 214.6 71.9 214.1 72.6 213.2 72.6 212.8 73 212.3 73 211.9 74 210.5 74 210.1 76.8 206.5 77.1 206.5 77.8 205.6 78.2 205.6 78.8 204.7 79.2 204.7 79.9 203.8 80.2 203.8 80.9 202.9 81.3 202.9 81.6 202.4 82 202.4 82.3 202 82.7 202 83 201.5 83.3 201.5 83.7 201.1 84 201.1 84.4 200.6 85.1 200.6 85.4 200.2 85.8 200.2 86.1 199.7 86.8 199.7 87.1 199.3 87.5 199.3 87.8 198.8 88.5 198.8 88.9 198.4 89.9 198.4 90.3 197.9 91 197.9 91.3 197.5 92.7 197.5 93 197 94.1 197 94.4 196.6 96.5 196.6 96.8 196.1 99.9 196.1 100.3 195.7 120.6 195.7 119.7 195.1 116.9 193.8 113.4 192.6 110.3 191.9 107.2 191.4 102.7 191.3 98.6 191.7 93 193.2 88.5 195 84.4 197.3 82.7 198.6 80.2 200.6 77.8 202.1 75.7 203.9 73 207.2 69.9 211.9 67.6 216.8 66.3 222.2 65.9 225.3 65.9 231.2Z" fill="#b2182b"/>
<path d="M118.9 191.9 123 173M116.3 191.9 119.7 173.4 120.2 170.2 120.4 167.4 120.8 160.8 121 150.4 121 144.9 120.8 134.9M112.8 191.9 115.3 173.3 115.6 170.6 115.7 167.8 115.7 161.2 115.4 151.3 115.1 145.8 114.2 135.4M109.3 191.9 110.9 173.2 111 169.4 110.9 165.5 110.5 158.4 109.6 149 108.8 144.1 107.1 134.9M105.9 191.9 106.4 178.1 106.5 172.1 106.4 168.2 105.9 162.7 105.2 156.7 104.4 151.8 103.5 148.1 101.6 141.2 100.2 135.3M102.1 191.9 102 180.3 101.8 171 101.6 168.2 101.2 164.9 100.3 158.9 99.4 155.2 98.3 152.1 93.5 141.5 91.3 137.1M99.9 192 98.8 182.7 97.4 174 97.1 172.4 96.5 170.2 95.3 166.6 93.6 162.5 91.5 158.6 87.9 153.1 83.6 147.3M97.2 192.3 95.7 187 94.2 182.3 92 177.2 89.9 173.4 87.1 169.3 84.3 165.9 80.5 161.9 76 157.8M94.9 192.8 92.7 187.7 91.7 185.8 90.6 183.9 89.7 182.4 88.4 180.6 85.7 177.2 82.5 174.1 79.2 171.2 75.1 168.3 70.4 165.4M93.2 193.2 90.8 188.9 88.6 185.7 86 182.8 83.3 180.1 79.8 177.3 76.1 174.9 72.3 172.7 67.7 170.7M91.7 193.6 89.2 190 87 187.5 84.2 184.8 81.2 182.4 77.4 180.1 73.5 178 69.5 176.2 65.3 174.8M90.3 194.1 87.9 191.1 85.9 189.2 82.5 186.4 79.2 184.3 75.3 182.2 71.3 180.5 67 179.1 63.3 178.2M87.1 195.4 84.6 193.3 81.7 191.6 78.2 189.9 74.6 188.6 70.8 187.6 67 187 63.1 186.8 59.3 186.8M84.9 196.6 82.5 195.2 78.9 193.7 75.2 192.7 71.4 192 68 191.8 64.2 191.9 60.9 192.3 57.1 193.1M81.7 198.6 78.5 197.8 74.6 197.2 70.7 197.1 67.4 197.5 65.8 197.8 63.6 198.3 60.5 199.4 57.5 200.8 54.6 202.5M79.2 200.5 77.6 200.3 75.3 200.2 72 200.4 68.7 200.9 65.6 201.8 64 202.5 62 203.4 59.2 205.1 57.8 206.1 56.1 207.5 53.8 209.9M77.6 201.9 75.3 202 73.7 202.1 72 202.3 69.9 202.8 68.3 203.3 66.2 204.1 63.3 205.6 60.5 207.5 58.8 208.9 57.6 210 56.5 211.3 55.2 213 53.5 215.9M73.4 206.5 71.3 207.3 69.8 208 67.9 209.1 66.5 210 64.8 211.4 63.6 212.6 62.6 213.8 61.2 215.6 60.4 217 59.4 219 58.6 221 58.1 222.6 57.7 224.8 57.5 226.4 57.4 228.6 57.5 230.3M69.2 213.7 67.7 215.3 66.3 217.1 65.2 219 64.3 221 63.5 223.6 63.1 225.8 63 228 63.1 230.2" fill="none" stroke="#111" stroke-width="0.45" stroke-opacity="0.8"/>
<path d="M120.4 185.3 120.6 186.7 119.6 186.5ZM117.5 185.3 117.8 186.6 116.8 186.4ZM119.7 173.4 120 174.7 119 174.5ZM120.8 161.3 121.2 162.6 120.3 162.5ZM113.7 185.2 114 186.5 113.1 186.4ZM115.3 173.2 115.6 174.5 114.7 174.4ZM115.7 161.1 116.2 162.4 115.3 162.4ZM115.3 149 115.8 150.2 114.8 150.3ZM109.9 185.2 110.2 186.5 109.3 186.4ZM110.9 173.1 111.3 174.4 110.3 174.3ZM110.7 161 111.2 162.2 110.3 162.3ZM109.6 149 110.2 150.1 109.2 150.3ZM106.1 185.2 106.6 186.5 105.6 186.4ZM106.5 173.1 107 174.3 106 174.3ZM105.7 161 106.4 162.2 105.4 162.3ZM103.7 149.1 104.5 150.1 103.6 150.4ZM100.7 137.3 101.4 138.4 100.5 138.7ZM102 185.2 102.5 186.4 101.6 186.4ZM101.9 173.1 102.4 174.3 101.5 174.3ZM100.7 161 101.3 162.2 100.4 162.3ZM97.1 149.5 98 150.4 97.2 150.8ZM99.1 185.4 99.7 186.5 98.8 186.7ZM97.3 173.4 98 174.5 97 174.7ZM93.3 162 94.3 162.9 93.4 163.3ZM86.9 151.7 88 152.4 87.2 153ZM95.4 185.9 96.2 186.9 95.3 187.2ZM90.7 174.7 91.7 175.6 90.9 176.1ZM83.5 165 84.7 165.6 83.9 166.3ZM92.2 186.7 93.2 187.6 92.3 188ZM85.2 176.7 86.4 177.3 85.7 178ZM76 168.9 77.3 169.2 76.7 170ZM89.8 187.4 90.9 188.2 90.1 188.7ZM81.5 178.6 82.8 179 82.2 179.8ZM71.2 172.2 72.5 172.3 72.1 173.2ZM87.7 188.3 88.9 188.9 88.2 189.5ZM78.3 180.6 79.6 180.8 79.1 181.7ZM67.3 175.4 68.7 175.4 68.3 176.3ZM85.9 189.1 87.1 189.6 86.5 190.3ZM75.8 182.4 77.1 182.6 76.7 183.4ZM81.7 191.6 83 191.8 82.5 192.6ZM70.2 187.5 71.5 187.3 71.3 188.2ZM78.8 193.7 80.2 193.7 79.9 194.6ZM66.9 191.8 68.1 191.3 68.1 192.2ZM75.1 197.3 76.4 196.9 76.3 197.9ZM63 198.5 64.1 197.7 64.4 198.6ZM72.5 200.3 73.7 199.7 73.8 200.7ZM61 204 61.8 202.9 62.3 203.8ZM70.9 202.6 72 201.9 72.2 202.8ZM60 207.8 60.7 206.7 61.3 207.5ZM67.4 209.4 68.2 208.3 68.7 209.1ZM59.6 218.5 59.7 217.2 60.6 217.6ZM65.2 219.1 65.3 217.7 66.2 218.2Z" fill="#111"/>
</g>
<g stroke="#444" fill="none">
<path d="M47.6 136.9 V228.7 H140" stroke-width="0.5"/>
<path d="M47.6 228.7h2.4M47.6 225h1.1M47.6 221.4h1.1M47.6 217.7h1.1M47.6 214h1.1M47.6 210.3h2.4M47.6 206.7h1.1M47.6 203h1.1M47.6 199.3h1.1M47.6 195.7h1.1M47.6 192h2.4M47.6 188.3h1.1M47.6 184.6h1.1M47.6 181h1.1M47.6 177.3h1.1M47.6 173.6h2.4M47.6 169.9h1.1M47.6 166.3h1.1M47.6 162.6h1.1M47.6 158.9h1.1M47.6 155.3h2.4M47.6 151.6h1.1M47.6 147.9h1.1M47.6 144.2h1.1M47.6 140.6h1.1M47.6 136.9h2.4M47.6 228.7v-2.4M51.3 228.7v-1.1M55 228.7v-1.1M58.7 228.7v-1.1M62.4 228.7v-1.1M66.1 228.7v-2.4M69.8 228.7v-1.1M73.5 228.7v-1.1M77.2 228.7v-1.1M80.9 228.7v-1.1M84.6 228.7v-2.4M88.2 228.7v-1.1M91.9 228.7v-1.1M95.6 228.7v-1.1M99.3 228.7v-1.1M103 228.7v-2.4M106.7 228.7v-1.1M110.4 228.7v-1.1M114.1 228.7v-1.1M117.8 228.7v-1.1M121.5 228.7v-2.4M125.2 228.7v-1.1M128.9 228.7v-1.1M132.6 228.7v-1.1M136.3 228.7v-1.1M140 228.7v-2.4" stroke-width="0.45"/>
</g>
<g font-family="Liberation Sans, sans-serif" font-size="3" font-weight="bold" fill="#222">
<text x="46.4" y="137.9" text-anchor="end">2.5</text>
<text x="46.4" y="156.3" text-anchor="end">2</text>
<text x="46.4" y="174.7" text-anchor="end">1.5</text>
<text x="46.4" y="193" text-anchor="end">1</text>
<text x="46.4" y="211.4" text-anchor="end">0.5</text>
<text x="46.4" y="229.8" text-anchor="end">0</text>
<text x="47.6" y="231.8" text-anchor="middle">-1.5</text>
<text x="66.1" y="231.8" text-anchor="middle">-1</text>
<text x="84.6" y="231.8" text-anchor="middle">-0.5</text>
<text x="103" y="231.8" text-anchor="middle">0</text>
<text x="121.5" y="231.8" text-anchor="middle">0.5</text>
<text x="140" y="231.8" text-anchor="middle">1</text>
</g>
<g font-family="Liberation Sans, sans-serif" font-size="4" font-weight="bold" fill="#000">
<text x="93.8" y="236.3" text-anchor="middle">x</text>
<text x="39" y="183.8" text-anchor="middle">y</text>
</g>
<rect x="127.6" y="148.1" width="13.6" height="41" fill="#fff" stroke="#999" stroke-width="0.5"/>
<rect x="129.1" y="154.50" width="3.9" height="1.87" fill="#ba2732"/>
<rect x="129.1" y="156.22" width="3.9" height="1.87" fill="#c94540"/>
<rect x="129.1" y="157.93" width="3.9" height="1.87" fill="#d86450"/>
<rect x="129.1" y="159.65" width="3.9" height="1.87" fill="#e48166"/>
<rect x="129.1" y="161.36" width="3.9" height="1.87" fill="#f19e7c"/>
<rect x="129.1" y="163.08" width="3.9" height="1.87" fill="#f7b698"/>
<rect x="129.1" y="164.79" width="3.9" height="1.87" fill="#fbcdb5"/>
<rect x="129.1" y="166.51" width="3.9" height="1.87" fill="#fcdfcf"/>
<rect x="129.1" y="168.23" width="3.9" height="1.87" fill="#faebe3"/>
<rect x="129.1" y="169.94" width="3.9" height="1.87" fill="#f7f7f7"/>
<rect x="129.1" y="171.66" width="3.9" height="1.87" fill="#e7eff4"/>
<rect x="129.1" y="173.37" width="3.9" height="1.87" fill="#d7e8f1"/>
<rect x="129.1" y="175.09" width="3.9" height="1.87" fill="#c0ddeb"/>
<rect x="129.1" y="176.81" width="3.9" height="1.87" fill="#a6cfe4"/>
<rect x="129.1" y="178.52" width="3.9" height="1.87" fill="#8ac0db"/>
<rect x="129.1" y="180.24" width="3.9" height="1.87" fill="#68abd0"/>
<rect x="129.1" y="181.95" width="3.9" height="1.87" fill="#4796c4"/>
<rect x="129.1" y="183.67" width="3.9" height="1.87" fill="#3682bb"/>
<rect x="129.1" y="185.38" width="3.9" height="1.87" fill="#286fb1"/>
<g font-family="Liberation Sans, sans-serif" font-size="2.4" font-weight="bold" fill="#222">
<text x="134.4" y="156.7">1</text>
<text x="134.4" y="160.1">0.9</text>
<text x="134.4" y="163.5">0.8</text>
<text x="134.4" y="166.9">0.7</text>
<text x="134.4" y="170.3">0.6</text>
<text x="134.4" y="173.7">0.5</text>
<text x="134.4" y="177.1">0.4</text>
<text x="134.4" y="180.5">0.3</text>
<text x="134.4" y="183.9">0.2</text>
<text x="134.4" y="187.3">0.1</text>
</g>
<text x="140.4" y="152" font-family="Liberation Sans, sans-serif" font-size="2.8" font-weight="bold" fill="#111" text-anchor="end">B<tspan font-size="2" dy="0.6">t</tspan><tspan dy="-0.6">/B</tspan><tspan font-size="2" dy="0.6">0</tspan></text>
<text x="93.5" y="250.3" font-family="Liberation Serif, serif" font-size="6.35" fill="#222" text-anchor="middle">(d) <tspan font-style="italic">Ma</tspan><tspan font-size="4.6" dy="1.1">∞</tspan><tspan dy="-1.1"> = 20, total magnetic field.</tspan></text>
<g mask="url(#cpe)">
<rect x="184.6" y="134.7" width="80" height="97" fill="#3884bb"/>
<path d="M190.3 231.2 190.6 231.6 200.9 231.6 203.3 228.5 203.3 224 203.7 223.5 203.7 222.2 204 221.8 204 220.4 204.4 220 204.4 219.1 204.7 218.6 204.7 217.7 205 217.3 205 216.8 205.4 216.4 205.4 215.9 205.7 215.5 205.7 215 206.1 214.6 206.1 214.1 206.8 213.2 206.8 212.8 207.1 212.3 207.1 211.9 208.2 210.5 208.2 210.1 210.8 206.7 211.1 206.7 211.8 205.8 212.2 205.8 212.8 204.9 213.2 204.9 213.9 204 214.2 204 214.9 203.1 215.3 203.1 215.6 202.6 216 202.6 216.3 202.2 216.7 202.2 217 201.7 217.3 201.7 217.7 201.3 218 201.3 218.4 200.8 219.1 200.8 219.4 200.4 219.8 200.4 220.1 199.9 220.8 199.9 221.1 199.5 221.5 199.5 221.8 199 222.5 199 222.9 198.6 223.9 198.6 224.3 198.1 225 198.1 225.3 197.7 226.7 197.7 227 197.2 228.1 197.2 228.4 196.8 230.5 196.8 230.8 196.3 233.9 196.3 234.3 195.9 255.4 195.9 258.6 191.6 258.5 137.3 256.4 134.7 255.4 134.3 254.4 134.1 254 134.2 253.7 134.6 253.8 135.9 253.3 136.2 252.3 136.2 248.8 135.8 247.3 135.9 246.8 136.4 247.5 137.3 247.7 137.7 247.3 138.2 242.2 138.8 239.3 139.5 238.7 140 239.9 140.9 239.2 141.3 233.6 142.9 231.5 143.8 228.8 145.7 225 149.2 224.3 149.5 223.2 149.6 221.5 150.3 213.5 160.6 213.5 161.1 209.4 166.5 209.3 166.9 207.3 169.6 207.3 170.1 205.9 171.9 205.9 172.3 204.5 174.1 204.5 174.6 203.5 175.9 203.5 176.4 202.4 177.7 202.4 178.2 201.4 179.5 201.4 180 200.7 180.9 200.7 181.3 200 182.2 200 182.7 199.3 183.6 199.3 184 199 184.5 199 184.9 198.3 185.8 198.3 186.3 197.6 187.2 197.6 187.6 197.2 188 197.2 188.5 196.9 188.9 196.9 189.4 196.2 190.3 196.2 190.7 195.8 191.2 195.8 191.6 195.5 192.1 195.5 192.5 195.1 193 195.1 193.4 194.8 193.9 194.8 194.3 194.4 194.8 194.4 195.2 194.1 195.7 194.1 196.1 193.7 196.6 193.7 197 193.4 197.5 193.4 198.4 193.1 198.8 193.1 199.3 192.7 199.7 192.7 200.2 192.4 200.6 192.4 201.5 192 202 192 202.9 191.7 203.3 191.7 203.8 191.3 204.2 191.3 205.1 191 205.6 191 206.5 190.6 206.9 190.6 208.3 190.3 208.7 190.3 209.6 189.9 210.1 189.9 211.4 189.6 211.9 189.6 213.7 189.2 214.1 189.2 215.9 188.9 216.4 188.9 218.6 188.5 219.1 188.5 222.7 188.2 223.1 188.2 228.5 190 230.9Z" fill="#4c99c6"/>
<path d="M190.3 231.2 190.6 231.6 200.9 231.6 203.3 228.5 203.3 224 203.7 223.5 203.7 222.2 204 221.8 204 220.4 204.3 220 204.3 219.1 204.7 218.6 204.7 217.7 205 217.3 205 216.8 205.4 216.4 205.4 215.9 205.7 215.5 205.7 215 206.1 214.6 206.1 214.1 206.8 213.2 206.8 212.8 207.1 212.3 207.1 211.9 208.1 210.5 208.1 210.1 210.8 206.7 211.1 206.7 211.8 205.8 212.2 205.8 212.8 204.9 213.2 204.9 213.9 204 214.2 204 214.9 203.1 215.3 203.1 215.6 202.6 216 202.6 216.3 202.2 216.7 202.2 217 201.7 217.3 201.7 217.7 201.3 218 201.3 218.4 200.8 219.1 200.8 219.4 200.4 219.8 200.4 220.1 199.9 220.8 199.9 221.1 199.5 221.5 199.5 221.8 199 222.5 199 222.9 198.6 223.9 198.6 224.3 198.1 225 198.1 225.3 197.7 226.7 197.7 227 197.2 228.1 197.2 228.4 196.8 230.5 196.8 230.8 196.3 233.9 196.3 234.3 195.9 255.4 195.9 258.6 191.6 258.5 147 258.2 147 257.5 146.6 253.7 144 253 143.3 250.9 140.9 249.7 140.4 248.3 140.4 247.4 140.9 246.9 141.8 246.5 142.2 243.3 143.1 242.5 143.6 241.7 144.9 241.2 145.2 237.5 146.7 236.9 147.2 236.3 148.5 235.7 149 231.9 150.7 230.3 152.1 230 152.6 229.8 153.4 229.3 154.3 228.3 155.7 227.7 156.1 227 156.4 225.6 156.5 223.9 157.1 223.2 156.7 221.8 156.9 221.1 156.4 220.1 156.6 219.8 156.5 219.4 156 219.1 155.9 218 156.1 217.7 155.7 217.3 155.7 213.5 160.6 213.5 161.1 209.4 166.5 209.4 166.9 207.3 169.6 207.3 170.1 205.9 171.9 205.9 172.3 204.5 174.1 204.5 174.6 203.5 175.9 203.5 176.4 202.4 177.7 202.4 178.2 201.4 179.5 201.4 180 200.7 180.9 200.7 181.3 200 182.2 200 182.7 199.3 183.6 199.3 184 199 184.5 199 184.9 198.3 185.8 198.3 186.3 197.6 187.2 197.6 187.6 197.2 188 197.2 188.5 196.9 188.9 196.9 189.4 196.2 190.3 196.2 190.7 195.8 191.2 195.8 191.6 195.5 192.1 195.5 192.5 195.1 193 195.1 193.4 194.8 193.9 194.8 194.3 194.5 194.8 194.5 195.2 194.1 195.7 194.1 196.1 193.8 196.6 193.8 197 193.4 197.5 193.4 198.4 193.1 198.8 193.1 199.3 192.7 199.7 192.7 200.2 192.4 200.6 192.4 201.5 192 202 192 202.9 191.7 203.3 191.7 203.8 191.3 204.2 191.3 205.1 191 205.6 191 206.5 190.6 206.9 190.6 208.3 190.3 208.7 190.3 209.6 189.9 210.1 189.9 211.4 189.6 211.9 189.6 213.7 189.2 214.1 189.2 215.9 188.9 216.4 188.9 218.6 188.5 219.1 188.5 222.7 188.2 223.1 188.2 228.5 190 230.9ZM258.5 145.8 258.5 144.3 258.3 144.5 258.4 145.4Z" fill="#6fafd2"/>
<path d="M190.3 231.2 190.6 231.6 200.9 231.6 203.3 228.5 203.3 224 203.6 223.5 203.6 222.2 204 221.8 204 220.4 204.3 220 204.3 219.1 204.7 218.6 204.7 217.7 205 217.3 205 216.8 205.4 216.4 205.4 215.9 205.7 215.5 205.7 215 206.1 214.6 206.1 214.1 206.8 213.2 206.8 212.8 207.1 212.3 207.1 211.9 208.1 210.5 208.1 210.1 210.8 206.6 211.1 206.6 211.8 205.7 212.2 205.7 212.8 204.9 213.2 204.9 213.9 204 214.2 204 214.9 203.1 215.3 203.1 215.6 202.6 216 202.6 216.3 202.2 216.7 202.2 217 201.7 217.3 201.7 217.7 201.3 218 201.3 218.4 200.8 219.1 200.8 219.4 200.4 219.8 200.4 220.1 199.9 220.8 199.9 221.1 199.5 221.5 199.5 221.8 199 222.5 199 222.9 198.6 223.9 198.6 224.3 198.1 225 198.1 225.3 197.7 226.7 197.7 227 197.2 228.1 197.2 228.4 196.8 230.5 196.8 230.8 196.3 233.9 196.3 234.3 195.9 255.4 195.9 258.6 191.6 258.5 154.5 254.4 151.2 252.3 149.8 251.9 149.9 251.8 150.3 252 151.7 251.9 151.9 251.6 151.9 250.9 151.6 246.1 148.7 244 147.2 243.3 147 242.2 147 241.7 147.2 241.1 147.6 241 149 240.9 149 237.2 150.3 236.1 151.2 235.6 152.1 235.1 152.6 231.9 154.2 231.1 155.2 230.7 156.6 228.4 159.8 227 160.8 225.8 161.5 225 161.7 224.3 161.3 222.9 161.6 222.5 161.5 222.2 161.2 221.8 161.1 220.5 161.3 219.8 160.6 218 160.9 217.9 160.6 218 160.2 217.7 160 214.6 161.6 214.2 161.7 214.1 161.5 214.6 160.5 214.2 160.5 213.5 160.9 213.5 161.1 209.4 166.5 209.4 166.9 207.3 169.6 207.3 170.1 205.9 171.9 205.9 172.3 204.5 174.1 204.5 174.6 203.5 175.9 203.5 176.4 202.4 177.7 202.4 178.2 201.4 179.5 201.4 180 200.7 180.9 200.7 181.3 200 182.2 200 182.7 199.3 183.6 199.3 184 199 184.5 199 184.9 198.3 185.8 198.3 186.3 197.6 187.2 197.6 187.6 197.2 188 197.2 188.5 196.9 188.9 196.9 189.4 196.2 190.3 196.2 190.7 195.9 191.2 195.9 191.6 195.5 192.1 195.5 192.5 195.2 193 195.2 193.4 194.8 193.9 194.8 194.3 194.5 194.8 194.5 195.2 194.1 195.7 194.1 196.1 193.8 196.6 193.8 197 193.4 197.5 193.4 198.4 193.1 198.8 193.1 199.3 192.7 199.7 192.7 200.2 192.4 200.6 192.4 201.5 192 202 192 202.9 191.7 203.3 191.7 203.8 191.3 204.2 191.3 205.1 191 205.6 191 206.5 190.6 206.9 190.6 208.3 190.3 208.7 190.3 209.6 190 210.1 189.9 211.4 189.6 211.9 189.6 213.7 189.3 214.1 189.2 215.9 188.9 216.4 188.9 218.6 188.6 219.1 188.6 222.7 188.2 223.1 188.2 228.5 190 230.8Z" fill="#92c5de"/>
<path d="M190.3 231.2 190.6 231.6 200.9 231.6 203.3 228.5 203.3 224 203.6 223.5 203.6 222.2 204 221.8 204 220.4 204.3 220 204.3 219.1 204.7 218.6 204.7 217.7 205 217.3 205 216.8 205.4 216.4 205.4 215.9 205.7 215.5 205.7 215 206.1 214.6 206.1 214.1 206.7 213.2 206.7 212.8 207.1 212.3 207.1 211.9 208.1 210.5 208.1 210.1 210.8 206.6 211.1 206.6 211.8 205.7 212.2 205.7 212.8 204.8 213.2 204.8 213.9 203.9 214.2 203.9 214.9 203 215.3 203 215.6 202.6 216 202.6 216.3 202.1 216.7 202.1 217 201.7 217.3 201.7 217.7 201.2 218 201.2 218.4 200.8 219.1 200.8 219.4 200.3 219.8 200.3 220.1 199.9 220.8 199.9 221.1 199.4 221.5 199.4 221.8 199 222.5 199 222.9 198.5 223.9 198.5 224.3 198.1 225 198.1 225.3 197.6 226.7 197.6 227 197.2 228.1 197.2 228.4 196.8 230.5 196.8 230.8 196.3 233.9 196.3 234.3 195.9 255.4 195.9 258.6 191.6 258.5 161.3 254.4 157.8 253 156.9 252.6 156.9 252.5 157 252.7 158.4 253 159.3 253 159.5 252.6 159.5 248.5 156.3 245.7 154.8 244.9 154.8 244.9 155.2 245.4 156.6 245.4 157 245 157.1 241.2 155.4 239.8 155.1 238.8 155.1 238.3 155.2 238.3 155.7 238.5 156.6 238.1 157.1 233.2 157.5 232 157.9 232 158.4 232.2 158.6 233.1 158.8 233.5 159.3 232.2 159.8 231.3 160.6 231 161.1 231.1 162.4 229.8 164.2 229.5 165.6 228.8 166.4 228.1 166.8 227.4 166.9 226.7 166.7 225.3 166.7 224.8 166 223.6 165.8 223.2 165 221.8 164.8 221.6 164.2 221.1 164.1 217.7 166.1 217.3 166.2 217.1 166 217.1 165.6 216.7 165.6 213.9 167.4 213.2 167.7 213 167.4 213.1 166.9 212.8 166.8 212.5 166.9 209.4 169 209.2 168.7 209.3 168.3 209 168 208.4 168.4 207.3 169.6 207.3 170.1 205.9 171.9 205.9 172.3 204.5 174.1 204.5 174.6 203.5 175.9 203.5 176.4 202.5 177.7 202.5 178.2 201.4 179.5 201.4 180 200.7 180.9 200.7 181.3 200 182.2 200 182.7 199.3 183.6 199.3 184 199 184.5 199 184.9 198.3 185.8 198.3 186.3 197.6 187.2 197.6 187.6 197.3 188 197.3 188.5 196.9 188.9 196.9 189.4 196.2 190.3 196.2 190.7 195.9 191.2 195.9 191.6 195.5 192.1 195.5 192.5 195.2 193 195.2 193.4 194.8 193.9 194.8 194.3 194.5 194.8 194.5 195.2 194.1 195.7 194.1 196.1 193.8 196.6 193.8 197 193.4 197.5 193.4 198.4 193.1 198.8 193.1 199.3 192.7 199.7 192.7 200.2 192.4 200.6 192.4 201.5 192.1 202 192 202.9 191.7 203.3 191.7 203.8 191.4 204.2 191.4 205.1 191 205.6 191 206.5 190.7 206.9 190.7 208.3 190.3 208.7 190.3 209.6 190 210.1 190 211.4 189.6 211.9 189.6 213.7 189.3 214.1 189.3 215.9 188.9 216.4 188.9 218.6 188.6 219.1 188.6 222.7 188.2 223.1 188.2 228.5 190 230.8Z" fill="#aed3e6"/>
<path d="M190.3 231.2 190.6 231.6 200.9 231.6 203.3 228.5 203.3 224 203.6 223.5 203.6 222.2 204 221.8 204 220.4 204.3 220 204.3 219.1 204.7 218.6 204.7 217.7 205 217.3 205 216.8 205.4 216.4 205.4 215.9 205.7 215.5 205.7 215 206 214.6 206 214.1 206.7 213.2 206.7 212.8 207.1 212.3 207.1 211.9 208.1 210.5 208.1 210.1 210.8 206.6 211.1 206.6 211.8 205.7 212.2 205.7 212.8 204.8 213.2 204.8 213.9 203.9 214.2 203.9 214.9 203 215.3 203 215.6 202.6 216 202.6 216.3 202.1 216.7 202.1 217 201.7 217.3 201.7 217.7 201.2 218 201.2 218.4 200.8 219.1 200.8 219.4 200.3 219.8 200.3 220.1 199.9 220.8 199.9 221.1 199.4 221.5 199.4 221.8 199 222.5 199 222.9 198.5 223.9 198.5 224.3 198.1 225 198.1 225.3 197.6 226.7 197.6 227 197.2 228.1 197.2 228.4 196.7 230.5 196.7 230.8 196.3 233.9 196.3 234.3 195.8 255.4 195.8 258.6 191.6 258.5 165.1 258.2 166.1 257.8 166.6 257.1 166.3 254.4 164.2 254 164.1 253.7 164.2 253.4 165.6 253 165.7 249.9 163.7 248.8 163.3 248.6 163.3 248.5 163.8 248.5 165.1 248.1 165.2 245 163.7 244.3 163.5 244 163.8 244.2 165.1 244 165.6 242.9 165.3 240 163.8 238.8 163.3 238.6 163.8 239.5 165.1 239.5 165.6 238.6 165.6 235 164.1 233.9 164 233.3 164.2 233.7 165.1 233.7 165.6 231.9 165.9 231.5 166.2 229.4 169.8 228.8 170.6 228.1 171.1 225.3 171.8 222.5 172 221.1 171.7 219.8 172 219.1 171.4 217.3 172 217 171.9 216.7 171.3 216.3 171.3 214.2 172.4 214 172.3 213.9 171.8 213.5 171.7 210.8 173.4 210.5 173.2 210.4 172.7 210.1 172.7 205.6 176.5 205.5 176.4 205.7 175.5 205.6 175.3 205.2 175.5 201.4 179.6 201.4 180 200.7 180.9 200.7 181.3 200 182.2 200 182.7 199.4 183.6 199.4 184 199 184.5 199 184.9 198.3 185.8 198.3 186.3 197.6 187.2 197.6 187.6 197.3 188 197.3 188.5 196.9 188.9 196.9 189.4 196.2 190.3 196.2 190.7 195.9 191.2 195.9 191.6 195.5 192.1 195.5 192.5 195.2 193 195.2 193.4 194.8 193.9 194.8 194.3 194.5 194.8 194.5 195.2 194.1 195.7 194.1 196.1 193.8 196.6 193.8 197 193.5 197.5 193.5 198.4 193.1 198.8 193.1 199.3 192.8 199.7 192.8 200.2 192.4 200.6 192.4 201.5 192.1 202 192.1 202.9 191.7 203.3 191.7 203.8 191.4 204.2 191.4 205.1 191 205.6 191 206.5 190.7 206.9 190.7 208.3 190.3 208.7 190.3 209.6 190 210.1 190 211.4 189.6 211.9 189.6 213.7 189.3 214.1 189.3 215.9 188.9 216.4 188.9 218.6 188.6 219.1 188.6 222.7 188.2 223.1 188.2 228.5 190 230.8Z" fill="#cae1ee"/>
<path d="M190.3 231.2 190.7 231.6 200.8 231.6 203.3 228.5 203.3 224 203.6 223.5 203.6 222.2 204 221.8 204 220.4 204.3 220 204.3 219.1 204.7 218.6 204.7 217.7 205 217.3 205 216.8 205.3 216.4 205.3 215.9 205.7 215.5 205.7 215 206 214.6 206 214.1 206.7 213.2 206.7 212.8 207.1 212.3 207.1 211.9 208.1 210.5 208.1 210.1 210.8 206.6 211.1 206.6 211.8 205.7 212.2 205.7 212.8 204.8 213.2 204.8 213.9 203.9 214.2 203.9 214.9 203 215.3 203 215.6 202.6 216 202.6 216.3 202.1 216.7 202.1 217 201.7 217.3 201.7 217.7 201.2 218 201.2 218.4 200.8 219.1 200.8 219.4 200.3 219.8 200.3 220.1 199.9 220.8 199.9 221.1 199.4 221.5 199.4 221.8 199 222.5 199 222.9 198.5 223.9 198.5 224.3 198.1 225 198.1 225.3 197.6 226.7 197.6 227 197.2 228.1 197.2 228.4 196.7 230.5 196.7 230.8 196.3 233.9 196.3 234.3 195.8 255.4 195.8 258.6 191.6 258.5 171.7 257.5 170 256.8 169.3 256.4 169.3 255.5 170.5 255 170.6 253.3 169 252.6 168.7 252.3 168.8 251.6 169.8 251.2 170 250.5 169.7 249.2 168.9 248.5 168.7 248.1 168.9 247.4 170 247.1 170.1 244.7 169.1 244.3 169.2 243.6 170.1 243.3 170.3 242.6 170.3 241.2 169.7 240.5 169.5 240.2 169.7 239.5 170.5 239.1 170.6 237.1 170 236 170.3 231.2 170.4 230.5 170.8 229.4 172 227.4 175.6 220.1 176.1 218.7 176.4 217.7 176.1 216 176.8 214.9 176.4 212.5 177.9 212.2 178 211.5 177.8 210.8 178.2 207.3 181.3 205.2 182.5 201.8 185.4 199.4 187 196.2 190.3 196.2 190.7 195.9 191.2 195.9 191.6 195.5 192.1 195.5 192.5 195.2 193 195.2 193.4 194.9 193.9 194.9 194.3 194.5 194.8 194.5 195.2 194.2 195.7 194.2 196.1 193.8 196.6 193.8 197 193.5 197.5 193.5 198.4 193.1 198.8 193.1 199.3 192.8 199.7 192.8 200.2 192.4 200.6 192.4 201.5 192.1 202 192.1 202.9 191.7 203.3 191.7 203.8 191.4 204.2 191.4 205.1 191 205.6 191 206.5 190.7 206.9 190.7 208.3 190.3 208.7 190.3 209.6 190 210.1 190 211.4 189.6 211.9 189.6 213.7 189.3 214.1 189.3 215.9 188.9 216.4 188.9 218.6 188.6 219.1 188.6 222.7 188.2 223.1 188.2 228.5 190 230.8Z" fill="#deebf2"/>
<path d="M190.3 231.2 190.7 231.6 200.8 231.6 203.3 228.5 203.3 224 203.6 223.5 203.6 222.2 204 221.8 204 220.4 204.3 220 204.3 219.1 204.6 218.6 204.6 217.7 205 217.3 205 216.8 205.3 216.4 205.3 215.9 205.7 215.5 205.7 215 206 214.6 206 214.1 206.7 213.2 206.7 212.8 207.1 212.3 207.1 211.9 208.1 210.5 208.1 210.1 210.8 206.6 211.1 206.6 211.8 205.7 212.2 205.7 212.8 204.8 213.2 204.8 213.9 203.9 214.2 203.9 214.9 203 215.3 203 215.6 202.6 216 202.6 216.3 202.1 216.7 202.1 217 201.7 217.3 201.7 217.7 201.2 218 201.2 218.4 200.8 219.1 200.8 219.4 200.3 219.8 200.3 220.1 199.9 220.8 199.9 221.1 199.4 221.5 199.4 221.8 199 222.5 199 222.9 198.5 223.9 198.5 224.3 198.1 225 198.1 225.3 197.6 226.7 197.6 227 197.2 228.1 197.2 228.4 196.7 230.5 196.7 230.8 196.3 233.9 196.3 234.3 195.8 255.4 195.8 258.6 191.6 258.5 176.4 258.2 176 257.5 174.4 257.1 174 256.8 173.9 255.4 174.8 255 174.7 254 173.2 253.7 172.9 253.3 172.9 251.9 173.9 251.6 173.8 250.5 172.8 249.9 172.5 249.5 172.6 248.5 173.6 248.1 173.7 247.8 173.6 246.4 172.9 246.1 172.8 244.3 173.9 242.2 173.3 240.2 174.2 238.4 174 237.4 174.2 230.5 175.1 229.1 175.2 228.4 175 228 175.9 227.7 177.6 227.4 177.7 226.7 178.3 217.3 180.3 213.9 181.3 209.7 183.6 207.3 185.4 204.9 186.9 202.5 188.9 200.4 190.4 199 191.7 196.2 194.8 194.5 196.4 193.5 197.7 193.5 198.4 193.1 198.8 193.1 199.3 192.8 199.7 192.8 200.2 192.4 200.6 192.4 201.5 192.1 202 192.1 202.9 191.7 203.3 191.7 203.8 191.4 204.2 191.4 205.1 191 205.6 191 206.5 190.7 206.9 190.7 208.3 190.3 208.7 190.3 209.6 190 210.1 190 211.4 189.7 211.9 189.6 213.7 189.3 214.1 189.3 215.9 188.9 216.4 188.9 218.6 188.6 219.1 188.6 222.7 188.3 223.1 188.3 228.5 190 230.8ZM226.3 179.1 226.3 179.1Z" fill="#eff3f5"/>
<path d="M190.3 231.2 190.7 231.6 200.8 231.6 203.3 228.5 203.3 224 203.6 223.5 203.6 222.2 203.9 221.8 203.9 220.4 204.3 220 204.3 219.1 204.6 218.6 204.6 217.7 205 217.3 205 216.8 205.3 216.4 205.3 215.9 205.7 215.5 205.7 215 206 214.6 206 214.1 206.7 213.2 206.7 212.8 207.1 212.3 207.1 211.9 208.1 210.5 208.1 210.1 210.8 206.6 211.1 206.6 211.8 205.7 212.2 205.7 212.8 204.8 213.2 204.8 213.9 203.9 214.2 203.9 214.9 203 215.3 203 215.6 202.5 216 202.5 216.3 202.1 216.7 202.1 217 201.6 217.3 201.6 217.7 201.2 218 201.2 218.4 200.7 219.1 200.7 219.4 200.3 219.8 200.3 220.1 199.8 220.8 199.8 221.1 199.4 221.5 199.4 221.8 198.9 222.5 198.9 222.9 198.5 223.9 198.5 224.3 198.1 225 198.1 225.3 197.6 226.7 197.6 227 197.2 228.1 197.2 228.4 196.7 230.5 196.7 230.8 196.3 233.9 196.3 234.3 195.8 255.4 195.8 258.6 191.6 258.5 179.5 257.8 179.6 257.5 179.3 256.8 177.9 256.4 177.5 256.1 177.5 255 178 254.7 178 253.3 176.3 253 176.3 251.6 176.9 251.2 176.9 250.2 175.9 249.9 175.8 248.1 176.7 247.4 176.5 246.7 176.1 246.1 176 244.3 176.8 242.6 176.3 240.5 177 238.8 176.9 232.6 177.9 228.1 178.8 227.7 180.1 226 180.4 225.3 181 220.5 182.4 214.6 184.5 211.1 186.1 206.6 189 201.8 192.8 196.9 197.7 195.6 199.5 190.7 207 190.7 208.3 190.4 208.7 190.4 209.6 190 210.1 190 211.4 189.7 211.9 189.7 213.7 189.3 214.1 189.3 215.9 189 216.4 189 218.6 188.6 219.1 188.6 222.7 188.3 223.1 188.3 228.5 190 230.8Z" fill="#f8f1ec"/>
<path d="M190.3 231.2 190.7 231.6 200.8 231.6 203.2 228.5 203.2 224 203.6 223.5 203.6 222.2 203.9 221.8 203.9 220.4 204.3 220 204.3 219.1 204.6 218.6 204.6 217.7 205 217.3 205 216.8 205.3 216.4 205.3 215.9 205.7 215.5 205.7 215 206 214.6 206 214.1 206.7 213.2 206.7 212.8 207 212.3 207 211.9 208.1 210.5 208.1 210.1 210.8 206.6 211.1 206.6 211.8 205.7 212.2 205.7 212.8 204.8 213.2 204.8 213.9 203.9 214.2 203.9 214.9 203 215.3 203 215.6 202.5 216 202.5 216.3 202.1 216.7 202.1 217 201.6 217.3 201.6 217.7 201.2 218 201.2 218.4 200.7 219.1 200.7 219.4 200.3 219.8 200.3 220.1 199.8 220.8 199.8 221.1 199.4 221.5 199.4 221.8 198.9 222.5 198.9 222.9 198.5 223.9 198.5 224.3 198 225 198 225.3 197.6 226.7 197.6 227 197.1 228.1 197.1 228.4 196.7 230.5 196.7 230.8 196.2 233.9 196.2 234.3 195.8 255.4 195.8 258.5 191.6 258.5 182.1 257.1 182.2 256.8 182.1 256.1 180.7 255.7 180.4 254.4 180.6 254 180.5 252.8 179.1 250.9 179.4 249.5 178.4 247.8 179.1 247.4 179.1 246.1 178.5 244.3 179.2 243.6 179.1 242.6 178.8 240.5 179.4 239.1 179.2 235.3 179.7 228.1 181.2 227.7 182.2 224.6 182.9 223.9 183.6 223.6 183.5 216.7 186.1 212.8 187.8 208.7 190.3 204.5 193.5 199.7 198.1 194.9 204.5 191.4 210.6 189.7 212.3 189.7 213.7 189.3 214.1 189.3 215.9 189 216.4 189 218.6 188.6 219.1 188.6 222.7 188.3 223.1 188.3 228.5 190 230.8Z" fill="#fbe4d7"/>
<path d="M190.4 231.2 190.7 231.6 200.8 231.6 203.2 228.5 203.2 224 203.6 223.5 203.6 222.2 203.9 221.8 203.9 220.4 204.3 220 204.3 219.1 204.6 218.6 204.6 217.7 205 217.3 205 216.8 205.3 216.4 205.3 215.9 205.7 215.5 205.7 215 206 214.6 206 214.1 206.7 213.2 206.7 212.8 207 212.3 207 211.9 208.1 210.5 208.1 210.1 210.8 206.6 211.1 206.6 211.8 205.7 212.2 205.7 212.8 204.8 213.2 204.8 213.9 203.9 214.2 203.9 214.9 203 215.3 203 215.6 202.5 216 202.5 216.3 202.1 216.7 202.1 217 201.6 217.3 201.6 217.7 201.2 218 201.2 218.4 200.7 219.1 200.7 219.4 200.3 219.8 200.3 220.1 199.8 220.8 199.8 221.1 199.4 221.5 199.4 221.8 198.9 222.5 198.9 222.9 198.5 223.9 198.5 224.3 198 225 198 225.3 197.6 226.7 197.6 227 197.1 228.1 197.1 228.4 196.7 230.5 196.7 230.8 196.2 233.9 196.2 234.3 195.8 255.4 195.8 258.5 191.6 258.5 185.6 257.9 184.5 257.5 184.3 256.4 184.5 256.1 184.3 255 182.8 254.7 182.7 253.7 182.8 253.3 182.7 252.3 181.4 251.9 181.3 250.5 181.6 250.2 181.5 249.2 180.6 248.8 180.6 247.1 181.2 245.7 180.6 243.6 181.2 242.2 180.8 240.5 181.4 238.8 181.2 234.3 181.9 228.1 183.2 227.7 184.1 223.6 185.2 223.2 185.4 222.9 185.9 222.5 185.8 217 188 212.8 190 209 192.4 207.3 193.7 203.2 197.3 198.3 202.9 195.2 208.1 192.8 211.3 190.4 216.4 189.3 217.9 189 218.6 188.6 220.1 188.6 222.7 188.5 223.1 189 227.1 189 229.4 190 230.7Z" fill="#fcd5bf"/>
<path d="M191.4 231.6 200.8 231.6 203.2 228.5 203.2 224 203.6 223.5 203.6 222.2 203.9 221.8 203.9 220.4 204.3 220 204.3 219.1 204.6 218.6 204.6 217.7 205 217.3 205 216.8 205.3 216.4 205.3 215.9 205.6 215.5 205.6 215 206 214.6 206 214.1 206.7 213.2 206.7 212.8 207 212.3 207 211.9 208.1 210.5 208.1 210.1 210.8 206.6 211.1 206.6 211.8 205.7 212.2 205.7 212.8 204.8 213.2 204.8 213.9 203.9 214.2 203.9 214.9 203 215.3 203 215.6 202.5 216 202.5 216.3 202.1 216.7 202.1 217 201.6 217.3 201.6 217.7 201.2 218 201.2 218.4 200.7 219.1 200.7 219.4 200.3 219.8 200.3 220.1 199.8 220.8 199.8 221.1 199.4 221.5 199.4 221.8 198.9 222.5 198.9 222.9 198.5 223.9 198.5 224.3 198 225 198 225.3 197.6 226.7 197.6 227 197.1 228.1 197.1 228.4 196.7 230.5 196.7 230.8 196.2 233.9 196.2 234.3 195.8 255.4 195.8 258.5 191.6 258.5 187.9 257.9 187.6 257.1 186.4 256.8 186.2 255.4 186.3 254.4 184.8 252.6 184.6 251.6 183.4 251.2 183.3 249.9 183.5 248.5 182.5 246.7 183 245 182.5 243.3 183 241.6 182.7 239.8 183.2 238.4 183 235.7 183.4 230.8 184.2 228.1 184.9 227.7 185.8 222.5 187.2 222 187.6 221.8 188.1 221.5 187.9 218.4 189.2 212.8 192 210.4 193.5 207.3 195.9 202.1 201 196.9 208.2 194.2 212.9 192.4 214.9 191.6 217.3 191 221.3 191 224 191.7 229.4 191.6 231.2Z" fill="#f8bda1"/>
<path d="M193.1 231.6 200.8 231.6 203.2 228.5 203.2 224 203.6 223.5 203.6 222.2 203.9 221.8 203.9 220.4 204.3 220 204.3 219.1 204.6 218.6 204.6 217.7 204.9 217.3 204.9 216.8 205.3 216.4 205.3 215.9 205.6 215.5 205.6 215 206 214.6 206 214.1 206.7 213.2 206.7 212.8 207 212.3 207 211.9 208.1 210.5 208.1 210.1 210.8 206.5 211.1 206.5 211.8 205.6 212.2 205.6 212.8 204.7 213.2 204.7 213.9 203.8 214.2 203.8 214.9 202.9 215.3 202.9 215.6 202.5 216 202.5 216.3 202 216.7 202 217 201.6 217.3 201.6 217.7 201.1 218 201.1 218.4 200.7 219.1 200.7 219.4 200.2 219.8 200.2 220.1 199.8 220.8 199.8 221.1 199.4 221.5 199.4 221.8 198.9 222.5 198.9 222.9 198.5 223.9 198.5 224.3 198 225 198 225.3 197.6 226.7 197.6 227 197.1 228.1 197.1 228.4 196.7 230.5 196.7 230.8 196.2 233.9 196.2 234.3 195.8 255.4 195.8 258.5 191.6 258.5 189.4 257.5 189.4 256.4 188.1 256.1 187.9 254.7 187.9 253.7 186.5 251.9 186.3 250.9 185.1 249.2 185.1 248.1 184.3 247.8 184.2 246.1 184.6 244.7 184.1 242.6 184.6 241.2 184.2 239.5 184.7 238.1 184.6 234.3 185.2 228.8 186.5 226.3 187.8 226 187.7 225.6 188.2 225.3 187.9 221.8 189.1 221.4 189.4 221.1 189.9 220.8 189.8 217.7 191.1 214.9 192.5 212.5 194 209.4 196.2 206.3 198.9 204.9 200.3 201.1 204.8 198.3 209.2 196.2 211.9 195.6 213 194 216.8 192.6 222.7 192.6 224.9 193 231.2Z" fill="#f4a582"/>
<path d="M194.3 231.6 200.8 231.6 203.2 228.5 203.2 224 203.6 223.5 203.6 222.2 203.9 221.8 203.9 220.4 204.2 220 204.2 219.1 204.6 218.6 204.6 217.7 204.9 217.3 204.9 216.8 205.3 216.4 205.3 215.9 205.6 215.5 205.6 215 206 214.6 206 214.1 206.7 213.2 206.7 212.8 207 212.3 207 211.9 208 210.5 208 210.1 210.8 206.5 211.1 206.5 211.8 205.6 212.2 205.6 212.8 204.7 213.2 204.7 213.9 203.8 214.2 203.8 214.9 202.9 215.3 202.9 215.6 202.5 216 202.5 216.3 202 216.7 202 217 201.6 217.3 201.6 217.7 201.1 218 201.1 218.4 200.7 219.1 200.7 219.4 200.2 219.8 200.2 220.1 199.8 220.8 199.8 221.1 199.3 221.5 199.3 221.8 198.9 222.5 198.9 222.9 198.4 223.9 198.4 224.3 198 225 198 225.3 197.5 226.7 197.5 227 197.1 228.1 197.1 228.4 196.6 230.5 196.6 230.8 196.2 233.9 196.2 234.3 195.7 255.4 195.7 258.5 191.6 258.5 191.1 258.2 190.9 256.8 190.8 255.7 189.6 255.4 189.4 254 189.3 253 188 251.6 187.9 251.2 187.7 250.2 186.6 248.5 186.6 247.4 185.8 247.1 185.8 245.7 186.1 244 185.6 242.2 186 240.5 185.7 238.8 186.2 237.4 186.1 232.2 187 230.1 187.5 225.3 189.2 223.9 189.7 223.6 190.1 222.9 190.1 220.8 190.9 220.7 191.2 220.1 191.6 219.8 191.7 217 193 213.5 194.9 211.5 196.3 209 198.2 204.5 202.7 200 208.8 197.3 213.5 195.6 215.9 195 217.7 194.6 220.4 194.5 222.7 194.6 227.1 194.2 229.8 194.2 231.2ZM221.8 191.2 221.8 191.1 221.9 191.2ZM222.5 190.8 222.4 190.7 222.5 190.4 222.6 190.7Z" fill="#e7866a"/>
<path d="M195.6 231.6 200.8 231.6 203.2 228.5 203.2 224 203.5 223.5 203.5 222.2 203.9 221.8 203.9 220.4 204.2 220 204.2 219.1 204.6 218.6 204.6 217.7 204.9 217.3 204.9 216.8 205.3 216.4 205.3 215.9 205.6 215.5 205.6 215 206 214.6 206 214.1 206.7 213.2 206.7 212.8 207 212.3 207 211.9 208 210.5 208 210.1 210.8 206.5 211.1 206.5 211.8 205.6 212.2 205.6 212.8 204.7 213.2 204.7 213.9 203.8 214.2 203.8 214.9 202.9 215.3 202.9 215.6 202.5 216 202.5 216.3 202 216.7 202 217 201.6 217.3 201.6 217.7 201.1 218 201.1 218.4 200.7 219.1 200.7 219.4 200.2 219.8 200.2 220.1 199.8 220.8 199.8 221.1 199.3 221.5 199.3 221.8 198.9 222.5 198.9 222.9 198.4 223.9 198.4 224.3 198 225 198 225.3 197.5 226.7 197.5 227 197.1 228.1 197.1 228.4 196.6 230.5 196.6 230.8 196.2 233.9 196.2 234.3 195.7 255.4 195.7 257.8 192.5 257.8 192.4 257.5 192.2 256.1 192 255 190.8 253.3 190.5 252.3 189.4 250.9 189.2 249.5 188 248.1 188 246.7 187.2 246.4 187.2 245 187.4 243.6 186.9 241.6 187.3 239.8 187 238.1 187.4 236.7 187.4 232.2 188.2 225.6 190.4 222.2 191.6 220.5 192.8 220.1 192.7 220.1 193 219.4 193.6 219.1 193.3 214.2 195.9 211.8 197.6 209.4 199.6 205.3 203.8 203.8 205.6 198.9 212.8 196.1 219.5 195.8 220.9 195.6 223.5 196 228.5 195.6 231.2ZM219.1 193.9 219.1 193.8 219.1 193.9Z" fill="#d96853"/>
<path d="M197.1 231.6 200.8 231.6 203.2 228.5 203.2 224 203.5 223.5 203.5 222.2 203.9 221.8 203.9 220.4 204.2 220 204.2 219.1 204.6 218.6 204.6 217.7 204.9 217.3 204.9 216.8 205.3 216.4 205.3 215.9 205.6 215.5 205.6 215 206 214.6 206 214.1 206.6 213.2 206.6 212.8 207 212.3 207 211.9 208 210.5 208 210.1 210.8 206.5 211.1 206.5 211.8 205.6 212.2 205.6 212.8 204.7 213.2 204.7 213.9 203.8 214.2 203.8 214.9 202.9 215.3 202.9 215.6 202.5 216 202.5 216.3 202 216.7 202 217 201.6 217.3 201.6 217.7 201.1 218 201.1 218.4 200.7 219.1 200.7 219.4 200.2 219.8 200.2 220.1 199.8 220.8 199.8 221.1 199.3 221.5 199.3 221.8 198.9 222.5 198.9 222.9 198.4 223.9 198.4 224.3 198 225 198 225.3 197.5 226.7 197.5 227 197.1 228.1 197.1 228.4 196.6 230.5 196.6 230.8 196.2 233.9 196.2 234.3 195.7 255.4 195.7 257.1 193.4 255.4 193 254.4 192 253 191.8 251.9 190.7 251.6 190.5 250.2 190.4 249.2 189.4 248.8 189.3 247.4 189.3 246.1 188.5 244.3 188.6 242.9 188.1 240.9 188.5 239.1 188.2 237.4 188.6 235.7 188.6 232.6 189.3 230.1 190 226 191.4 222.5 192.8 219.4 194.4 217.7 196.3 217.5 196.1 217.5 195.7 217.3 195.6 214.6 197 210.8 199.8 207.3 203.2 203.5 208 199 215 198.3 217.3 196.9 224 196.8 225.8 197.3 229.4 197.2 231.2ZM217.3 196.6 217.3 196.4 217.4 196.6Z" fill="#ca4842"/>
<path d="M198.5 231.6 200.8 231.6 203.2 228.5 203.2 224 203.5 223.5 203.5 222.2 203.9 221.8 203.9 220.4 204.2 220 204.2 219.1 204.6 218.6 204.6 217.7 204.9 217.3 204.9 216.8 205.3 216.4 205.3 215.9 205.6 215.5 205.6 215 205.9 214.6 205.9 214.1 206.6 213.2 206.6 212.8 207 212.3 207 211.9 208 210.5 208 210.1 210.8 206.5 211.1 206.5 211.8 205.6 212.2 205.6 212.8 204.7 213.2 204.7 213.9 203.8 214.2 203.8 214.9 202.9 215.3 202.9 215.6 202.4 216 202.4 216.3 202 216.7 202 217 201.5 217.3 201.5 217.7 201.1 218 201.1 218.4 200.6 219.1 200.6 219.4 200.2 219.8 200.2 220.1 199.8 220.8 199.8 221.1 199.3 221.5 199.3 221.8 198.9 222.5 198.9 222.9 198.4 223.9 198.4 224.3 198 225 198 225.3 197.5 226.7 197.5 227 197.1 228.1 197.1 228.4 196.6 230.5 196.6 230.8 196.2 233.9 196.2 234.3 195.7 255.4 195.7 256.1 194.8 256.2 194.3 255 194.2 253.7 193 252.3 192.7 251.2 191.7 249.5 191.4 248.5 190.5 246.7 190.4 245.4 189.6 243.6 189.7 242.2 189.2 240.2 189.5 238.4 189.3 236.7 189.7 235.3 189.7 231.9 190.5 225.3 192.7 221.8 194.3 218.7 196.1 216 198.7 215.6 197.9 213.9 198.8 210.4 201.6 207 205.3 202.8 210.9 199.6 216.8 199 219.1 198.6 223.1 198.1 225.8 198.1 227.1 198.5 231.2Z" fill="#ba2833"/>
<path d="M199.7 231.6 200.7 231.6 203.2 228.5 203.2 224 203.5 223.5 203.5 222.2 203.9 221.8 203.9 220.4 204.2 220 204.2 219.1 204.6 218.6 204.6 217.7 204.9 217.3 204.9 216.8 205.2 216.4 205.2 215.9 205.6 215.5 205.6 215 205.9 214.6 205.9 214.1 206.6 213.2 206.6 212.8 207 212.3 207 211.9 208 210.5 208 210.1 210.8 206.5 211.1 206.5 211.8 205.6 212.2 205.6 212.8 204.7 213.2 204.7 213.9 203.8 214.2 203.8 214.9 202.9 215.3 202.9 215.6 202.4 216 202.4 216.3 202 216.7 202 217 201.5 217.3 201.5 217.7 201.1 218 201.1 218.4 200.6 219.1 200.6 219.4 200.2 219.8 200.2 220.1 199.7 220.8 199.7 221.1 199.3 221.5 199.3 221.8 198.8 222.5 198.8 222.9 198.4 223.9 198.4 224.3 197.9 225 197.9 225.3 197.5 226.7 197.5 227 197 228.1 197 228.4 196.6 230.5 196.6 230.8 196.1 233.9 196.1 234.3 195.7 255.4 195.7 255.4 195.2 254.4 195 253.3 194 251.6 193.5 250.5 192.6 249.2 192.5 247.8 191.5 246.1 191.4 245 190.7 242.9 190.7 241.6 190.3 239.8 190.6 237.8 190.4 236 190.8 234.6 190.8 231.5 191.6 224.6 194.1 221.5 195.6 218.4 197.4 217.3 198.2 214.9 200.6 214.6 200.8 214.2 200.4 213.9 200.4 213.2 200.7 210.4 203 207.7 206 203.2 212.3 202.2 214.1 200.2 219.1 199.9 220.4 199.4 227.1 199.7 231.2Z" fill="#b2182b"/>
<path d="M252.9 191.9 254.9 183.3 257 174.7M250.3 191.9 251.9 183.8 254.2 173 254.7 169.7 255.1 166.4 255.3 160.9 255.3 148.8 255 141.1 254.5 135.1M246.8 191.9 249.8 172.8 250.2 169 250.3 165.1 250.2 160.7 249.9 155.8 249.2 147 248.6 142.6 247.2 136.7 246.8 135.1M243.3 191.9 244.6 179.3 245.2 172.1 245.3 166.6 245 161.1 244.3 155.1 243.3 149.1 240.4 140.2 239.3 137.1 238.5 135.1M239.9 191.9 240.4 180.9 240.7 171.5 240.5 166.6 240 161.6 238.9 156.2 237.9 153.1 234.5 145 232.1 140M236.1 191.9 236.1 182.5 236 171 235.6 166.6 234.9 162.8 234.5 161.2 233.7 159.1 232.5 156.6 228.6 150.6 226 147.1M233.9 192 233.1 184.9 232.1 177.2 231.2 171.8 230.8 170.2 230.3 168.6 228.8 165.7 227.2 163.4 226.2 162.1 219.1 155.1M231.2 192.3 229.7 186.5 227.9 181.3 226.6 178.2 224.7 174.9 223.7 173.5 222.4 171.8 220.4 169.8 217.9 167.7 212.5 163.8M228.9 192.8 226.8 187.7 225.2 184.8 224.4 183.4 223.1 181.5 220.7 178.5 218.3 176.2 216.6 174.8 215.2 173.9 211.9 171.9 208.4 170.2M227.2 193.2 224.8 188.8 222.9 186.1 220.8 183.6 218.4 181.3 215.8 179.2 212.5 177.2 209 175.5 206 174.3M225.7 193.6 223.5 190.4 221.8 188.3 219.4 186 216.9 183.9 214.1 182 210.7 180.2 207.7 178.8 204 177.6M224.3 194.1 222.3 191.5 220.8 189.9 217.8 187.4 215.1 185.5 212.6 184.2 208.6 182.3 205.5 181.2 202.3 180.3M221.1 195.4 219 193.7 216.6 192.2 213.7 190.8 210.6 189.5 207.4 188.6 204.7 188 201.9 187.7 198.6 187.5M218.9 196.6 217.5 195.7 213.9 194.2 211.3 193.4 208 192.6 205.3 192.3 202.5 192.1 199.7 192.2 196.4 192.6M215.7 198.6 213 197.9 210.2 197.5 207.5 197.3 204.7 197.3 201.9 197.6 199.2 198.2 196.6 199 194 200M213.2 200.5 210.4 200.3 207.7 200.3 204.9 200.6 202.2 201.2 199.6 202 197 203.2 194.6 204.5 192.4 206.1M211.6 201.9 208.2 202.1 205.5 202.5 202.8 203.2 200.2 204.2 197.8 205.5 195.5 207 193.3 208.8 191.4 210.8M207.4 206.5 205.4 207.3 203.8 208 201.9 209.1 200.6 210.1 199.3 211.1 197.7 212.7 196.7 214 195.7 215.3 194.8 216.7 193.8 218.7 193 220.7 192.6 222.3 192.1 224.5 191.9 226.7 191.8 228.9 191.9 230.5M203.2 213.7 201.7 215.4 200.4 217.2 199.4 219.1 198.4 221.7 197.8 223.8 197.5 226 197.4 228.2 197.6 230.4" fill="none" stroke="#111" stroke-width="0.45" stroke-opacity="0.8"/>
<path d="M254.4 185.4 254.6 186.7 253.7 186.5ZM251.6 185.3 251.8 186.6 250.9 186.4ZM254.1 173.5 254.3 174.8 253.4 174.6ZM254.7 137.2 255.3 138.4 254.3 138.5ZM247.8 185.3 248.1 186.6 247.1 186.4ZM249.7 173.3 250 174.6 249.1 174.5ZM250.2 161.2 250.7 162.4 249.8 162.5ZM249.4 149.1 250 150.3 249.1 150.4ZM247.3 137.2 248.1 138.3 247.1 138.5ZM244 185.2 244.3 186.5 243.4 186.4ZM245.1 173.2 245.5 174.4 244.6 174.4ZM245 161.1 245.6 162.3 244.6 162.3ZM243.3 149.1 244 150.2 243.1 150.4ZM239.4 137.6 240.3 138.6 239.3 138.9ZM240.3 185.2 240.7 186.5 239.7 186.4ZM240.7 173.1 241.1 174.3 240.2 174.3ZM239.9 161 240.5 162.2 239.6 162.3ZM236.3 149.5 237.3 150.4 236.4 150.8ZM236.1 185.2 236.6 186.4 235.6 186.4ZM236 173.1 236.5 174.3 235.6 174.3ZM234.5 161.1 235.3 162.2 234.4 162.4ZM228.6 150.6 229.6 151.3 228.8 151.9ZM233.2 185.4 233.8 186.5 232.9 186.6ZM231.5 173.4 232.1 174.5 231.2 174.7ZM226.5 162.5 227.7 163.1 226.9 163.8ZM229.5 185.9 230.3 186.9 229.4 187.2ZM224.7 174.8 225.7 175.6 224.9 176.1ZM216.1 166.3 217.4 166.7 216.8 167.4ZM226.3 186.6 227.3 187.5 226.4 188ZM219.1 176.9 220.3 177.4 219.6 178.1ZM223.9 187.4 225 188.2 224.2 188.7ZM215.3 178.9 216.6 179.2 216.1 180ZM221.7 188.2 222.9 188.9 222.2 189.5ZM212.1 180.9 213.5 181.1 213 181.9ZM219.9 189.1 221.1 189.6 220.5 190.3ZM209.6 182.8 210.9 182.8 210.5 183.7ZM215.6 191.7 216.9 191.8 216.5 192.7ZM204.1 187.9 205.4 187.7 205.2 188.6ZM212.8 193.8 214.1 193.8 213.8 194.7ZM200.8 192.1 202 191.6 202 192.6ZM209.1 197.4 210.3 197 210.3 198ZM197 198.8 198.1 198 198.4 198.9ZM206.5 200.4 207.7 199.8 207.8 200.8ZM195 204.3 195.9 203.2 196.4 204ZM204.9 202.7 206 201.9 206.2 202.9ZM194.1 208.1 194.8 206.9 195.4 207.7ZM201.4 209.5 202.2 208.4 202.7 209.2ZM193.8 218.7 193.9 217.4 194.8 217.8ZM199.3 219.2 199.4 217.8 200.3 218.3Z" fill="#111"/>
</g>
<g stroke="#444" fill="none">
<path d="M181.6 136.9 V228.7 H274" stroke-width="0.5"/>
<path d="M181.6 228.7h2.4M181.6 225h1.1M181.6 221.4h1.1M181.6 217.7h1.1M181.6 214h1.1M181.6 210.3h2.4M181.6 206.7h1.1M181.6 203h1.1M181.6 199.3h1.1M181.6 195.7h1.1M181.6 192h2.4M181.6 188.3h1.1M181.6 184.6h1.1M181.6 181h1.1M181.6 177.3h1.1M181.6 173.6h2.4M181.6 169.9h1.1M181.6 166.3h1.1M181.6 162.6h1.1M181.6 158.9h1.1M181.6 155.3h2.4M181.6 151.6h1.1M181.6 147.9h1.1M181.6 144.2h1.1M181.6 140.6h1.1M181.6 136.9h2.4M181.6 228.7v-2.4M185.3 228.7v-1.1M189 228.7v-1.1M192.7 228.7v-1.1M196.4 228.7v-1.1M200.1 228.7v-2.4M203.8 228.7v-1.1M207.5 228.7v-1.1M211.2 228.7v-1.1M214.9 228.7v-1.1M218.6 228.7v-2.4M222.2 228.7v-1.1M225.9 228.7v-1.1M229.6 228.7v-1.1M233.3 228.7v-1.1M237 228.7v-2.4M240.7 228.7v-1.1M244.4 228.7v-1.1M248.1 228.7v-1.1M251.8 228.7v-1.1M255.5 228.7v-2.4M259.2 228.7v-1.1M262.9 228.7v-1.1M266.6 228.7v-1.1M270.3 228.7v-1.1M274 228.7v-2.4" stroke-width="0.45"/>
</g>
<g font-family="Liberation Sans, sans-serif" font-size="3" font-weight="bold" fill="#222">
<text x="180.4" y="137.9" text-anchor="end">2.5</text>
<text x="180.4" y="156.3" text-anchor="end">2</text>
<text x="180.4" y="174.7" text-anchor="end">1.5</text>
<text x="180.4" y="193" text-anchor="end">1</text>
<text x="180.4" y="211.4" text-anchor="end">0.5</text>
<text x="180.4" y="229.8" text-anchor="end">0</text>
<text x="181.6" y="231.8" text-anchor="middle">-1.5</text>
<text x="200.1" y="231.8" text-anchor="middle">-1</text>
<text x="218.6" y="231.8" text-anchor="middle">-0.5</text>
<text x="237" y="231.8" text-anchor="middle">0</text>
<text x="255.5" y="231.8" text-anchor="middle">0.5</text>
<text x="274" y="231.8" text-anchor="middle">1</text>
</g>
<g font-family="Liberation Sans, sans-serif" font-size="4" font-weight="bold" fill="#000">
<text x="227.8" y="236.3" text-anchor="middle">x</text>
<text x="173" y="183.8" text-anchor="middle">y</text>
</g>
<rect x="261.6" y="148.1" width="13.6" height="41" fill="#fff" stroke="#999" stroke-width="0.5"/>
<rect x="263.1" y="154.50" width="3.9" height="1.87" fill="#ba2732"/>
<rect x="263.1" y="156.22" width="3.9" height="1.87" fill="#c94540"/>
<rect x="263.1" y="157.93" width="3.9" height="1.87" fill="#d86450"/>
<rect x="263.1" y="159.65" width="3.9" height="1.87" fill="#e48166"/>
<rect x="263.1" y="161.36" width="3.9" height="1.87" fill="#f19e7c"/>
<rect x="263.1" y="163.08" width="3.9" height="1.87" fill="#f7b698"/>
<rect x="263.1" y="164.79" width="3.9" height="1.87" fill="#fbcdb5"/>
<rect x="263.1" y="166.51" width="3.9" height="1.87" fill="#fcdfcf"/>
<rect x="263.1" y="168.23" width="3.9" height="1.87" fill="#faebe3"/>
<rect x="263.1" y="169.94" width="3.9" height="1.87" fill="#f7f7f7"/>
<rect x="263.1" y="171.66" width="3.9" height="1.87" fill="#e7eff4"/>
<rect x="263.1" y="173.37" width="3.9" height="1.87" fill="#d7e8f1"/>
<rect x="263.1" y="175.09" width="3.9" height="1.87" fill="#c0ddeb"/>
<rect x="263.1" y="176.81" width="3.9" height="1.87" fill="#a6cfe4"/>
<rect x="263.1" y="178.52" width="3.9" height="1.87" fill="#8ac0db"/>
<rect x="263.1" y="180.24" width="3.9" height="1.87" fill="#68abd0"/>
<rect x="263.1" y="181.95" width="3.9" height="1.87" fill="#4796c4"/>
<rect x="263.1" y="183.67" width="3.9" height="1.87" fill="#3682bb"/>
<rect x="263.1" y="185.38" width="3.9" height="1.87" fill="#286fb1"/>
<g font-family="Liberation Sans, sans-serif" font-size="2.4" font-weight="bold" fill="#222">
<text x="268.4" y="156.7">1</text>
<text x="268.4" y="160.1">0.9</text>
<text x="268.4" y="163.5">0.8</text>
<text x="268.4" y="166.9">0.7</text>
<text x="268.4" y="170.3">0.6</text>
<text x="268.4" y="173.7">0.5</text>
<text x="268.4" y="177.1">0.4</text>
<text x="268.4" y="180.5">0.3</text>
<text x="268.4" y="183.9">0.2</text>
<text x="268.4" y="187.3">0.1</text>
</g>
<text x="274.4" y="152" font-family="Liberation Sans, sans-serif" font-size="2.8" font-weight="bold" fill="#111" text-anchor="end">B<tspan font-size="2" dy="0.6">t</tspan><tspan dy="-0.6">/B</tspan><tspan font-size="2" dy="0.6">0</tspan></text>
<text x="227.5" y="250.3" font-family="Liberation Serif, serif" font-size="6.35" fill="#222" text-anchor="middle">(e) <tspan font-style="italic">Ma</tspan><tspan font-size="4.6" dy="1.1">∞</tspan><tspan dy="-1.1"> = 25, total magnetic field.</tspan></text>
<g mask="url(#cpf)">
<rect x="317.9" y="134.7" width="80" height="97" fill="#4c99c6"/>
<path d="M324.2 231.2 324.6 231.6 334.2 231.6 336.6 228.5 336.6 224 337 223.5 337 222.2 337.3 221.8 337.3 220.4 337.7 220 337.7 219.1 338 218.6 338 217.7 338.3 217.3 338.3 216.8 338.7 216.4 338.7 215.9 339 215.5 339 215 339.4 214.6 339.4 214.1 340.1 213.2 340.1 212.8 340.4 212.3 340.4 211.9 341.5 210.5 341.5 210.1 344.1 206.7 344.4 206.7 345.1 205.8 345.5 205.8 346.1 204.9 346.5 204.9 347.2 204 347.5 204 348.2 203.1 348.6 203.1 348.9 202.6 349.3 202.6 349.6 202.2 350 202.2 350.3 201.7 350.6 201.7 351 201.3 351.3 201.3 351.7 200.8 352.4 200.8 352.7 200.4 353.1 200.4 353.4 199.9 354.1 199.9 354.4 199.5 354.8 199.5 355.1 199 355.8 199 356.2 198.6 357.2 198.6 357.6 198.1 358.3 198.1 358.6 197.7 360 197.7 360.3 197.2 361.4 197.2 361.7 196.8 363.8 196.8 364.1 196.3 367.2 196.3 367.6 195.9 388.7 195.9 391.9 191.6 391.9 137.3 388.7 133.2 377.4 133.2 371.2 140.9 370.4 142.3 369 143.7 366.6 145.6 365.5 146.9 364.6 148.5 363.9 149 362.8 149.4 361.7 151.7 360.7 153.1 360.3 153.4 358.8 153.4 358.6 153 358.5 152.1 358.6 151.2 359 150.3 358.6 150.3 342.6 171 342.6 171.4 339.9 175 339.9 175.5 338.1 177.7 338.1 178.2 336.7 180 336.7 180.4 335.4 182.2 335.4 182.7 334.3 184 334.3 184.5 333.6 185.4 333.6 185.8 332.9 186.7 332.9 187.2 332.2 188 332.2 188.5 331.6 189.4 331.5 189.8 330.9 190.7 330.9 191.2 330.5 191.6 330.5 192.1 329.8 193 329.8 193.4 329.5 193.9 329.5 194.3 329.1 194.8 329.1 195.2 328.4 196.1 328.4 196.6 328.1 197 328.1 197.5 327.7 197.9 327.7 198.4 327.4 198.8 327.4 199.3 327 199.7 327 200.6 326.7 201.1 326.7 201.5 326.3 202 326.3 202.4 326 202.9 326 203.8 325.7 204.2 325.7 204.7 325.3 205.1 325.3 206 325 206.5 325 207.4 324.6 207.8 324.6 208.7 324.3 209.2 324.3 210.5 323.9 211 323.9 211.9 323.6 212.3 323.6 214.1 323.2 214.6 323.2 216.4 322.9 216.8 322.9 219.1 322.5 219.5 322.5 223.1 322.2 223.5 322.2 228.5 324 230.9ZM366.2 141.3 366.2 141.3ZM366.6 140.9 366.6 141.1 366.8 140.9 366.6 140.9ZM366.9 140.4 366.9 140.8 367.1 140.4 366.9 140.4ZM367.2 140 367.2 140.2 367.2 140Z" fill="#6fafd2"/>
<path d="M324.3 231.2 324.6 231.6 334.2 231.6 336.6 228.5 336.6 224 336.9 223.5 336.9 222.2 337.3 221.8 337.3 220.4 337.6 220 337.6 219.1 338 218.6 338 217.7 338.3 217.3 338.3 216.8 338.7 216.4 338.7 215.9 339 215.5 339 215 339.4 214.6 339.4 214.1 340.1 213.2 340.1 212.8 340.4 212.3 340.4 211.9 341.4 210.5 341.4 210.1 344.1 206.7 344.4 206.7 345.1 205.8 345.5 205.8 346.1 204.9 346.5 204.9 347.2 204 347.5 204 348.2 203.1 348.6 203.1 348.9 202.6 349.3 202.6 349.6 202.2 350 202.2 350.3 201.7 350.6 201.7 351 201.3 351.3 201.3 351.7 200.8 352.4 200.8 352.7 200.4 353.1 200.4 353.4 199.9 354.1 199.9 354.4 199.5 354.8 199.5 355.1 199 355.8 199 356.2 198.6 357.2 198.6 357.6 198.1 358.3 198.1 358.6 197.7 360 197.7 360.3 197.2 361.4 197.2 361.7 196.8 363.8 196.8 364.1 196.3 367.2 196.3 367.6 195.9 388.7 195.9 391.9 191.6 391.8 137.3 388.7 133.2 381.2 133.2 375.4 141.3 375.1 142.2 374.2 143.5 371.1 147.6 369.8 149 369 149.2 367.6 149.4 366.7 149.9 365.8 151.7 365 153.9 363.3 154.3 362.5 154.8 361.9 157 361.4 158 360.7 158.5 360 158.5 356.9 157.9 355.8 157 355 155.2 354.8 155.2 342.6 171 342.6 171.4 339.9 175 339.9 175.5 338.1 177.7 338.1 178.2 336.8 180 336.8 180.4 335.4 182.2 335.4 182.7 334.3 184 334.3 184.5 333.6 185.4 333.6 185.8 333 186.7 333 187.2 332.3 188 332.3 188.5 331.6 189.4 331.6 189.8 330.9 190.7 330.9 191.2 330.5 191.6 330.5 192.1 329.8 193 329.8 193.4 329.5 193.9 329.5 194.3 329.1 194.8 329.1 195.2 328.4 196.1 328.4 196.6 328.1 197 328.1 197.5 327.7 197.9 327.7 198.4 327.4 198.8 327.4 199.3 327.1 199.7 327.1 200.6 326.7 201.1 326.7 201.5 326.4 202 326.4 202.4 326 202.9 326 203.8 325.7 204.2 325.7 204.7 325.3 205.1 325.3 206 325 206.5 325 207.4 324.6 207.8 324.6 208.7 324.3 209.2 324.3 210.5 323.9 211 323.9 211.9 323.6 212.3 323.6 214.1 323.2 214.6 323.2 216.4 322.9 216.8 322.9 219.1 322.5 219.5 322.5 223.1 322.2 223.5 322.2 228.5 324 230.9ZM365.2 167.9 364.8 167.8 364.5 167.4 364.8 166.8 365.2 166.8 365.5 167.2 365.5 167.6 365.3 167.8Z" fill="#92c5de"/>
<path d="M324.3 231.2 324.6 231.6 334.2 231.6 336.6 228.5 336.6 224 336.9 223.5 336.9 222.2 337.3 221.8 337.3 220.4 337.6 220 337.6 219.1 338 218.6 338 217.7 338.3 217.3 338.3 216.8 338.7 216.4 338.7 215.9 339 215.5 339 215 339.4 214.6 339.4 214.1 340.1 213.2 340.1 212.8 340.4 212.3 340.4 211.9 341.4 210.5 341.4 210.1 344.1 206.6 344.4 206.6 345.1 205.7 345.5 205.7 346.1 204.8 346.5 204.8 347.2 203.9 347.5 203.9 348.2 203 348.6 203 348.9 202.6 349.3 202.6 349.6 202.1 350 202.1 350.3 201.7 350.6 201.7 351 201.3 351.3 201.3 351.7 200.8 352.4 200.8 352.7 200.4 353.1 200.4 353.4 199.9 354.1 199.9 354.4 199.5 354.8 199.5 355.1 199 355.8 199 356.2 198.6 357.2 198.6 357.6 198.1 358.3 198.1 358.6 197.7 360 197.7 360.3 197.2 361.4 197.2 361.7 196.8 363.8 196.8 364.1 196.3 367.2 196.3 367.6 195.9 388.7 195.9 391.9 191.6 391.8 137.3 388.7 133.2 384.6 133.2 382.4 136.8 373.2 149 372.8 149.4 371.5 150.3 369 152.9 367.7 153.9 365.9 154.8 364.9 157.9 364.3 161.5 364.5 162.9 365.5 164.6 366.5 167.4 366.5 167.8 366.2 168.7 365.5 169.5 365.2 169.6 364.5 169.5 363.8 169.1 363 168.3 362.5 167.4 362.2 165.1 361.7 164.2 354.1 160.2 353.4 159.5 352.7 158.2 352.4 158.4 342.7 171 342.7 171.4 339.9 175 339.9 175.5 338.2 177.7 338.2 178.2 336.8 180 336.8 180.4 335.4 182.2 335.4 182.7 334.4 184 334.4 184.5 333.7 185.4 333.7 185.8 333 186.7 333 187.2 332.3 188 332.3 188.5 331.6 189.4 331.6 189.8 330.9 190.7 330.9 191.2 330.5 191.6 330.5 192.1 329.8 193 329.8 193.4 329.5 193.9 329.5 194.3 329.1 194.8 329.1 195.2 328.5 196.1 328.5 196.6 328.1 197 328.1 197.5 327.8 197.9 327.8 198.4 327.4 198.8 327.4 199.3 327.1 199.7 327.1 200.6 326.7 201.1 326.7 201.5 326.4 202 326.4 202.4 326 202.9 326 203.8 325.7 204.2 325.7 204.7 325.3 205.1 325.3 206 325 206.5 325 207.4 324.6 207.8 324.6 208.7 324.3 209.2 324.3 210.5 323.9 211 323.9 211.9 323.6 212.3 323.6 214.1 323.2 214.6 323.2 216.4 322.9 216.8 322.9 219.1 322.5 219.5 322.5 223.1 322.2 223.5 322.2 228.5 324 230.9Z" fill="#aed3e6"/>
<path d="M324.3 231.2 324.6 231.6 334.2 231.6 336.6 228.5 336.6 224 336.9 223.5 336.9 222.2 337.3 221.8 337.3 220.4 337.6 220 337.6 219.1 338 218.6 338 217.7 338.3 217.3 338.3 216.8 338.7 216.4 338.7 215.9 339 215.5 339 215 339.4 214.6 339.4 214.1 340 213.2 340 212.8 340.4 212.3 340.4 211.9 341.4 210.5 341.4 210.1 344.1 206.6 344.4 206.6 345.1 205.7 345.5 205.7 346.1 204.8 346.5 204.8 347.2 203.9 347.5 203.9 348.2 203 348.6 203 348.9 202.6 349.3 202.6 349.6 202.1 350 202.1 350.3 201.7 350.6 201.7 351 201.2 351.3 201.2 351.7 200.8 352.4 200.8 352.7 200.3 353.1 200.3 353.4 199.9 354.1 199.9 354.4 199.4 354.8 199.4 355.1 199 355.8 199 356.2 198.5 357.2 198.5 357.6 198.1 358.3 198.1 358.6 197.6 360 197.6 360.3 197.2 361.4 197.2 361.7 196.7 363.8 196.7 364.1 196.3 367.2 196.3 367.6 195.8 388.7 195.8 391.9 191.6 391.8 137.3 388.7 133.2 387.7 133.2 382.2 140.4 380 142.9 374.9 149.4 370.4 154.2 368.2 155.2 367.6 155.8 366.5 157.9 365.8 160.6 365.9 162 366.7 166.5 366.8 167.8 366.2 169.7 365.9 170.3 365.2 171 364.5 171.1 363.4 170.6 362.1 169.2 360.3 166.3 359.6 165.7 358.3 165 357.2 164.7 350 165.9 348.9 165.5 348.6 165 348.2 164 347.9 164.2 342.7 171 342.7 171.4 339.9 175 339.9 175.5 338.2 177.7 338.2 178.2 336.8 180 336.8 180.4 335.4 182.2 335.4 182.7 334.4 184 334.4 184.5 333.7 185.4 333.7 185.8 333 186.7 333 187.2 332.3 188 332.3 188.5 331.6 189.4 331.6 189.8 330.9 190.7 330.9 191.2 330.5 191.6 330.5 192.1 329.9 193 329.9 193.4 329.5 193.9 329.5 194.3 329.2 194.8 329.2 195.2 328.5 196.1 328.5 196.6 328.1 197 328.1 197.5 327.8 197.9 327.8 198.4 327.4 198.8 327.4 199.3 327.1 199.7 327.1 200.6 326.7 201.1 326.7 201.5 326.4 202 326.4 202.4 326 202.9 326 203.8 325.7 204.2 325.7 204.7 325.3 205.1 325.3 206 325 206.5 325 207.4 324.6 207.8 324.6 208.7 324.3 209.2 324.3 210.5 323.9 211 323.9 211.9 323.6 212.3 323.6 214.1 323.2 214.6 323.2 216.4 322.9 216.8 322.9 219.1 322.6 219.5 322.6 223.1 322.2 223.5 322.2 228.5 324 230.8ZM379 158 378 157.5 377.6 157.1 377.5 155.7 378.3 155.3 379.4 155.2 380.7 155.2 382.1 155.4 384.2 156.1 383.2 157.4 382.5 158 381.8 158.3 379.4 158.1Z" fill="#cae1ee"/>
<path d="M324.3 231.2 324.6 231.6 334.2 231.6 336.6 228.5 336.6 224 336.9 223.5 336.9 222.2 337.3 221.8 337.3 220.4 337.6 220 337.6 219.1 338 218.6 338 217.7 338.3 217.3 338.3 216.8 338.6 216.4 338.6 215.9 339 215.5 339 215 339.3 214.6 339.3 214.1 340 213.2 340 212.8 340.4 212.3 340.4 211.9 341.4 210.5 341.4 210.1 344.1 206.6 344.4 206.6 345.1 205.7 345.5 205.7 346.1 204.8 346.5 204.8 347.2 203.9 347.5 203.9 348.2 203 348.6 203 348.9 202.6 349.3 202.6 349.6 202.1 350 202.1 350.3 201.7 350.6 201.7 351 201.2 351.3 201.2 351.7 200.8 352.4 200.8 352.7 200.3 353.1 200.3 353.4 199.9 354.1 199.9 354.4 199.4 354.8 199.4 355.1 199 355.8 199 356.2 198.5 357.2 198.5 357.6 198.1 358.3 198.1 358.6 197.6 360 197.6 360.3 197.2 361.4 197.2 361.7 196.7 363.8 196.7 364.1 196.3 367.2 196.3 367.6 195.8 388.7 195.8 391.9 191.6 391.8 160.8 389 161 388 161.3 383.5 164.2 381.8 164.9 379.7 164.9 371.4 164.5 370.7 164.1 370.5 162.9 371 161.1 372.7 156.6 372.6 155.7 372.4 155.5 372.1 155.5 371.1 156 369.7 157 368.3 158 367.6 158.8 367.2 159.7 367 161.1 367.1 166.5 367 167.8 366.7 169.2 366.2 170.4 365.5 171.6 362.7 173.9 362.4 174.1 361.7 174.1 360 172.9 359.6 172.3 358.9 169.8 358.3 169.3 357.2 169.3 354.1 169.9 350.3 170 346.1 170.7 345.1 170.5 344.1 169.4 343.7 169.6 342.7 171 342.7 171.4 339.9 175 339.9 175.5 338.2 177.7 338.2 178.2 336.8 180 336.8 180.4 335.4 182.2 335.4 182.7 334.4 184 334.4 184.5 333.7 185.4 333.7 185.8 333 186.7 333 187.2 332.3 188 332.3 188.5 331.6 189.4 331.6 189.8 330.9 190.7 330.9 191.2 330.6 191.6 330.6 192.1 329.9 193 329.9 193.4 329.5 193.9 329.5 194.3 329.2 194.8 329.2 195.2 328.5 196.1 328.5 196.6 328.1 197 328.1 197.5 327.8 197.9 327.8 198.4 327.4 198.8 327.4 199.3 327.1 199.7 327.1 200.6 326.7 201.1 326.7 201.5 326.4 202 326.4 202.4 326 202.9 326 203.8 325.7 204.2 325.7 204.7 325.4 205.1 325.4 206 325 206.5 325 207.4 324.7 207.8 324.7 208.7 324.3 209.2 324.3 210.5 324 211 324 211.9 323.6 212.3 323.6 214.1 323.3 214.6 323.3 216.4 322.9 216.8 322.9 219.1 322.6 219.5 322.6 223.1 322.2 223.5 322.2 228.5 324 230.8ZM373.5 154.3 374.4 154.3 374.2 154.1 373.8 154.2ZM384.4 142.7 384.5 143 385.2 142.7 385.5 142.2 387.3 141.1 388.3 140 388.9 138.6 389 137.5 388.7 137.1 388.3 137.2 387.7 137.6 385.9 139.7 385.3 140.9 385 142.2 384.5 142.6Z" fill="#deebf2"/>
<path d="M324.3 231.2 324.6 231.6 334.1 231.6 336.6 228.5 336.6 224 336.9 223.5 336.9 222.2 337.3 221.8 337.3 220.4 337.6 220 337.6 219.1 337.9 218.6 337.9 217.7 338.3 217.3 338.3 216.8 338.6 216.4 338.6 215.9 339 215.5 339 215 339.3 214.6 339.3 214.1 340 213.2 340 212.8 340.4 212.3 340.4 211.9 341.4 210.5 341.4 210.1 344.1 206.6 344.4 206.6 345.1 205.7 345.5 205.7 346.1 204.8 346.5 204.8 347.2 203.9 347.5 203.9 348.2 203 348.6 203 348.9 202.6 349.3 202.6 349.6 202.1 350 202.1 350.3 201.7 350.6 201.7 351 201.2 351.3 201.2 351.7 200.8 352.4 200.8 352.7 200.3 353.1 200.3 353.4 199.9 354.1 199.9 354.4 199.4 354.8 199.4 355.1 199 355.8 199 356.2 198.5 357.2 198.5 357.6 198.1 358.3 198.1 358.6 197.6 360 197.6 360.3 197.2 361.4 197.2 361.7 196.7 363.8 196.7 364.1 196.3 367.2 196.3 367.6 195.8 388.7 195.8 391.9 191.6 391.8 166.6 388.3 166.5 387 167 383.5 168.9 382.1 169.5 376.6 170.3 373.8 170.5 371.4 170.5 370.4 170.6 370 170.4 369.6 169.6 369.3 168.3 369 167.8 367.9 167.1 367.6 167.2 366.7 170.1 366.1 171.4 361.8 176.4 362.1 176.7 362.4 176.2 362.7 176.7 363.1 176.8 363.1 177.3 361.4 177.5 361.3 177.3 361.6 176.8 361.4 176.6 360.7 177.3 360 177.7 359.6 177.7 358.6 177 357.3 176.8 356.9 176.3 356.1 174.1 355.5 173.6 354.8 173.5 348.2 174.2 346.8 174.8 345.5 175.8 344.1 177.5 341.5 181.8 340.3 183.3 338.9 184.4 333.3 187.9 332 188.9 331.6 189.4 331.6 189.8 330.9 190.7 330.9 191.2 330.6 191.6 330.6 192.1 329.9 193 329.9 193.4 329.5 193.9 329.5 194.3 329.2 194.8 329.2 195.2 328.5 196.1 328.5 196.6 328.1 197 328.1 197.5 327.8 197.9 327.8 198.4 327.5 198.8 327.5 199.3 327.1 199.7 327.1 200.6 326.8 201.1 326.8 201.5 326.4 202 326.4 202.4 326.1 202.9 326.1 203.8 325.7 204.2 325.7 204.7 325.4 205.1 325.4 206 325 206.5 325 207.4 324.7 207.8 324.7 208.7 324.3 209.2 324.3 210.5 324 211 324 211.9 323.6 212.3 323.6 214.1 323.3 214.6 323.3 216.4 322.9 216.8 322.9 219.1 322.6 219.5 322.6 223.1 322.2 223.5 322.2 228.5 324 230.8Z" fill="#eff3f5"/>
<path d="M324.3 231.2 324.7 231.6 334.1 231.6 336.6 228.5 336.6 224 336.9 223.5 336.9 222.2 337.2 221.8 337.2 220.4 337.6 220 337.6 219.1 337.9 218.6 337.9 217.7 338.3 217.3 338.3 216.8 338.6 216.4 338.6 215.9 339 215.5 339 215 339.3 214.6 339.3 214.1 340 213.2 340 212.8 340.4 212.3 340.4 211.9 341.4 210.5 341.4 210.1 344.1 206.6 344.4 206.6 345.1 205.7 345.5 205.7 346.1 204.8 346.5 204.8 347.2 203.9 347.5 203.9 348.2 203 348.6 203 348.9 202.5 349.3 202.5 349.6 202.1 350 202.1 350.3 201.6 350.6 201.6 351 201.2 351.3 201.2 351.7 200.8 352.4 200.8 352.7 200.3 353.1 200.3 353.4 199.9 354.1 199.9 354.4 199.4 354.8 199.4 355.1 199 355.8 199 356.2 198.5 357.2 198.5 357.6 198.1 358.3 198.1 358.6 197.6 360 197.6 360.3 197.2 361.4 197.2 361.7 196.7 363.8 196.7 364.1 196.3 367.2 196.3 367.6 195.8 388.7 195.8 391.9 191.6 391.8 171.6 389 171 387.7 171.1 382.5 172.8 378 173.4 374.5 174.2 371.7 175.1 369 176.2 366.2 176.9 365.2 176.9 364.1 176.7 363.7 176.4 363.1 175.4 362.7 175.9 364.7 178.6 364.9 179.1 364.8 179.5 361 180.1 357.2 180.9 357.4 180.4 357.2 180.2 356.9 180.5 356.5 180.4 356.2 180.9 355.8 180.8 355.2 181.3 355.1 181.8 353.9 180.9 353.1 178.9 352.5 178.2 351.7 177.9 350.3 178.2 348.9 178.9 347.5 179.9 343.6 184 340.6 186.7 333.7 191.5 330.6 193.9 329.2 195.1 328.5 196.1 328.5 196.6 328.2 197 328.2 197.5 327.8 197.9 327.8 198.4 327.5 198.8 327.5 199.3 327.1 199.7 327.1 200.6 326.8 201.1 326.8 201.5 326.4 202 326.4 202.4 326.1 202.9 326.1 203.8 325.7 204.2 325.7 204.7 325.4 205.1 325.4 206 325 206.5 325 207.4 324.7 207.8 324.7 208.7 324.3 209.2 324.3 210.5 324 211 324 211.9 323.6 212.3 323.6 214.1 323.3 214.6 323.3 216.4 322.9 216.8 322.9 219.1 322.6 219.5 322.6 223.1 322.2 223.5 322.2 228.5 324 230.8ZM354.8 183.7 354.7 183.6 354.8 183.3 354.9 183.6ZM355.5 182.3 355.3 182.2 355.5 181.9 355.6 182.2ZM357.6 180 357.9 180.3 358.2 180 357.9 179.7ZM358.8 179.1 358.9 179.3 359.1 179.1 358.9 178.9ZM359.9 178.2 360 178.3 360 178.1Z" fill="#f8f1ec"/>
<path d="M324.3 231.2 324.7 231.6 334.1 231.6 336.5 228.5 336.5 224 336.9 223.5 336.9 222.2 337.2 221.8 337.2 220.4 337.6 220 337.6 219.1 337.9 218.6 337.9 217.7 338.3 217.3 338.3 216.8 338.6 216.4 338.6 215.9 339 215.5 339 215 339.3 214.6 339.3 214.1 340 213.2 340 212.8 340.3 212.3 340.3 211.9 341.4 210.5 341.4 210.1 344.1 206.6 344.4 206.6 345.1 205.7 345.5 205.7 346.1 204.8 346.5 204.8 347.2 203.9 347.5 203.9 348.2 203 348.6 203 348.9 202.5 349.3 202.5 349.6 202.1 350 202.1 350.3 201.6 350.6 201.6 351 201.2 351.3 201.2 351.7 200.7 352.4 200.7 352.7 200.3 353.1 200.3 353.4 199.8 354.1 199.8 354.4 199.4 354.8 199.4 355.1 198.9 355.8 198.9 356.2 198.5 357.2 198.5 357.6 198 358.3 198 358.6 197.6 360 197.6 360.3 197.1 361.4 197.1 361.7 196.7 363.8 196.7 364.1 196.2 367.2 196.2 367.6 195.8 388.7 195.8 391.9 191.6 391.8 175.8 389 174.9 387.7 174.8 382.8 175.8 378 175.9 374.5 176.5 371.7 177.4 370 178.2 366.2 179.6 366.1 180 366.9 181.4 361.7 182.1 356.2 183.4 354.8 184 354.3 184.5 354.3 184.9 353.8 185.5 353.5 185.4 353.4 184.9 351.7 185.3 351 185 349.6 183.8 348.6 183.9 345.5 185.8 340.3 190 334 194.4 331.3 196.9 329.1 199.3 326.9 202.4 325.4 205.1 325.4 206 325 206.5 325 207.4 324.7 207.8 324.7 208.7 324.3 209.2 324.3 210.5 324 211 324 211.9 323.6 212.3 323.6 214.1 323.3 214.6 323.3 216.4 322.9 216.8 322.9 219.1 322.6 219.5 322.6 223.1 322.3 223.5 322.3 228.5 324 230.8ZM353.1 186.7 353.1 186.7ZM353.6 184.9 353.8 184.9 353.8 184.8ZM356.4 181.3 356.5 181.5 356.5 181.2Z" fill="#fbe4d7"/>
<path d="M324.3 231.2 324.7 231.6 334.1 231.6 336.5 228.5 336.5 224 336.9 223.5 336.9 222.2 337.2 221.8 337.2 220.4 337.6 220 337.6 219.1 337.9 218.6 337.9 217.7 338.3 217.3 338.3 216.8 338.6 216.4 338.6 215.9 339 215.5 339 215 339.3 214.6 339.3 214.1 340 213.2 340 212.8 340.3 212.3 340.3 211.9 341.4 210.5 341.4 210.1 344.1 206.6 344.4 206.6 345.1 205.7 345.5 205.7 346.1 204.8 346.5 204.8 347.2 203.9 347.5 203.9 348.2 203 348.6 203 348.9 202.5 349.3 202.5 349.6 202.1 350 202.1 350.3 201.6 350.6 201.6 351 201.2 351.3 201.2 351.7 200.7 352.4 200.7 352.7 200.3 353.1 200.3 353.4 199.8 354.1 199.8 354.4 199.4 354.8 199.4 355.1 198.9 355.8 198.9 356.2 198.5 357.2 198.5 357.6 198 358.3 198 358.6 197.6 360 197.6 360.3 197.1 361.4 197.1 361.7 196.7 363.8 196.7 364.1 196.2 367.2 196.2 367.6 195.8 388.7 195.8 391.9 191.6 391.8 179.2 388.7 178.1 387.3 178 382.5 178.4 379 178.2 376.6 178.3 372.1 179 367.2 180.9 367.2 181.3 367.9 182.2 367.2 182.8 366.9 182.8 366.2 183.6 365.9 183.4 364.5 183.5 359.3 184.5 356.5 185.3 353.4 186.4 353.4 186.7 352.7 187.3 352.4 187.1 351.7 187.6 350.6 187.8 346.8 188.3 345.8 188.6 343.7 189.9 337.5 194.6 334.1 197.5 331.3 200.5 328.9 203.8 326.9 207.4 324.4 210.3 324 211 324 211.9 323.7 212.3 323.7 214.1 323.3 214.6 323.3 216.4 323 216.8 323 219.1 322.6 219.5 322.6 223.1 322.3 223.5 322.3 224.9 322.3 228.5 324 230.8ZM352.4 188.2 352.2 188 352.4 187.6 352.5 188ZM365.5 184 365.5 183.7 365.6 184Z" fill="#fcd5bf"/>
<path d="M324.3 231.2 324.7 231.6 334.1 231.6 336.5 228.5 336.5 224 336.9 223.5 336.9 222.2 337.2 221.8 337.2 220.4 337.6 220 337.6 219.1 337.9 218.6 337.9 217.7 338.3 217.3 338.3 216.8 338.6 216.4 338.6 215.9 338.9 215.5 338.9 215 339.3 214.6 339.3 214.1 340 213.2 340 212.8 340.3 212.3 340.3 211.9 341.4 210.5 341.4 210.1 344.1 206.6 344.4 206.6 345.1 205.7 345.5 205.7 346.1 204.8 346.5 204.8 347.2 203.9 347.5 203.9 348.2 203 348.6 203 348.9 202.5 349.3 202.5 349.6 202.1 350 202.1 350.3 201.6 350.6 201.6 351 201.2 351.3 201.2 351.7 200.7 352.4 200.7 352.7 200.3 353.1 200.3 353.4 199.8 354.1 199.8 354.4 199.4 354.8 199.4 355.1 198.9 355.8 198.9 356.2 198.5 357.2 198.5 357.6 198 358.3 198 358.6 197.6 360 197.6 360.3 197.1 361.4 197.1 361.7 196.7 363.8 196.7 364.1 196.2 367.2 196.2 367.6 195.8 388.7 195.8 391.8 191.6 391.8 182 388.7 180.9 387 180.6 382.5 180.8 376.9 180.3 374.9 180.4 372.8 180.8 371.4 181.2 370 182.3 366.6 183.6 365.2 184.7 364.8 184.7 364.1 185.4 363.8 185.3 363.4 185.4 363.4 185.9 363.3 185.8 363.1 185.4 362.1 185.6 358.6 186.4 355.5 187.4 352.4 188.6 351.9 188.9 351.9 189.4 351.3 189.9 351 189.5 350.6 189.8 346.1 191.2 344.4 192 342.3 193.3 337.5 197 334.4 200 331.7 203.3 328.5 208.3 323.7 213.7 323.7 214.1 323.3 214.6 323.3 216.4 323 216.8 323 219.1 322.6 219.5 322.6 223.1 322.3 223.5 322.3 228.5 324 230.8ZM351 190.8 350.9 190.7 351 190.5 351.1 190.7ZM351.3 189.4 351.3 189.4ZM368.3 181.8 368.6 181.9 368.8 181.8 368.6 181.7Z" fill="#f8bda1"/>
<path d="M324.4 231.2 324.7 231.6 334.1 231.6 336.5 228.5 336.5 224 336.9 223.5 336.9 222.2 337.2 221.8 337.2 220.4 337.6 220 337.6 219.1 337.9 218.6 337.9 217.7 338.2 217.3 338.2 216.8 338.6 216.4 338.6 215.9 338.9 215.5 338.9 215 339.3 214.6 339.3 214.1 340 213.2 340 212.8 340.3 212.3 340.3 211.9 341.4 210.5 341.4 210.1 344.1 206.5 344.4 206.5 345.1 205.6 345.5 205.6 346.1 204.7 346.5 204.7 347.2 203.8 347.5 203.8 348.2 202.9 348.6 202.9 348.9 202.5 349.3 202.5 349.6 202 350 202 350.3 201.6 350.6 201.6 351 201.2 351.3 201.2 351.7 200.7 352.4 200.7 352.7 200.3 353.1 200.3 353.4 199.8 354.1 199.8 354.4 199.4 354.8 199.4 355.1 198.9 355.8 198.9 356.2 198.5 357.2 198.5 357.6 198 358.3 198 358.6 197.6 360 197.6 360.3 197.1 361.4 197.1 361.7 196.7 363.8 196.7 364.1 196.2 367.2 196.2 367.6 195.8 388.7 195.8 391.8 191.6 391.8 184.6 388.7 183.3 387 183 382.5 182.8 377.3 182.2 375.2 182.2 373.5 182.4 372.1 182.8 370.4 183.7 364.6 185.4 363.1 186.5 362.7 186.5 362.1 187.3 361.7 187.2 361.4 187.7 361.1 187.6 361 187.3 360.3 187.5 357.2 188.3 354.1 189.5 351.3 190.7 350.9 191.2 350.9 191.6 350.3 192.2 350.2 192.1 350.3 191.4 350 191.6 345.1 193.6 342.7 195.1 338.1 198.8 335.4 201.5 333.3 204.1 330.9 207.8 326.2 213.2 324.6 215.5 324 217.3 323.8 219.5 323.8 230.3 324 230.7ZM350 193 350 193ZM360.3 188.5 360.3 188.4 360.4 188.5ZM361 188.1 361 188Z" fill="#f4a582"/>
<path d="M325.6 231.6 334.1 231.6 336.5 228.5 336.5 224 336.9 223.5 336.9 222.2 337.2 221.8 337.2 220.4 337.5 220 337.5 219.1 337.9 218.6 337.9 217.7 338.2 217.3 338.2 216.8 338.6 216.4 338.6 215.9 338.9 215.5 338.9 215 339.3 214.6 339.3 214.1 340 213.2 340 212.8 340.3 212.3 340.3 211.9 341.3 210.5 341.3 210.1 344.1 206.5 344.4 206.5 345.1 205.6 345.5 205.6 346.1 204.7 346.5 204.7 347.2 203.8 347.5 203.8 348.2 202.9 348.6 202.9 348.9 202.5 349.3 202.5 349.6 202 350 202 350.3 201.6 350.6 201.6 351 201.1 351.3 201.1 351.7 200.7 352.4 200.7 352.7 200.2 353.1 200.2 353.4 199.8 354.1 199.8 354.4 199.3 354.8 199.3 355.1 198.9 355.8 198.9 356.2 198.4 357.2 198.4 357.6 198 358.3 198 358.6 197.5 360 197.5 360.3 197.1 361.4 197.1 361.7 196.6 363.8 196.6 364.1 196.2 367.2 196.2 367.6 195.7 388.7 195.7 391.8 191.6 391.8 186.8 391.1 186.5 388.7 185.5 387 185.1 382.5 184.7 377.6 183.9 374.5 183.9 372.8 184.1 370.4 184.9 368.6 185.2 362.7 187.1 361 188.3 360.7 188.4 360 189.1 359.6 189 359.3 189.6 358.9 189.2 354.1 190.9 350.3 192.8 350 193.3 349.7 193.4 349.8 193.9 349.6 194.1 349.4 193.9 349.5 193.4 349.3 193.3 344.8 195.6 341.6 197.9 337.3 202 335.1 204.6 332.4 208.3 328 213.2 326.5 215.5 325.8 217.3 325.7 218.6 325.6 231.2ZM357.2 191.2 357.3 191.2ZM358.3 190.4 358.1 190.3 358.3 190 358.4 190.3ZM358.9 189.9 358.8 189.8 358.9 189.5 359 189.8Z" fill="#e7866a"/>
<path d="M327.1 231.6 334.1 231.6 336.5 228.5 336.5 224 336.8 223.5 336.8 222.2 337.2 221.8 337.2 220.4 337.5 220 337.5 219.1 337.9 218.6 337.9 217.7 338.2 217.3 338.2 216.8 338.6 216.4 338.6 215.9 338.9 215.5 338.9 215 339.3 214.6 339.3 214.1 340 213.2 340 212.8 340.3 212.3 340.3 211.9 341.3 210.5 341.3 210.1 344.1 206.5 344.4 206.5 345.1 205.6 345.5 205.6 346.1 204.7 346.5 204.7 347.2 203.8 347.5 203.8 348.2 202.9 348.6 202.9 348.9 202.5 349.3 202.5 349.6 202 350 202 350.3 201.6 350.6 201.6 351 201.1 351.3 201.1 351.7 200.7 352.4 200.7 352.7 200.2 353.1 200.2 353.4 199.8 354.1 199.8 354.4 199.3 354.8 199.3 355.1 198.9 355.8 198.9 356.2 198.4 357.2 198.4 357.6 198 358.3 198 358.6 197.5 360 197.5 360.3 197.1 361.4 197.1 361.7 196.6 363.8 196.6 364.1 196.2 367.2 196.2 367.6 195.7 388.7 195.7 391.8 191.6 391.8 188.8 388.3 187.3 386.6 186.9 382.5 186.4 377.6 185.5 375.5 185.3 373.8 185.4 368.3 186.4 364.8 187.5 361 189 360.7 189 359.3 189.8 357.9 191 357.6 190.9 357.5 191.2 356.9 191.8 356.6 191.6 356.5 191.3 354.1 192.3 349.6 194.6 348.9 195.5 348.6 195 345.8 196.6 342.7 198.9 339 202.4 337.1 204.7 334.3 208.3 329.7 213.2 328.2 215.5 327.6 216.8 327.2 218.6 327.1 231.4ZM348.6 196.2 348.6 196.1ZM353.1 194.8 353.1 194.8ZM354.1 193.9 354.1 193.8 354.2 193.9ZM355.1 193.1 355 193 355.1 192.8 355.3 193ZM355.8 192.6 355.8 192.4 355.9 192.5ZM356.2 192.3 355.9 192.1 356.2 191.7 356.4 192.1ZM356.8 191.2 356.9 191.2Z" fill="#d96853"/>
<path d="M328.4 231.6 334.1 231.6 336.5 228.5 336.5 224 336.8 223.5 336.8 222.2 337.2 221.8 337.2 220.4 337.5 220 337.5 219.1 337.9 218.6 337.9 217.7 338.2 217.3 338.2 216.8 338.6 216.4 338.6 215.9 338.9 215.5 338.9 215 339.3 214.6 339.3 214.1 339.9 213.2 339.9 212.8 340.3 212.3 340.3 211.9 341.3 210.5 341.3 210.1 344.1 206.5 344.4 206.5 345.1 205.6 345.5 205.6 346.1 204.7 346.5 204.7 347.2 203.8 347.5 203.8 348.2 202.9 348.6 202.9 348.9 202.5 349.3 202.5 349.6 202 350 202 350.3 201.6 350.6 201.6 351 201.1 351.3 201.1 351.7 200.7 352.4 200.7 352.7 200.2 353.1 200.2 353.4 199.8 354.1 199.8 354.4 199.3 354.8 199.3 355.1 198.9 355.8 198.9 356.2 198.4 357.2 198.4 357.6 198 358.3 198 358.6 197.5 360 197.5 360.3 197.1 361.4 197.1 361.7 196.6 363.8 196.6 364.1 196.2 367.2 196.2 367.6 195.7 388.7 195.7 391.8 191.6 391.8 190.7 389 189.3 387.3 188.7 382.5 188 376.9 186.8 374.5 186.7 372.4 186.8 368.6 187.3 363.7 188.9 357.9 191.6 357.5 191.6 357.2 192 356.2 192.5 354.8 193.7 354.4 193.4 354.3 193.4 354.4 193.9 353.8 194.5 353.5 194.3 353.8 193.9 353.8 193.7 352 194.5 348.6 196.6 348.2 197.3 347.9 196.7 344.4 199.1 341.3 201.9 338.9 204.7 335.3 209.2 331.1 213.7 329.8 215.5 329 217.3 328.7 219.1 328.4 231.2ZM347.9 199.4 347.9 199.2 348 199.3ZM348.9 198.5 348.9 198.3 349.1 198.4ZM349.6 198 349.6 197.9ZM350 197.7 349.8 197.5 350 197.3 350.1 197.5ZM350.6 197.1 350.7 197ZM351 196.8 350.8 196.6 351 196.4 351.2 196.6ZM351.7 196.2 351.7 196 351.8 196.1ZM352 195.9 351.8 195.7 352 195.4 352.3 195.7ZM352.7 195.4 352.6 195.2 353.1 194.4 353.3 194.8 352.9 195.2Z" fill="#ca4842"/>
<path d="M329.7 231.6 334.1 231.6 336.5 228.5 336.5 224 336.8 223.5 336.8 222.2 337.2 221.8 337.2 220.4 337.5 220 337.5 219.1 337.9 218.6 337.9 217.7 338.2 217.3 338.2 216.8 338.6 216.4 338.6 215.9 338.9 215.5 338.9 215 339.2 214.6 339.2 214.1 339.9 213.2 339.9 212.8 340.3 212.3 340.3 211.9 341.3 210.5 341.3 210.1 344.1 206.5 344.4 206.5 345.1 205.6 345.5 205.6 346.1 204.7 346.5 204.7 347.2 203.8 347.5 203.8 348.2 202.9 348.6 202.9 348.9 202.4 349.3 202.4 349.6 202 350 202 350.3 201.5 350.6 201.5 351 201.1 351.3 201.1 351.7 200.7 352.4 200.7 352.7 200.2 353.1 200.2 353.4 199.8 354.1 199.8 354.4 199.3 354.8 199.3 355.1 198.9 355.8 198.9 356.2 198.4 357.2 198.4 357.6 198 358.3 198 358.6 197.5 360 197.5 360.3 197.1 361.4 197.1 361.7 196.6 363.8 196.6 364.1 196.2 367.2 196.2 367.6 195.7 388.7 195.7 391.3 192.1 388.7 190.8 387.3 190.3 377.6 188.3 373.8 187.9 369 188.3 366.5 188.9 363.1 190.3 353.4 195.2 351 197 347.2 200.3 347.3 199.7 347.6 199.3 347.4 198.8 347.5 198.4 347.7 198.8 348.2 199.2 348.9 198 349.3 198.2 349.7 197.5 349.6 197.1 347.9 198.4 347.5 198.3 347.2 198.4 344.1 200.8 341.7 203.2 336.5 209.6 332.5 214.1 330.9 216.4 330.4 217.7 330.1 220 329.7 225.8 329.7 231.2ZM346.5 201.4 346.4 201.1 346.5 201 346.7 201.1ZM346.8 200.9 346.7 200.6 346.8 200.5 347.1 200.6ZM349.8 197 350.3 197.2 350.3 196.7 350 196.9ZM350.5 196.6 350.6 196.5ZM351.3 196.1 351.3 196.1Z" fill="#ba2833"/>
<path d="M331.1 231.6 334 231.6 336.5 228.5 336.5 224 336.8 223.5 336.8 222.2 337.2 221.8 337.2 220.4 337.5 220 337.5 219.1 337.9 218.6 337.9 217.7 338.2 217.3 338.2 216.8 338.5 216.4 338.5 215.9 338.9 215.5 338.9 215 339.2 214.6 339.2 214.1 339.9 213.2 339.9 212.8 340.3 212.3 340.3 211.9 341.3 210.5 341.3 210.1 344.1 206.5 344.4 206.5 345.1 205.6 345.5 205.6 346.1 204.7 346.5 204.7 347.2 203.8 347.5 203.8 348.2 202.9 348.6 202.9 348.9 202.4 349.3 202.4 349.6 202 350 202 350.3 201.5 350.6 201.5 351 201.1 351.3 201.1 351.7 200.6 352.4 200.6 352.7 200.2 353.1 200.2 353.4 199.7 354.1 199.7 354.4 199.3 354.8 199.3 355.1 198.8 355.8 198.8 356.2 198.4 357.2 198.4 357.6 197.9 358.3 197.9 358.6 197.5 360 197.5 360.3 197 361.4 197 361.7 196.6 363.8 196.6 364.1 196.1 367.2 196.1 367.6 195.7 388.7 195.7 390.4 193.4 390.4 193.1 388.3 192.1 386.6 191.5 377.3 189.4 373.1 189.1 369 189.4 366.6 190.1 363.8 191.2 358.3 193.7 355.1 195.4 352.7 197 350 199.2 346.5 202.2 345.5 203.4 345.3 203.3 345.3 202.9 345.9 202 346.2 201.1 346.9 200.2 346.8 199.7 346.5 200.2 343.8 202.4 342 204.4 334 214.1 332.5 216.4 331.9 217.7 331.6 219.1 331 223.5 330.8 227.1 331.1 231.2ZM345.1 203.9 345.1 203.5 345.2 203.8Z" fill="#b2182b"/>
<path d="M386.2 191.9 388.3 184.4 390.3 177.6M383.6 191.9 385.4 184.4 388.4 173.2 389.4 168.9 390.1 165.1 390.3 161.8M380.1 191.9 383.6 174.6 384.6 168.6 384.9 165.9 385 163.7 385 161.5 384.7 159.3 383.5 153.3 382.1 147.4 381.5 145.3 380.6 143.3 379.3 141.5 378.6 140.7 377.3 139.6 374.6 137.8 371.6 136.2M376.6 191.9 379 177.2 379.9 169 380.1 166.8 380.1 164.6 379.9 162.4 379.6 160.2 378.7 157 377.4 153.4 376.5 151.4 375.3 149.5 373.8 147.9 372.1 146.5 368.9 144.4 366.5 143M373.2 191.9 374.7 181 375.1 176.6 375.5 167.2 375.3 165 374.8 162.3 373.9 159.7 373 157.7 372.2 156.3 370.8 154.5 368.9 152.6 366.7 150.9 364.3 149.4 361.8 148.3M369.4 191.9 369.6 189.1 370.6 182 370.7 180.4 370.3 173.2 369.8 168.3 369.5 166.7 368.9 164.6 368.2 163.1 367.6 162.1 366.9 161.3 365.6 160.2 363.7 159.1 361.7 158.2 355.6 155.6M367.2 192 367.4 182.1 366 172.8 365.8 171.8 365.3 170.8 364.7 169.8 364 169 363.2 168.2 362.3 167.5 354.9 163.9 350.9 162M364.5 192.3 363.7 186.9 363.4 185.3 362 181.1 360.7 177.4 359.4 175.6 358.7 174.8 357.8 174.1 356.9 173.5 355.4 172.7 350.9 170.7 345.7 168.8M362.2 192.8 360.9 188.5 360.3 187 358.7 184.1 357 181.3 356.3 180.4 355.5 179.6 353.7 178.4 350.7 177.1 346.5 175.6 341.7 174.2M360.5 193.2 359 189.6 358.1 188.3 354.9 183.8 353.6 182.7 351.7 181.6 349.6 180.8 344.4 179.1 339.5 177.9M359 193.6 357.6 191.2 356.3 189.5 353.4 186.2 352 185.2 350.6 184.4 347.9 183.5 341.5 181.8 337.8 180.9M357.6 194.1 356.1 191.8 354.2 189.8 352.6 188.3 350.7 187.1 348.6 186.3 346 185.6 340 184.3 336.2 183.6M354.4 195.4 353.2 194.3 350.5 192.4 349 191.7 346.9 191.1 343.6 190.5 338.6 190.1 335.3 190.1 332.5 190.4M352.2 196.6 350.8 195.7 349.3 194.9 348.8 194.7 346.1 194 343.4 193.7 340.1 193.6 336.7 193.7 333.5 194.2 330.2 195.1M349 198.6 347.4 198.1 344.1 197.7 341.3 197.7 338.5 198 335.8 198.6 333.2 199.4 330.6 200.5 327.7 202.1M346.5 200.5 343.7 200.4 341 200.6 338.8 201 336.1 201.7 333.6 202.8 331.1 204.1 328.4 205.9 326.3 207.7M344.9 201.9 341.5 202.2 338.8 202.8 336.2 203.6 333.7 204.8 330.9 206.6 328.7 208.3 326.8 210.3 325.1 212.4M340.7 206.5 338.7 207.3 337.2 208.1 335.7 208.9 334.4 209.9 333.1 211 332 212.1 330.9 213.4 329.6 215.2 328.8 216.6 327.9 218.6 327.1 220.7 326.5 222.8 326.1 225 325.9 226.6 325.8 228.3 326 230.5M336.5 213.7 335 215.4 333.8 217.2 332.8 219.2 331.8 221.8 331.3 223.9 331.1 226.1 331 228.3 331.3 230.5" fill="none" stroke="#111" stroke-width="0.45" stroke-opacity="0.8"/>
<path d="M388 185.4 388.1 186.8 387.2 186.5ZM385.2 185.4 385.4 186.7 384.4 186.5ZM381.4 185.3 381.6 186.6 380.7 186.4ZM383.8 173.4 384.1 174.7 383.1 174.6ZM384.9 161.4 385.5 162.6 384.5 162.7ZM382.6 149.5 383.4 150.6 382.4 150.8ZM376.8 139.3 378.1 139.6 377.5 140.4ZM377.7 185.3 377.9 186.6 377 186.4ZM379.5 173.3 379.8 174.6 378.9 174.5ZM379.8 161.2 380.4 162.4 379.5 162.5ZM375.6 149.9 376.7 150.7 375.9 151.2ZM374.1 185.3 374.4 186.6 373.5 186.4ZM375.3 173.2 375.7 174.5 374.7 174.4ZM374.5 161.2 375.3 162.2 374.4 162.5ZM367.5 151.5 368.8 151.9 368.2 152.6ZM370.1 185.3 370.4 186.5 369.5 186.4ZM370.3 173.2 370.8 174.4 369.9 174.4ZM367.3 161.6 368.4 162.3 367.6 162.9ZM367.3 185.3 367.8 186.6 366.8 186.5ZM366.1 173.3 366.8 174.5 365.8 174.6ZM357.8 165.3 359.1 165.4 358.7 166.3ZM363.5 185.7 364.2 186.9 363.3 187ZM358.6 174.8 359.8 175.3 359.1 176ZM347.7 169.5 349 169.5 348.7 170.4ZM360 186.5 361 187.4 360.1 187.8ZM352.2 177.7 353.5 177.7 353.1 178.6ZM357.4 187.3 358.5 188 357.7 188.6ZM348 180.2 349.3 180.2 349 181.1ZM355.2 188.2 356.4 188.8 355.6 189.4ZM344.7 182.6 346 182.5 345.7 183.4ZM353.3 189 354.6 189.5 353.9 190.2ZM342.1 184.7 343.4 184.5 343.2 185.5ZM348.9 191.7 350.3 191.7 349.9 192.6ZM336.9 190.1 338.1 189.6 338.1 190.5ZM346.1 194 347.4 193.8 347.2 194.7ZM333.9 194.1 335.1 193.4 335.2 194.4ZM342.3 197.7 343.6 197.2 343.6 198.2ZM330.6 200.5 331.5 199.6 331.9 200.4ZM339.8 200.8 341 200.1 341.1 201ZM328.8 205.6 329.5 204.5 330 205.3ZM338.2 202.9 339.3 202.1 339.6 203.1ZM327.9 209.1 328.4 207.9 329.1 208.6ZM334.8 209.6 335.5 208.5 336.1 209.3ZM327.6 219.2 327.7 217.9 328.5 218.2ZM332.8 219.3 332.9 217.9 333.7 218.3Z" fill="#111"/>
</g>
<g stroke="#444" fill="none">
<path d="M314.9 136.9 V228.7 H407.3" stroke-width="0.5"/>
<path d="M314.9 228.7h2.4M314.9 225h1.1M314.9 221.4h1.1M314.9 217.7h1.1M314.9 214h1.1M314.9 210.3h2.4M314.9 206.7h1.1M314.9 203h1.1M314.9 199.3h1.1M314.9 195.7h1.1M314.9 192h2.4M314.9 188.3h1.1M314.9 184.6h1.1M314.9 181h1.1M314.9 177.3h1.1M314.9 173.6h2.4M314.9 169.9h1.1M314.9 166.3h1.1M314.9 162.6h1.1M314.9 158.9h1.1M314.9 155.3h2.4M314.9 151.6h1.1M314.9 147.9h1.1M314.9 144.2h1.1M314.9 140.6h1.1M314.9 136.9h2.4M314.9 228.7v-2.4M318.6 228.7v-1.1M322.3 228.7v-1.1M326 228.7v-1.1M329.7 228.7v-1.1M333.4 228.7v-2.4M337.1 228.7v-1.1M340.8 228.7v-1.1M344.5 228.7v-1.1M348.2 228.7v-1.1M351.8 228.7v-2.4M355.5 228.7v-1.1M359.2 228.7v-1.1M362.9 228.7v-1.1M366.6 228.7v-1.1M370.3 228.7v-2.4M374 228.7v-1.1M377.7 228.7v-1.1M381.4 228.7v-1.1M385.1 228.7v-1.1M388.8 228.7v-2.4M392.5 228.7v-1.1M396.2 228.7v-1.1M399.9 228.7v-1.1M403.6 228.7v-1.1M407.3 228.7v-2.4" stroke-width="0.45"/>
</g>
<g font-family="Liberation Sans, sans-serif" font-size="3" font-weight="bold" fill="#222">
<text x="313.7" y="137.9" text-anchor="end">2.5</text>
<text x="313.7" y="156.3" text-anchor="end">2</text>
<text x="313.7" y="174.7" text-anchor="end">1.5</text>
<text x="313.7" y="193" text-anchor="end">1</text>
<text x="313.7" y="211.4" text-anchor="end">0.5</text>
<text x="313.7" y="229.8" text-anchor="end">0</text>
<text x="314.9" y="231.8" text-anchor="middle">-1.5</text>
<text x="333.4" y="231.8" text-anchor="middle">-1</text>
<text x="351.8" y="231.8" text-anchor="middle">-0.5</text>
<text x="370.3" y="231.8" text-anchor="middle">0</text>
<text x="388.8" y="231.8" text-anchor="middle">0.5</text>
<text x="407.3" y="231.8" text-anchor="middle">1</text>
</g>
<g font-family="Liberation Sans, sans-serif" font-size="4" font-weight="bold" fill="#000">
<text x="361.1" y="236.3" text-anchor="middle">x</text>
<text x="306.3" y="183.8" text-anchor="middle">y</text>
</g>
<rect x="394.9" y="148.1" width="13.6" height="41" fill="#fff" stroke="#999" stroke-width="0.5"/>
<rect x="396.4" y="154.50" width="3.9" height="1.87" fill="#ba2732"/>
<rect x="396.4" y="156.22" width="3.9" height="1.87" fill="#c94540"/>
<rect x="396.4" y="157.93" width="3.9" height="1.87" fill="#d86450"/>
<rect x="396.4" y="159.65" width="3.9" height="1.87" fill="#e48166"/>
<rect x="396.4" y="161.36" width="3.9" height="1.87" fill="#f19e7c"/>
<rect x="396.4" y="163.08" width="3.9" height="1.87" fill="#f7b698"/>
<rect x="396.4" y="164.79" width="3.9" height="1.87" fill="#fbcdb5"/>
<rect x="396.4" y="166.51" width="3.9" height="1.87" fill="#fcdfcf"/>
<rect x="396.4" y="168.23" width="3.9" height="1.87" fill="#faebe3"/>
<rect x="396.4" y="169.94" width="3.9" height="1.87" fill="#f7f7f7"/>
<rect x="396.4" y="171.66" width="3.9" height="1.87" fill="#e7eff4"/>
<rect x="396.4" y="173.37" width="3.9" height="1.87" fill="#d7e8f1"/>
<rect x="396.4" y="175.09" width="3.9" height="1.87" fill="#c0ddeb"/>
<rect x="396.4" y="176.81" width="3.9" height="1.87" fill="#a6cfe4"/>
<rect x="396.4" y="178.52" width="3.9" height="1.87" fill="#8ac0db"/>
<rect x="396.4" y="180.24" width="3.9" height="1.87" fill="#68abd0"/>
<rect x="396.4" y="181.95" width="3.9" height="1.87" fill="#4796c4"/>
<rect x="396.4" y="183.67" width="3.9" height="1.87" fill="#3682bb"/>
<rect x="396.4" y="185.38" width="3.9" height="1.87" fill="#286fb1"/>
<g font-family="Liberation Sans, sans-serif" font-size="2.4" font-weight="bold" fill="#222">
<text x="401.7" y="156.7">1</text>
<text x="401.7" y="160.1">0.9</text>
<text x="401.7" y="163.5">0.8</text>
<text x="401.7" y="166.9">0.7</text>
<text x="401.7" y="170.3">0.6</text>
<text x="401.7" y="173.7">0.5</text>
<text x="401.7" y="177.1">0.4</text>
<text x="401.7" y="180.5">0.3</text>
<text x="401.7" y="183.9">0.2</text>
<text x="401.7" y="187.3">0.1</text>
</g>
<text x="407.7" y="152" font-family="Liberation Sans, sans-serif" font-size="2.8" font-weight="bold" fill="#111" text-anchor="end">B<tspan font-size="2" dy="0.6">t</tspan><tspan dy="-0.6">/B</tspan><tspan font-size="2" dy="0.6">0</tspan></text>
<text x="360.8" y="250.3" font-family="Liberation Serif, serif" font-size="6.35" fill="#222" text-anchor="middle">(f) <tspan font-style="italic">Ma</tspan><tspan font-size="4.6" dy="1.1">∞</tspan><tspan dy="-1.1"> = 30, total magnetic field.</tspan></text>
</svg>
</body></html>
